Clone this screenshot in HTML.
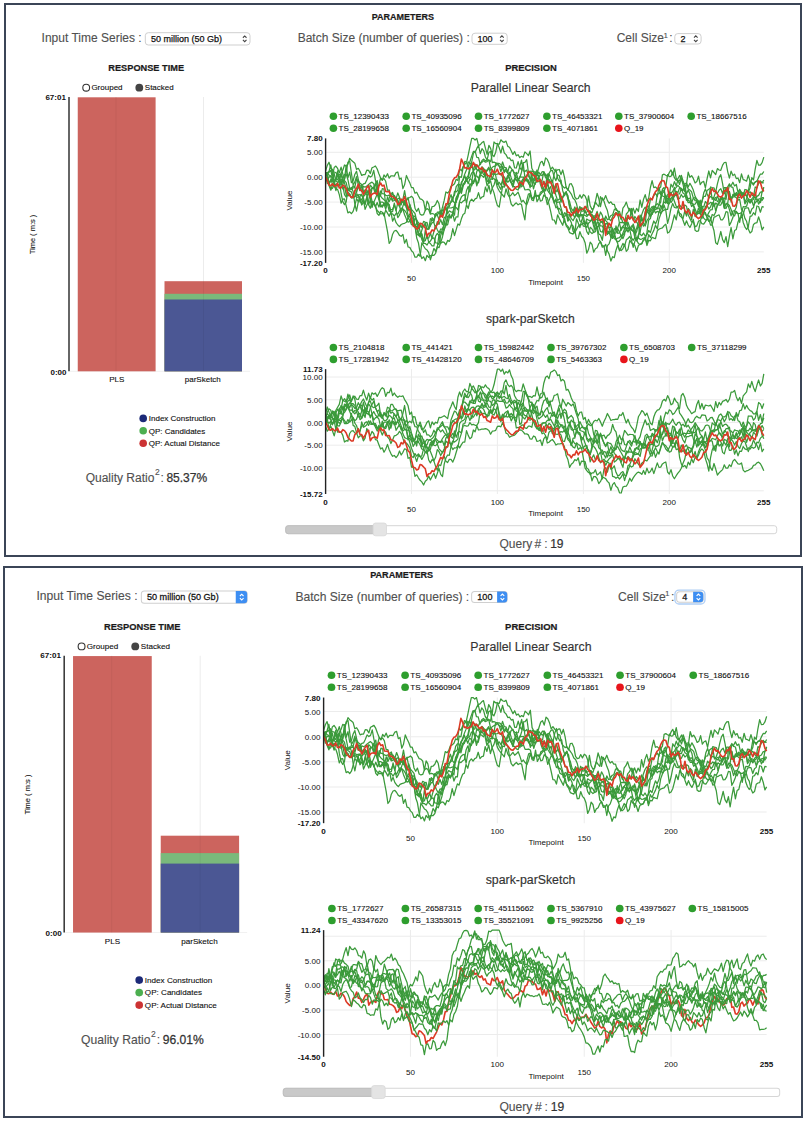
<!DOCTYPE html><html><head><meta charset="utf-8"><style>
html,body{margin:0;padding:0;background:#fff;}
body{width:807px;height:1123px;position:relative;overflow:hidden;font-family:"Liberation Sans",sans-serif;}
</style></head><body>
<svg width="807" height="1123" viewBox="0 0 807 1123" style="position:absolute;left:0;top:0" font-family="Liberation Sans, sans-serif" fill="#111">
<rect width="807" height="1123" fill="#fff"/>
<rect x="5" y="4" width="796" height="552" fill="none" stroke="#3b4557" stroke-width="2"/>
<rect x="4" y="567" width="798" height="550" fill="none" stroke="#3b4557" stroke-width="2"/>
<g><text x="402.8" y="20.1" font-size="9.6" textLength="62.3" lengthAdjust="spacingAndGlyphs" fill="#1a1a1a" font-weight="bold" text-anchor="middle" stroke="#1a1a1a" stroke-width="0.2">PARAMETERS</text>
<text x="41.6" y="42.1" font-size="12" fill="#505050" stroke="#505050" stroke-width="0.12">Input Time Series :</text>
<rect x="145.3" y="32.7" width="104.7" height="12.3" rx="3" fill="#fff" stroke="#cfcfcf" stroke-width="1"/>
<path d="M242.9 37.75 L244.7 35.95 L246.5 37.75 M242.9 39.95 L244.7 41.75 L246.5 39.95" fill="none" stroke="#444" stroke-width="1.1"/>
<text x="150.9" y="42.05" font-size="9" fill="#111" stroke="#111" stroke-width="0.25">50 million (50 Gb)</text>
<text x="297.7" y="42.3" font-size="12" fill="#505050" stroke="#505050" stroke-width="0.12">Batch Size (number of queries) :</text>
<rect x="472" y="33.2" width="35.2" height="11.1" rx="3" fill="#fff" stroke="#cfcfcf" stroke-width="1"/>
<path d="M500.1 37.65 L501.9 35.85 L503.7 37.65 M500.1 39.85 L501.9 41.65 L503.7 39.85" fill="none" stroke="#444" stroke-width="1.1"/>
<text x="477.6" y="41.95" font-size="9" fill="#111" stroke="#111" stroke-width="0.25">100</text>
<text x="616.7" y="42.3" font-size="12" fill="#505050" stroke="#505050" stroke-width="0.12">Cell Size</text>
<text x="663.4" y="37.6" font-size="8" fill="#505050" stroke="#505050" stroke-width="0.1">1</text>
<text x="669.3" y="42.3" font-size="12" fill="#505050" stroke="#505050" stroke-width="0.12">:</text>
<rect x="674.8" y="33.6" width="26.3" height="10.4" rx="3" fill="#fff" stroke="#cfcfcf" stroke-width="1"/>
<path d="M694 37.7 L695.8 35.9 L697.6 37.7 M694 39.9 L695.8 41.7 L697.6 39.9" fill="none" stroke="#444" stroke-width="1.1"/>
<text x="680.4" y="42" font-size="9" fill="#111" stroke="#111" stroke-width="0.25">2</text>
<text x="146.2" y="71.1" font-size="9.5" textLength="75.8" lengthAdjust="spacingAndGlyphs" fill="#1a1a1a" font-weight="bold" text-anchor="middle" stroke="#1a1a1a" stroke-width="0.2">RESPONSE TIME</text>
<text x="531" y="71.1" font-size="9.6" textLength="51.7" lengthAdjust="spacingAndGlyphs" fill="#1a1a1a" font-weight="bold" text-anchor="middle" stroke="#1a1a1a" stroke-width="0.2">PRECISION</text>
<text x="530.6" y="92.2" font-size="12.2" fill="#333" text-anchor="middle" stroke="#333" stroke-width="0.15">Parallel Linear Search</text>
<text x="530.3" y="323.3" font-size="12.2" fill="#333" text-anchor="middle" stroke="#333" stroke-width="0.15">spark-parSketch</text>
<line x1="70" y1="371.3" x2="250" y2="371.3" stroke="#f1f1f1"/>
<line x1="116" y1="97" x2="116" y2="371" stroke="#ececec"/>
<line x1="203.5" y1="97" x2="203.5" y2="371" stroke="#ececec"/>
<rect x="77.75" y="97.3" width="77.85" height="274" fill="#cc645e"/>
<rect x="164.5" y="281.2" width="77.5" height="90.1" fill="#cc645e"/>
<rect x="164.5" y="293.8" width="77.5" height="77.5" fill="#7ab97b"/>
<rect x="164.5" y="299.5" width="77.5" height="71.8" fill="#4b5794"/>
<line x1="116" y1="97.3" x2="116" y2="371.3" stroke="#000" stroke-opacity="0.05"/>
<line x1="203.5" y1="281.2" x2="203.5" y2="371.3" stroke="#000" stroke-opacity="0.05"/>
<line x1="69" y1="97" x2="69" y2="371.3" stroke="#333" stroke-width="1.5"/>
<text x="65.9" y="99.6" font-size="8" font-weight="bold" text-anchor="end">67:01</text>
<text x="66.5" y="374.6" font-size="8" font-weight="bold" text-anchor="end">0:00</text>
<text transform="translate(35.3,234.5) rotate(-90)" font-size="8" text-anchor="middle" stroke="#111" stroke-width="0.1" textLength="39.5" lengthAdjust="spacingAndGlyphs">Time ( m:s )</text>
<text x="116.7" y="382.2" font-size="8" text-anchor="middle" stroke="#111" stroke-width="0.12">PLS</text>
<text x="202.8" y="382.2" font-size="8" text-anchor="middle" stroke="#111" stroke-width="0.12">parSketch</text>
<circle cx="86.2" cy="87.7" r="3.4" fill="#fff" stroke="#333" stroke-width="1.1"/>
<text x="91.4" y="90.2" font-size="8" stroke="#111" stroke-width="0.12">Grouped</text>
<circle cx="139.3" cy="87.7" r="3.9" fill="#444"/>
<text x="144.8" y="90.2" font-size="8" stroke="#111" stroke-width="0.12">Stacked</text>
<circle cx="143.2" cy="418.4" r="3.8" fill="#1c2a78"/>
<text x="148.8" y="421.3" font-size="8" stroke="#111" stroke-width="0.12">Index Construction</text>
<circle cx="143.2" cy="430.8" r="3.8" fill="#4caf50"/>
<text x="148.8" y="433.7" font-size="8" stroke="#111" stroke-width="0.12">QP: Candidates</text>
<circle cx="143.2" cy="443.2" r="3.8" fill="#cc3333"/>
<text x="148.8" y="446.1" font-size="8" stroke="#111" stroke-width="0.12">QP: Actual Distance</text>
<text x="85.7" y="481.6" font-size="12" fill="#505050" stroke="#505050" stroke-width="0.12">Quality Ratio</text>
<text x="154.9" y="475.2" font-size="8.5" fill="#505050" stroke="#505050" stroke-width="0.1">2</text>
<text x="160.6" y="481.6" font-size="12" fill="#505050" stroke="#505050" stroke-width="0.12">:</text>
<text x="166.4" y="481.6" font-size="12" fill="#333" stroke="#333" stroke-width="0.25">85.37%</text>
<line x1="325.6" y1="152.3" x2="763.8" y2="152.3" stroke="#ececec"/>
<line x1="325.6" y1="177.2" x2="763.8" y2="177.2" stroke="#ececec"/>
<line x1="325.6" y1="202.1" x2="763.8" y2="202.1" stroke="#ececec"/>
<line x1="325.6" y1="227" x2="763.8" y2="227" stroke="#ececec"/>
<line x1="325.6" y1="251.9" x2="763.8" y2="251.9" stroke="#ececec"/>
<line x1="411.5" y1="138.4" x2="411.5" y2="262.9" stroke="#ececec"/>
<line x1="497.4" y1="138.4" x2="497.4" y2="262.9" stroke="#ececec"/>
<line x1="583.4" y1="138.4" x2="583.4" y2="262.9" stroke="#ececec"/>
<line x1="669.3" y1="138.4" x2="669.3" y2="262.9" stroke="#ececec"/>
<path d="M325.6 175.8 327.3 175 329 185.6 330.8 190.2 332.5 184.4 334.2 187 335.9 184.3 337.6 183.2 339.3 179.7 341.1 180 342.8 178.9 344.5 183.1 346.2 188.5 347.9 192.3 349.7 193.9 351.4 197.9 353.1 198 354.8 196.3 356.5 193.8 358.3 194.8 360 202.2 361.7 199.3 363.4 196.4 365.1 191 366.8 189.8 368.6 194.3 370.3 198 372 188.3 373.7 187.6 375.4 183.9 377.2 180.6 378.9 192.8 380.6 196.1 382.3 198.3 384 199.8 385.7 201.2 387.5 203.7 389.2 205.5 390.9 213.9 392.6 213.8 394.3 216.2 396.1 213.3 397.8 214.3 399.5 210.8 401.2 208.1 402.9 209 404.6 210.4 406.4 213 408.1 217.9 409.8 220.6 411.5 224.7 413.2 224.4 415 226.7 416.7 226.7 418.4 235.7 420.1 233 421.8 239.4 423.6 243.4 425.3 243.5 427 245 428.7 242.2 430.4 243.5 432.1 245.8 433.9 245.8 435.6 236.1 437.3 233.3 439 235.7 440.7 231.4 442.5 234.4 444.2 221.2 445.9 225.8 447.6 219.5 449.3 214.1 451 218.2 452.8 212.6 454.5 205.1 456.2 200.9 457.9 197.6 459.6 191.1 461.4 188.7 463.1 184.9 464.8 183.8 466.5 179.2 468.2 183.7 469.9 178.6 471.7 180 473.4 183.5 475.1 179.5 476.8 171.3 478.5 169.1 480.3 173.9 482 171.6 483.7 174.7 485.4 175.1 487.1 174.1 488.9 183.4 490.6 180.8 492.3 188.4 494 192.9 495.7 199.9 497.4 205.6 499.2 207.1 500.9 196.5 502.6 186.4 504.3 187.2 506 183.2 507.8 186.9 509.5 196.7 511.2 194.8 512.9 192.7 514.6 195.6 516.3 194.2 518.1 192.1 519.8 196.7 521.5 202.1 523.2 200.3 524.9 202.8 526.7 204.9 528.4 200.3 530.1 193.9 531.8 198.6 533.5 197.3 535.2 195.8 537 196.1 538.7 195.2 540.4 201.1 542.1 200.5 543.8 195 545.6 196.9 547.3 204.6 549 200.6 550.7 196.1 552.4 197.7 554.2 203.4 555.9 199 557.6 208.8 559.3 208.3 561 210.7 562.7 217.7 564.5 212.7 566.2 213.6 567.9 221.1 569.6 218.9 571.3 222.4 573.1 231.3 574.8 232.5 576.5 229.4 578.2 226.2 579.9 224.8 581.6 224.7 583.4 223.1 585.1 224.1 586.8 219 588.5 220.2 590.2 220.5 592 219.8 593.7 226.4 595.4 229.4 597.1 222.2 598.8 222.8 600.5 226 602.3 225.9 604 229.7 605.7 228.5 607.4 232.1 609.1 231 610.9 237.9 612.6 230 614.3 232.6 616 239.5 617.7 238.1 619.5 237.7 621.2 235.1 622.9 238.7 624.6 234.4 626.3 217.8 628 227.8 629.8 227.5 631.5 230.2 633.2 229.8 634.9 238.1 636.6 240.4 638.4 234.8 640.1 232.2 641.8 223.2 643.5 226.1 645.2 223.2 646.9 208.7 648.7 213.8 650.4 216.7 652.1 213.9 653.8 211.4 655.5 205.3 657.3 203.6 659 205.6 660.7 202 662.4 189.2 664.1 187.4 665.8 203 667.6 201.8 669.3 203.8 671 198.8 672.7 199 674.4 189.3 676.2 187.3 677.9 185.3 679.6 187.3 681.3 190.1 683 190.7 684.8 183.9 686.5 183 688.2 186.9 689.9 183.3 691.6 186.3 693.3 190.1 695.1 196.3 696.8 199.2 698.5 201 700.2 211.1 701.9 201.2 703.7 196.4 705.4 196.3 707.1 190.6 708.8 189.2 710.5 188.2 712.2 199.3 714 196.9 715.7 191.8 717.4 183.8 719.1 177.3 720.8 174.7 722.6 183.7 724.3 193.8 726 188.3 727.7 186.9 729.4 183.9 731.1 186.8 732.9 187.4 734.6 195.3 736.3 192.5 738 194.6 739.7 192.7 741.5 192.5 743.2 194.9 744.9 194.6 746.6 196 748.3 193 750.1 191.7 751.8 194.7 753.5 196.3 755.2 187 756.9 188 758.6 183.3 760.4 182 762.1 182.6 763.8 182.8" fill="none" stroke="#3b9a3b" stroke-width="1.25" stroke-linejoin="round"/>
<path d="M325.6 172.6 327.3 172.5 329 172.1 330.8 170.6 332.5 178 334.2 180.2 335.9 179.2 337.6 170.9 339.3 181.8 341.1 172.8 342.8 170.2 344.5 165 346.2 166.2 347.9 164.1 349.7 158.3 351.4 160.3 353.1 161.7 354.8 163.2 356.5 169.4 358.3 168.3 360 171.2 361.7 175.4 363.4 174.6 365.1 174.6 366.8 170.2 368.6 170.4 370.3 173.5 372 167.8 373.7 167 375.4 166 377.2 169 378.9 173.7 380.6 177.9 382.3 179.7 384 178.5 385.7 181.3 387.5 190.1 389.2 190 390.9 196.1 392.6 193.6 394.3 198.1 396.1 201.8 397.8 198.7 399.5 198 401.2 204.8 402.9 199.4 404.6 190.6 406.4 201.1 408.1 197.5 409.8 206.6 411.5 212.5 413.2 216.7 415 226.8 416.7 222.7 418.4 224.3 420.1 231.5 421.8 234.2 423.6 241.1 425.3 240.7 427 234.9 428.7 242.4 430.4 241.1 432.1 238.1 433.9 231.6 435.6 225.5 437.3 229.8 439 232.9 440.7 229 442.5 229.1 444.2 229.9 445.9 223.7 447.6 216.2 449.3 216.3 451 217.4 452.8 214 454.5 221.2 456.2 216.8 457.9 217 459.6 201.3 461.4 196.9 463.1 195.3 464.8 194.7 466.5 203.3 468.2 194.3 469.9 183.7 471.7 185.9 473.4 181.4 475.1 178.2 476.8 185.8 478.5 180.2 480.3 174.8 482 175.8 483.7 177.3 485.4 174.3 487.1 181.9 488.9 179.6 490.6 173.2 492.3 179.3 494 173.1 495.7 175.5 497.4 184.5 499.2 182.3 500.9 184.8 502.6 181.3 504.3 185.6 506 179.3 507.8 182.3 509.5 180 511.2 183 512.9 184.3 514.6 179.1 516.3 179.8 518.1 182.7 519.8 188.1 521.5 181.4 523.2 178.6 524.9 181.2 526.7 179.2 528.4 183.2 530.1 185.6 531.8 186.3 533.5 181.9 535.2 179 537 181.7 538.7 177.4 540.4 174.6 542.1 175.7 543.8 173.2 545.6 177.5 547.3 179.9 549 179.4 550.7 181.9 552.4 180.6 554.2 189.2 555.9 184.1 557.6 190.8 559.3 193.3 561 200.9 562.7 198.1 564.5 194.2 566.2 193.3 567.9 195.3 569.6 207.1 571.3 211.9 573.1 214.1 574.8 217.9 576.5 212.8 578.2 213.8 579.9 215.7 581.6 215 583.4 221 585.1 224.8 586.8 227.4 588.5 223.3 590.2 221.5 592 219.4 593.7 216.2 595.4 224.7 597.1 227 598.8 225.7 600.5 231.5 602.3 232.2 604 226.5 605.7 223.9 607.4 223.8 609.1 228.5 610.9 232.5 612.6 229.5 614.3 233.5 616 233 617.7 228.4 619.5 232.3 621.2 235.8 622.9 235.3 624.6 232.2 626.3 230.5 628 230.9 629.8 229.6 631.5 237.9 633.2 240.3 634.9 237.7 636.6 240.3 638.4 243.4 640.1 244.5 641.8 243.8 643.5 239.8 645.2 239.9 646.9 232.7 648.7 220 650.4 218.6 652.1 210.6 653.8 208.9 655.5 213 657.3 211.3 659 212.6 660.7 205.2 662.4 208.3 664.1 198.6 665.8 195.1 667.6 203.6 669.3 194.9 671 184.2 672.7 187.2 674.4 181.6 676.2 185.9 677.9 180 679.6 184.4 681.3 178.4 683 184.3 684.8 191.9 686.5 184.2 688.2 172.1 689.9 177.3 691.6 175.6 693.3 178.4 695.1 182.9 696.8 181.6 698.5 176.2 700.2 184.6 701.9 182.2 703.7 181.4 705.4 187.8 707.1 178.7 708.8 171 710.5 177.8 712.2 170.4 714 172.5 715.7 174.6 717.4 168.6 719.1 170 720.8 170.3 722.6 165.1 724.3 162.5 726 162.3 727.7 171.6 729.4 178.1 731.1 171.2 732.9 175.6 734.6 174.1 736.3 178.6 738 178 739.7 182.7 741.5 173.8 743.2 179.7 744.9 180.2 746.6 181.2 748.3 175.1 750.1 181.3 751.8 182.6 753.5 183.5 755.2 182.3 756.9 181 758.6 183.2 760.4 180.8 762.1 182.9 763.8 180" fill="none" stroke="#3b9a3b" stroke-width="1.25" stroke-linejoin="round"/>
<path d="M325.6 176.5 327.3 177.6 329 181.4 330.8 181.8 332.5 181.2 334.2 173.4 335.9 180.7 337.6 182.7 339.3 179.7 341.1 193.5 342.8 201.6 344.5 204.6 346.2 202 347.9 189.6 349.7 190.3 351.4 187.3 353.1 191.5 354.8 203.7 356.5 211.1 358.3 201.8 360 199.4 361.7 204.4 363.4 197.7 365.1 204.8 366.8 197.3 368.6 191.2 370.3 198.5 372 205.4 373.7 202.2 375.4 207.1 377.2 202.5 378.9 207.1 380.6 202 382.3 202 384 203.2 385.7 206.2 387.5 203.7 389.2 211.3 390.9 209.7 392.6 209.4 394.3 205 396.1 210.7 397.8 202.4 399.5 206 401.2 212.2 402.9 206.1 404.6 201.7 406.4 207.5 408.1 215.1 409.8 217 411.5 222 413.2 224.6 415 218.1 416.7 219.7 418.4 222.7 420.1 224.6 421.8 227.6 423.6 225.8 425.3 224.5 427 229 428.7 229.1 430.4 218.7 432.1 219.7 433.9 222.2 435.6 213.7 437.3 215 439 219.6 440.7 212.6 442.5 213.7 444.2 211.8 445.9 206.2 447.6 203.6 449.3 203.9 451 202.3 452.8 200.7 454.5 191.4 456.2 191.9 457.9 190.2 459.6 176.6 461.4 177.3 463.1 167.7 464.8 161.3 466.5 162.3 468.2 167.3 469.9 161.7 471.7 156.1 473.4 151.4 475.1 152.4 476.8 148.4 478.5 145.2 480.3 153.6 482 148.7 483.7 150.8 485.4 157 487.1 159.9 488.9 152.4 490.6 151.5 492.3 162.7 494 162.2 495.7 162.9 497.4 163.6 499.2 165.9 500.9 171.7 502.6 166.1 504.3 170.5 506 171.3 507.8 173.2 509.5 175.3 511.2 170.9 512.9 169.9 514.6 175.5 516.3 180.2 518.1 181.1 519.8 176.6 521.5 177.2 523.2 177 524.9 179.1 526.7 181 528.4 179.9 530.1 187.8 531.8 178.1 533.5 182.2 535.2 184.3 537 177.9 538.7 178.8 540.4 180.4 542.1 184.5 543.8 191.6 545.6 189.2 547.3 183.7 549 189.3 550.7 186.5 552.4 196 554.2 201.3 555.9 200.2 557.6 202.5 559.3 201.7 561 207.8 562.7 213.7 564.5 221.6 566.2 224.6 567.9 226.4 569.6 229.5 571.3 224.6 573.1 226 574.8 232.9 576.5 218.8 578.2 222.9 579.9 227.6 581.6 220.4 583.4 216.3 585.1 224.7 586.8 231.7 588.5 234.4 590.2 227.3 592 228.9 593.7 232.4 595.4 231.6 597.1 226.2 598.8 233.9 600.5 235 602.3 240.3 604 229 605.7 223.6 607.4 223 609.1 227.6 610.9 227.1 612.6 238.4 614.3 235.5 616 239.5 617.7 242 619.5 240.9 621.2 238.5 622.9 232.9 624.6 228.7 626.3 227.6 628 232.1 629.8 228.1 631.5 228.9 633.2 224 634.9 229.7 636.6 240.9 638.4 237.4 640.1 222.8 641.8 220 643.5 220.8 645.2 215.7 646.9 212.9 648.7 210.3 650.4 211.6 652.1 208.9 653.8 206 655.5 207 657.3 208.9 659 204.2 660.7 196.9 662.4 193.3 664.1 191.3 665.8 186.7 667.6 174.7 669.3 176.6 671 176.3 672.7 172.2 674.4 177.7 676.2 180.4 677.9 178.8 679.6 175.5 681.3 179.5 683 182.3 684.8 185.7 686.5 193.8 688.2 189.9 689.9 193.8 691.6 203.2 693.3 204.6 695.1 212.8 696.8 214.8 698.5 211.5 700.2 213 701.9 206.2 703.7 212.2 705.4 208.6 707.1 204.8 708.8 198.4 710.5 196.4 712.2 197.8 714 199.2 715.7 200.4 717.4 196 719.1 200.5 720.8 198.2 722.6 199.1 724.3 198.1 726 199.3 727.7 189.7 729.4 196.2 731.1 196.8 732.9 197.3 734.6 196.4 736.3 197.7 738 200.1 739.7 199.4 741.5 209.5 743.2 211.7 744.9 218.4 746.6 221.3 748.3 229 750.1 233 751.8 231.6 753.5 224.4 755.2 223.1 756.9 222.7 758.6 216.9 760.4 222.3 762.1 229.9 763.8 226.9" fill="none" stroke="#3b9a3b" stroke-width="1.25" stroke-linejoin="round"/>
<path d="M325.6 174.5 327.3 176.1 329 171.3 330.8 164.9 332.5 175.9 334.2 167.5 335.9 166.1 337.6 168.4 339.3 172.8 341.1 167.2 342.8 173.8 344.5 180.6 346.2 182.6 347.9 190.5 349.7 188 351.4 189.1 353.1 188 354.8 187.3 356.5 192.9 358.3 186 360 190.8 361.7 185.9 363.4 193.3 365.1 189.8 366.8 192.6 368.6 190.9 370.3 193 372 201.2 373.7 202.4 375.4 198.4 377.2 193.9 378.9 199.9 380.6 206.8 382.3 206.1 384 203 385.7 203 387.5 204 389.2 197.9 390.9 193.8 392.6 192.4 394.3 198.9 396.1 199.3 397.8 201.1 399.5 206.9 401.2 201.3 402.9 201.5 404.6 204.8 406.4 199.7 408.1 198.1 409.8 197.5 411.5 196.3 413.2 198.1 415 208.2 416.7 211.5 418.4 208.3 420.1 214.2 421.8 215.1 423.6 214.6 425.3 210.3 427 208.6 428.7 209.6 430.4 214.2 432.1 213.5 433.9 214 435.6 216.6 437.3 212.2 439 212.1 440.7 216.4 442.5 209.8 444.2 211 445.9 207.3 447.6 213.8 449.3 210.8 451 212 452.8 212 454.5 215.1 456.2 198.3 457.9 195.6 459.6 190.6 461.4 182.1 463.1 180.2 464.8 175.7 466.5 181.2 468.2 177.7 469.9 177.5 471.7 173 473.4 171.5 475.1 177.1 476.8 182.7 478.5 182.8 480.3 175.5 482 171.8 483.7 169.3 485.4 177.7 487.1 185.8 488.9 182.1 490.6 178.8 492.3 179.1 494 178.5 495.7 181 497.4 187.5 499.2 190.8 500.9 193 502.6 195 504.3 197.1 506 188.8 507.8 194.5 509.5 197.1 511.2 204 512.9 206.2 514.6 204.3 516.3 202.8 518.1 204.8 519.8 203.7 521.5 204.3 523.2 212.8 524.9 219.9 526.7 200.6 528.4 194.2 530.1 193.5 531.8 199.9 533.5 200.7 535.2 190.4 537 201.6 538.7 198.7 540.4 192.2 542.1 191.3 543.8 188.5 545.6 190.8 547.3 180.7 549 188.9 550.7 195.5 552.4 193.6 554.2 188.3 555.9 192 557.6 189.4 559.3 195.1 561 202.4 562.7 196.9 564.5 193.3 566.2 191.9 567.9 198.7 569.6 206.6 571.3 212.2 573.1 212.4 574.8 209.5 576.5 208.3 578.2 216.1 579.9 214.6 581.6 214.7 583.4 214.8 585.1 215.4 586.8 216.6 588.5 214.1 590.2 214.4 592 214.3 593.7 218.3 595.4 216.4 597.1 217.5 598.8 226.7 600.5 221.9 602.3 222.4 604 218.2 605.7 220.6 607.4 222.4 609.1 223.9 610.9 225.8 612.6 228.8 614.3 236.3 616 225.8 617.7 233.4 619.5 232.9 621.2 228.3 622.9 226.3 624.6 224.2 626.3 221.8 628 218.1 629.8 219 631.5 208.5 633.2 218.2 634.9 219.3 636.6 222.2 638.4 224.6 640.1 223.3 641.8 217.2 643.5 223.1 645.2 226 646.9 220.7 648.7 218 650.4 209.2 652.1 206.5 653.8 207.5 655.5 209.7 657.3 208.2 659 208.1 660.7 213.7 662.4 211.2 664.1 210.1 665.8 209.3 667.6 209.3 669.3 200.1 671 198.3 672.7 196.1 674.4 201.2 676.2 206.3 677.9 206.5 679.6 205 681.3 207.1 683 208.4 684.8 205 686.5 206.2 688.2 214.8 689.9 218.4 691.6 222.1 693.3 221.3 695.1 226.8 696.8 225.9 698.5 221.2 700.2 220.5 701.9 223.7 703.7 224.2 705.4 221.6 707.1 218.7 708.8 215.5 710.5 217.9 712.2 224.6 714 217.1 715.7 216.6 717.4 215.5 719.1 214.9 720.8 219.9 722.6 219.8 724.3 217 726 211.6 727.7 212 729.4 225.4 731.1 222.1 732.9 217.6 734.6 210.9 736.3 207.3 738 196.4 739.7 193.9 741.5 192.6 743.2 193.5 744.9 203.9 746.6 201.3 748.3 199.1 750.1 202 751.8 198.8 753.5 196.9 755.2 197.8 756.9 196.4 758.6 195.4 760.4 192 762.1 192 763.8 187.3" fill="none" stroke="#3b9a3b" stroke-width="1.25" stroke-linejoin="round"/>
<path d="M325.6 174.9 327.3 183.6 329 182.9 330.8 188.9 332.5 188.3 334.2 184.3 335.9 184.4 337.6 185.4 339.3 185.7 341.1 179.9 342.8 188.8 344.5 186.2 346.2 194.8 347.9 196.1 349.7 194.4 351.4 197.7 353.1 195.4 354.8 191.8 356.5 197.7 358.3 196.8 360 197.6 361.7 205 363.4 202.5 365.1 203.7 366.8 196.9 368.6 204.9 370.3 200.2 372 207.5 373.7 202.8 375.4 206.6 377.2 210.5 378.9 212.3 380.6 213.9 382.3 213.7 384 213 385.7 222.2 387.5 231.6 389.2 243.4 390.9 241 392.6 234.2 394.3 231 396.1 230.4 397.8 232.5 399.5 235.4 401.2 236.3 402.9 234.4 404.6 243.2 406.4 239.3 408.1 247 409.8 247.4 411.5 250.7 413.2 252.4 415 257.2 416.7 257.2 418.4 254.1 420.1 256.5 421.8 242.9 423.6 246 425.3 248.8 427 249.9 428.7 252.6 430.4 259.8 432.1 254.6 433.9 248.3 435.6 251.4 437.3 246.5 439 247.7 440.7 242.6 442.5 236.7 444.2 229.6 445.9 224.4 447.6 224.9 449.3 217.6 451 217.5 452.8 213.2 454.5 208 456.2 207.5 457.9 209.9 459.6 202 461.4 202.9 463.1 201.1 464.8 200.1 466.5 190.5 468.2 186.4 469.9 192 471.7 182.4 473.4 170.5 475.1 164 476.8 169.7 478.5 170.7 480.3 169.5 482 166.9 483.7 168.6 485.4 174.2 487.1 169.8 488.9 167.2 490.6 174.3 492.3 174.3 494 172 495.7 174.3 497.4 174.1 499.2 173.1 500.9 173.8 502.6 177.3 504.3 185.1 506 182.2 507.8 177.4 509.5 172.3 511.2 177.9 512.9 182.1 514.6 178.9 516.3 176.8 518.1 180 519.8 180.4 521.5 186.8 523.2 185.1 524.9 189.8 526.7 189.7 528.4 189.4 530.1 190.4 531.8 197.8 533.5 199.3 535.2 195.6 537 195.3 538.7 196.8 540.4 194.6 542.1 192.5 543.8 190.7 545.6 197 547.3 197.9 549 204.4 550.7 211.7 552.4 219.8 554.2 220 555.9 224.1 557.6 214.8 559.3 218.6 561 222 562.7 225.3 564.5 218.2 566.2 225.8 567.9 228.1 569.6 232.6 571.3 233.4 573.1 234.1 574.8 230.3 576.5 238.7 578.2 238.5 579.9 231.6 581.6 236.3 583.4 238.2 585.1 242.7 586.8 253.2 588.5 249.6 590.2 242.1 592 244.4 593.7 252.2 595.4 248.7 597.1 247.7 598.8 243.6 600.5 241.7 602.3 245.8 604 245.8 605.7 255.3 607.4 245.7 609.1 243.8 610.9 238.5 612.6 235.1 614.3 238.4 616 239.8 617.7 243.6 619.5 250.9 621.2 247.3 622.9 243.4 624.6 246 626.3 239.8 628 238.5 629.8 236.4 631.5 240.4 633.2 247.3 634.9 241.3 636.6 237.7 638.4 238 640.1 239.3 641.8 239.1 643.5 238 645.2 238.1 646.9 243.6 648.7 234.6 650.4 237.5 652.1 233.7 653.8 230.4 655.5 225.2 657.3 229.1 659 219 660.7 214.1 662.4 210.2 664.1 205.2 665.8 210.4 667.6 223.4 669.3 216.9 671 208.4 672.7 203.5 674.4 207.4 676.2 208 677.9 206.8 679.6 215.5 681.3 217.1 683 218.7 684.8 211 686.5 216.1 688.2 208.5 689.9 210.6 691.6 219.6 693.3 209.4 695.1 216.7 696.8 214.3 698.5 207.8 700.2 212.7 701.9 218.5 703.7 212.3 705.4 212.5 707.1 218.2 708.8 221.4 710.5 220.6 712.2 214.5 714 215.5 715.7 211.9 717.4 205.1 719.1 202 720.8 199 722.6 197.6 724.3 208.5 726 203.4 727.7 203.6 729.4 205.4 731.1 209.5 732.9 214.5 734.6 215.9 736.3 211.4 738 213.6 739.7 213.5 741.5 212.6 743.2 206.6 744.9 206.8 746.6 206.2 748.3 200.4 750.1 203.2 751.8 200.7 753.5 205.7 755.2 202.7 756.9 201 758.6 199.1 760.4 198.7 762.1 200.3 763.8 197.7" fill="none" stroke="#3b9a3b" stroke-width="1.25" stroke-linejoin="round"/>
<path d="M325.6 178 327.3 180.8 329 177.1 330.8 176.1 332.5 185.1 334.2 184.1 335.9 189.1 337.6 189.4 339.3 194.6 341.1 203.2 342.8 199.2 344.5 198.9 346.2 205.8 347.9 212.9 349.7 211.8 351.4 213.7 353.1 211.4 354.8 205.8 356.5 198.6 358.3 201.6 360 196.3 361.7 194.1 363.4 199.9 365.1 209.3 366.8 205.2 368.6 201.2 370.3 190.4 372 187.8 373.7 188.1 375.4 183.8 377.2 192.9 378.9 193.8 380.6 195.7 382.3 188.6 384 189.2 385.7 205.1 387.5 197.1 389.2 201.7 390.9 198 392.6 201.2 394.3 200.5 396.1 198.8 397.8 200 399.5 206.2 401.2 200.6 402.9 201.7 404.6 205 406.4 204.8 408.1 210.8 409.8 205.2 411.5 209.4 413.2 211.3 415 213.5 416.7 220.9 418.4 227.7 420.1 227 421.8 226.1 423.6 221.4 425.3 222.3 427 229.6 428.7 228.5 430.4 225.8 432.1 222.7 433.9 222.7 435.6 228.7 437.3 221.7 439 224.4 440.7 219.6 442.5 224.7 444.2 217.2 445.9 218 447.6 208.9 449.3 199.2 451 194.6 452.8 200.6 454.5 202.8 456.2 202.3 457.9 194 459.6 188.4 461.4 184 463.1 178.9 464.8 173.9 466.5 169.7 468.2 161.9 469.9 163.6 471.7 163 473.4 171.4 475.1 175.8 476.8 176 478.5 178.2 480.3 173.7 482 167.2 483.7 169 485.4 170.2 487.1 170.9 488.9 168.5 490.6 170.1 492.3 167.3 494 166.3 495.7 165.8 497.4 164 499.2 166.3 500.9 167.6 502.6 162 504.3 167.3 506 167.5 507.8 172.2 509.5 177.9 511.2 182 512.9 186.7 514.6 186.7 516.3 189.2 518.1 190 519.8 183.4 521.5 184.7 523.2 180.1 524.9 180.6 526.7 178.2 528.4 182.6 530.1 182.1 531.8 171 533.5 171.8 535.2 171.8 537 175.5 538.7 175.5 540.4 184.4 542.1 189.2 543.8 187.3 545.6 184.7 547.3 189.9 549 192.6 550.7 194.7 552.4 196.1 554.2 202.1 555.9 207.8 557.6 206.6 559.3 213.4 561 214.5 562.7 214.5 564.5 216.9 566.2 213.8 567.9 215 569.6 214.6 571.3 218.7 573.1 220.7 574.8 217 576.5 214.7 578.2 217.1 579.9 215.4 581.6 215.4 583.4 215.9 585.1 210.2 586.8 215 588.5 214.9 590.2 214.8 592 217.7 593.7 223.7 595.4 219.9 597.1 219.5 598.8 220.3 600.5 221.1 602.3 222.1 604 227.1 605.7 225.8 607.4 234.4 609.1 231.7 610.9 236.3 612.6 234.4 614.3 228.7 616 229.1 617.7 227.9 619.5 222.7 621.2 222.4 622.9 222.6 624.6 222.4 626.3 214 628 212.1 629.8 208.3 631.5 212.8 633.2 208.1 634.9 213.2 636.6 208.4 638.4 211.5 640.1 200 641.8 207.4 643.5 199.4 645.2 194.7 646.9 201.4 648.7 198 650.4 187.5 652.1 180.7 653.8 187.7 655.5 187 657.3 188.8 659 188.9 660.7 186.8 662.4 174.9 664.1 174.2 665.8 175.2 667.6 176.2 669.3 172.5 671 169.9 672.7 175 674.4 168.2 676.2 178.3 677.9 181.4 679.6 180.7 681.3 175.3 683 180.7 684.8 185.6 686.5 184.8 688.2 189 689.9 190.1 691.6 191.8 693.3 197.8 695.1 200.6 696.8 200.9 698.5 204.8 700.2 200.1 701.9 211.9 703.7 214.8 705.4 206.5 707.1 205.3 708.8 209 710.5 207 712.2 202.6 714 206.4 715.7 203.1 717.4 204.5 719.1 205.1 720.8 205.1 722.6 201 724.3 207.6 726 208.4 727.7 204.4 729.4 209.5 731.1 215.8 732.9 211 734.6 210.5 736.3 212.8 738 213.3 739.7 222.5 741.5 212.3 743.2 222.4 744.9 226.8 746.6 229.5 748.3 226.7 750.1 216.4 751.8 215.8 753.5 212.7 755.2 215 756.9 206 758.6 206.5 760.4 212.2 762.1 206.6 763.8 207.1" fill="none" stroke="#3b9a3b" stroke-width="1.25" stroke-linejoin="round"/>
<path d="M325.6 175.3 327.3 173.6 329 175 330.8 176.1 332.5 177.9 334.2 184.1 335.9 190.6 337.6 184.7 339.3 185.1 341.1 183.8 342.8 186.2 344.5 194.7 346.2 197.2 347.9 187.8 349.7 191.2 351.4 191.9 353.1 197.1 354.8 196.6 356.5 195.8 358.3 195.3 360 194.5 361.7 195.8 363.4 196.5 365.1 194.7 366.8 192.1 368.6 192.5 370.3 185.1 372 187.1 373.7 188.8 375.4 193.7 377.2 190 378.9 196.5 380.6 204.4 382.3 207.1 384 203.7 385.7 209.4 387.5 202.9 389.2 204.5 390.9 212 392.6 211.7 394.3 203.1 396.1 210.6 397.8 217.7 399.5 215.1 401.2 210.5 402.9 209.2 404.6 214.8 406.4 219.1 408.1 222.2 409.8 221.5 411.5 217.8 413.2 225.7 415 225.8 416.7 238 418.4 242.7 420.1 253 421.8 258.6 423.6 256.8 425.3 260.7 427 255.3 428.7 257.4 430.4 255.8 432.1 255.1 433.9 255.4 435.6 253.3 437.3 247.6 439 234.5 440.7 243.3 442.5 241.9 444.2 242.3 445.9 244.8 447.6 240.4 449.3 241.4 451 237.7 452.8 228.7 454.5 235.6 456.2 229.6 457.9 223.9 459.6 225.2 461.4 218.8 463.1 214.5 464.8 213.3 466.5 204.7 468.2 208.5 469.9 201.4 471.7 199.2 473.4 201.3 475.1 198.9 476.8 198.1 478.5 192.6 480.3 198.9 482 197 483.7 196.4 485.4 187 487.1 191.8 488.9 185.3 490.6 193.9 492.3 187.9 494 185 495.7 179.2 497.4 180.3 499.2 186.7 500.9 189.4 502.6 179.4 504.3 176.9 506 180.1 507.8 175.2 509.5 179.4 511.2 182.5 512.9 187 514.6 180.3 516.3 172.4 518.1 179.7 519.8 177.8 521.5 172.2 523.2 163.6 524.9 177.3 526.7 175.6 528.4 172.5 530.1 179.6 531.8 176.3 533.5 175.3 535.2 172.4 537 174.9 538.7 172.2 540.4 174.7 542.1 171.7 543.8 172 545.6 174.8 547.3 181.5 549 173.3 550.7 170.7 552.4 170.4 554.2 177.1 555.9 180.7 557.6 174.8 559.3 175.7 561 183.9 562.7 186.2 564.5 188 566.2 187 567.9 190.4 569.6 184.1 571.3 183.7 573.1 187.6 574.8 196.8 576.5 199 578.2 198.5 579.9 194.9 581.6 198.2 583.4 194.6 585.1 195.9 586.8 200.3 588.5 211.4 590.2 211.5 592 212.6 593.7 207.4 595.4 201.7 597.1 193.3 598.8 198.5 600.5 206.7 602.3 197.8 604 201.2 605.7 206.6 607.4 210.6 609.1 218.5 610.9 215.5 612.6 214.9 614.3 209.6 616 208.4 617.7 211.3 619.5 211.3 621.2 217.7 622.9 222.4 624.6 223.6 626.3 229.4 628 228.4 629.8 229.5 631.5 225.9 633.2 226.5 634.9 234.9 636.6 231.8 638.4 224.6 640.1 234.3 641.8 235.7 643.5 233 645.2 236 646.9 234.8 648.7 230.5 650.4 232.6 652.1 226.3 653.8 221 655.5 223.9 657.3 219.7 659 211.7 660.7 209.9 662.4 205.9 664.1 202.1 665.8 203 667.6 198.2 669.3 197.3 671 202.6 672.7 199.6 674.4 196.3 676.2 194.4 677.9 199.3 679.6 198.4 681.3 194.5 683 197.3 684.8 195.7 686.5 194.7 688.2 200.2 689.9 201.3 691.6 206.5 693.3 204.7 695.1 208.9 696.8 213.2 698.5 213.5 700.2 213.5 701.9 211.3 703.7 209.1 705.4 214.6 707.1 216 708.8 212.6 710.5 209.8 712.2 209.7 714 198.6 715.7 197.5 717.4 201.6 719.1 200.7 720.8 197.2 722.6 197.7 724.3 206.8 726 204.6 727.7 203.2 729.4 192.2 731.1 202 732.9 194.3 734.6 196.7 736.3 193.8 738 197.3 739.7 197.7 741.5 193.9 743.2 195.9 744.9 193.1 746.6 196.1 748.3 199 750.1 199.5 751.8 200.6 753.5 199.2 755.2 192.7 756.9 198.7 758.6 204.1 760.4 201.2 762.1 191.6 763.8 187.4" fill="none" stroke="#3b9a3b" stroke-width="1.25" stroke-linejoin="round"/>
<path d="M325.6 170.9 327.3 165.4 329 162.2 330.8 168.7 332.5 169.4 334.2 181.8 335.9 180.1 337.6 172.9 339.3 176.4 341.1 183.6 342.8 184.7 344.5 179.4 346.2 172.4 347.9 162.3 349.7 161.1 351.4 173.2 353.1 184.8 354.8 182.1 356.5 176.7 358.3 184.9 360 185.8 361.7 185.9 363.4 183.9 365.1 183.4 366.8 180 368.6 175.4 370.3 177.1 372 175.9 373.7 170.4 375.4 180.1 377.2 187.1 378.9 185 380.6 178 382.3 180.4 384 175 385.7 177.2 387.5 173.7 389.2 178.2 390.9 175.9 392.6 175.9 394.3 176.1 396.1 172.6 397.8 172 399.5 179.2 401.2 178 402.9 188.6 404.6 184.8 406.4 175.5 408.1 179.5 409.8 182.9 411.5 187.6 413.2 187.6 415 193.2 416.7 192.2 418.4 195.8 420.1 198.9 421.8 199.4 423.6 201.3 425.3 210.5 427 201.1 428.7 204.1 430.4 213.1 432.1 206.5 433.9 206.3 435.6 204.5 437.3 200.5 439 203.8 440.7 213.6 442.5 207.1 444.2 200.4 445.9 191.9 447.6 193.1 449.3 191.1 451 186.2 452.8 185.3 454.5 183.7 456.2 179.3 457.9 180.4 459.6 168.9 461.4 170.8 463.1 166.7 464.8 164.2 466.5 162.7 468.2 155.1 469.9 146.7 471.7 138.4 473.4 138.4 475.1 140 476.8 138.4 478.5 145.4 480.3 144.7 482 142.6 483.7 141.4 485.4 148.2 487.1 154.4 488.9 145.4 490.6 148.4 492.3 154.7 494 156.6 495.7 152.2 497.4 144 499.2 144.2 500.9 139.8 502.6 141.6 504.3 142.3 506 141.1 507.8 146.4 509.5 147.2 511.2 150.8 512.9 154.4 514.6 151.5 516.3 155.8 518.1 154.7 519.8 157.6 521.5 156.3 523.2 157.3 524.9 151.9 526.7 153.6 528.4 155.5 530.1 151 531.8 168.2 533.5 171.5 535.2 180.2 537 174 538.7 167.8 540.4 162.6 542.1 161.3 543.8 165.7 545.6 157.9 547.3 159.4 549 163.3 550.7 169.5 552.4 167.2 554.2 169.8 555.9 171.4 557.6 169.8 559.3 169.5 561 174.6 562.7 170 564.5 177.3 566.2 187.9 567.9 189.3 569.6 191.7 571.3 194.1 573.1 198.3 574.8 199.8 576.5 203.7 578.2 211.3 579.9 206.5 581.6 211.1 583.4 211.2 585.1 207.1 586.8 207.3 588.5 195.8 590.2 205.8 592 209.4 593.7 208.2 595.4 202 597.1 204.7 598.8 206.6 600.5 196.7 602.3 199.8 604 199.5 605.7 195.6 607.4 200.4 609.1 203.3 610.9 201.8 612.6 204.3 614.3 204.3 616 210.1 617.7 210.9 619.5 215.2 621.2 219.6 622.9 208.1 624.6 205.9 626.3 202.1 628 207.6 629.8 210.7 631.5 213.4 633.2 220.3 634.9 216.5 636.6 219 638.4 218 640.1 222.5 641.8 214.4 643.5 209.7 645.2 207.1 646.9 209.8 648.7 208.9 650.4 199.7 652.1 198.9 653.8 195.6 655.5 193.3 657.3 196.6 659 187 660.7 195 662.4 190.6 664.1 190.8 665.8 198.4 667.6 194.8 669.3 192.4 671 192.8 672.7 196.9 674.4 195.2 676.2 191.3 677.9 192.6 679.6 187.6 681.3 188.5 683 190 684.8 188.8 686.5 197.3 688.2 202.7 689.9 202.4 691.6 202.7 693.3 198.3 695.1 197.5 696.8 200.8 698.5 202.5 700.2 205.3 701.9 206.3 703.7 207 705.4 201.5 707.1 203.6 708.8 204.2 710.5 202.3 712.2 203.6 714 203.1 715.7 210.8 717.4 204.8 719.1 203.5 720.8 200.4 722.6 197.4 724.3 204.6 726 191.1 727.7 191.5 729.4 191.4 731.1 199.9 732.9 195.4 734.6 193.5 736.3 195.7 738 194.8 739.7 189.8 741.5 192.2 743.2 196.3 744.9 189.5 746.6 189.8 748.3 191.3 750.1 181.1 751.8 182.9 753.5 185 755.2 181.7 756.9 181.3 758.6 177.4 760.4 174 762.1 174.1 763.8 171.5" fill="none" stroke="#3b9a3b" stroke-width="1.25" stroke-linejoin="round"/>
<path d="M325.6 174 327.3 172.6 329 171.9 330.8 171 332.5 170.1 334.2 172.2 335.9 172.5 337.6 176.6 339.3 178.7 341.1 173.4 342.8 182.6 344.5 179 346.2 165.2 347.9 177.8 349.7 172.2 351.4 182.7 353.1 180.8 354.8 174.5 356.5 171.2 358.3 179.4 360 186.6 361.7 191.9 363.4 186.2 365.1 187.2 366.8 186.1 368.6 184.4 370.3 183.1 372 182.1 373.7 183.7 375.4 192.4 377.2 185.6 378.9 199 380.6 191 382.3 193.7 384 193.8 385.7 195.3 387.5 195.9 389.2 195.2 390.9 196.1 392.6 200.5 394.3 195.4 396.1 198.6 397.8 192.9 399.5 197.2 401.2 202.7 402.9 202 404.6 200.3 406.4 207.7 408.1 209.4 409.8 204 411.5 211.6 413.2 216.5 415 216.1 416.7 222.3 418.4 232.4 420.1 236.2 421.8 230.3 423.6 225.5 425.3 223 427 222.4 428.7 229.2 430.4 224.9 432.1 217.7 433.9 220.1 435.6 214.1 437.3 215.1 439 212.4 440.7 210.7 442.5 216.5 444.2 206.8 445.9 209.4 447.6 207.1 449.3 206.5 451 201.2 452.8 197 454.5 195.2 456.2 186.7 457.9 184.4 459.6 184.3 461.4 193.3 463.1 186.6 464.8 181.5 466.5 179.9 468.2 178.1 469.9 169.9 471.7 162 473.4 153.3 475.1 151 476.8 157.4 478.5 157.6 480.3 164.7 482 160.4 483.7 159.1 485.4 160.9 487.1 159.9 488.9 160 490.6 161.7 492.3 154.4 494 142 495.7 143.6 497.4 143.5 499.2 147.7 500.9 153 502.6 146.2 504.3 153 506 154.6 507.8 158.2 509.5 157.9 511.2 160.7 512.9 160.1 514.6 167.9 516.3 168 518.1 161.7 519.8 167.6 521.5 169.9 523.2 162.6 524.9 162.3 526.7 159.7 528.4 172.4 530.1 170.9 531.8 176.3 533.5 180.3 535.2 175.2 537 170 538.7 178.1 540.4 181.8 542.1 182.3 543.8 181.2 545.6 185.9 547.3 174.1 549 173.9 550.7 178.4 552.4 182.6 554.2 173.8 555.9 169.1 557.6 178.2 559.3 181.3 561 180.2 562.7 190.7 564.5 195.7 566.2 191.5 567.9 198 569.6 201.6 571.3 208.4 573.1 210.9 574.8 206.9 576.5 211 578.2 216.2 579.9 217 581.6 207.7 583.4 208.8 585.1 212.6 586.8 212.1 588.5 210.5 590.2 210.8 592 219.2 593.7 215.8 595.4 215.8 597.1 211.4 598.8 217.9 600.5 212 602.3 215.4 604 223.2 605.7 216 607.4 219.7 609.1 218.9 610.9 220.7 612.6 216.7 614.3 214.1 616 212.5 617.7 213.3 619.5 223.5 621.2 230.3 622.9 226.5 624.6 228.8 626.3 224 628 222.2 629.8 227.8 631.5 229.8 633.2 231.5 634.9 231.6 636.6 228.4 638.4 222.2 640.1 215 641.8 219.9 643.5 220.9 645.2 211.5 646.9 207.1 648.7 206 650.4 215.2 652.1 214.5 653.8 208.3 655.5 206.9 657.3 194.3 659 193.5 660.7 191.6 662.4 196 664.1 196.6 665.8 197 667.6 196.8 669.3 196 671 192.9 672.7 191.5 674.4 187.4 676.2 194.8 677.9 194 679.6 193.9 681.3 188.4 683 193.1 684.8 194.3 686.5 200.4 688.2 198.5 689.9 198.1 691.6 202.7 693.3 204.3 695.1 204.2 696.8 201.3 698.5 206.5 700.2 200.9 701.9 202.1 703.7 193.1 705.4 188.9 707.1 193.9 708.8 197.8 710.5 187 712.2 187.5 714 187.9 715.7 192.2 717.4 193.5 719.1 190.2 720.8 188.6 722.6 193.5 724.3 187.6 726 187.6 727.7 192.7 729.4 185.4 731.1 185.8 732.9 182.2 734.6 185.9 736.3 184.5 738 192.4 739.7 189.2 741.5 195.4 743.2 192.5 744.9 202.4 746.6 198.5 748.3 191.9 750.1 188 751.8 177.7 753.5 179.8 755.2 169.1 756.9 160.4 758.6 165.2 760.4 165.1 762.1 162.6 763.8 157.1" fill="none" stroke="#3b9a3b" stroke-width="1.25" stroke-linejoin="round"/>
<path d="M325.6 173.5 327.3 173.1 329 184.6 330.8 179.5 332.5 180.1 334.2 184.3 335.9 178.4 337.6 179.9 339.3 174.4 341.1 174.5 342.8 178.3 344.5 174.6 346.2 174.1 347.9 179.7 349.7 188.3 351.4 189.6 353.1 185.7 354.8 187 356.5 179.4 358.3 181 360 183.2 361.7 184.5 363.4 190.9 365.1 191.9 366.8 195 368.6 204.4 370.3 208.3 372 201.3 373.7 203.3 375.4 205.6 377.2 213.5 378.9 215.4 380.6 211.3 382.3 212.2 384 215.9 385.7 210.1 387.5 213.1 389.2 216.3 390.9 211.9 392.6 221.2 394.3 217.5 396.1 222.7 397.8 225 399.5 226.6 401.2 224.5 402.9 223.7 404.6 223.3 406.4 222.3 408.1 217.4 409.8 213.9 411.5 216.6 413.2 219 415 226.3 416.7 234.9 418.4 234.2 420.1 237 421.8 233.9 423.6 243.3 425.3 230.1 427 238.3 428.7 238 430.4 233 432.1 238.5 433.9 237.8 435.6 242.9 437.3 243 439 244.4 440.7 235.6 442.5 228.3 444.2 225.2 445.9 215.5 447.6 207.8 449.3 207.9 451 208 452.8 207.4 454.5 206.9 456.2 197.5 457.9 194.3 459.6 193.2 461.4 190.4 463.1 183.7 464.8 182.9 466.5 177.9 468.2 175.6 469.9 167.6 471.7 162.8 473.4 170.6 475.1 169.3 476.8 164.8 478.5 166.9 480.3 162.9 482 162.2 483.7 160.6 485.4 162.2 487.1 161.6 488.9 160.1 490.6 167.9 492.3 170.7 494 173.3 495.7 163.6 497.4 163.4 499.2 163.4 500.9 164.5 502.6 168.6 504.3 172.6 506 168.7 507.8 171.8 509.5 165.9 511.2 168.4 512.9 170.9 514.6 172.8 516.3 173.3 518.1 173.1 519.8 166.5 521.5 160.1 523.2 170.6 524.9 171.5 526.7 170.1 528.4 176 530.1 178.7 531.8 179.7 533.5 188.8 535.2 182.6 537 181.8 538.7 181.7 540.4 181.2 542.1 180.5 543.8 171.6 545.6 175.3 547.3 175.2 549 181.3 550.7 182.3 552.4 186.6 554.2 189.4 555.9 195.2 557.6 200.4 559.3 199.1 561 198.7 562.7 200.3 564.5 206.8 566.2 207.5 567.9 220.5 569.6 214.5 571.3 215.2 573.1 214.8 574.8 211.1 576.5 215.8 578.2 214.3 579.9 221.1 581.6 221.5 583.4 226.2 585.1 226.3 586.8 221.7 588.5 227.9 590.2 231.9 592 233.5 593.7 232.2 595.4 221.3 597.1 228.6 598.8 240 600.5 241.7 602.3 247.2 604 246.7 605.7 244.3 607.4 250.8 609.1 254.1 610.9 261.1 612.6 256.7 614.3 257.6 616 250.2 617.7 245.3 619.5 249.9 621.2 250.5 622.9 248.7 624.6 244.3 626.3 251.3 628 249.4 629.8 240.3 631.5 243 633.2 243.8 634.9 245.6 636.6 251.3 638.4 245.5 640.1 244.2 641.8 243.4 643.5 240 645.2 236.8 646.9 245.5 648.7 240.3 650.4 240.8 652.1 237.3 653.8 238.1 655.5 238.7 657.3 230.8 659 229.1 660.7 228.5 662.4 227.9 664.1 225.6 665.8 224.2 667.6 233 669.3 232 671 228.5 672.7 221.9 674.4 214.8 676.2 219.8 677.9 210.7 679.6 213.4 681.3 214.4 683 220.3 684.8 225.3 686.5 220.8 688.2 225 689.9 227.5 691.6 223.9 693.3 219.4 695.1 230.3 696.8 231.4 698.5 230.9 700.2 222.4 701.9 213.6 703.7 218.1 705.4 219.9 707.1 219.6 708.8 218.8 710.5 225.1 712.2 224.8 714 230.8 715.7 242.7 717.4 244.4 719.1 238.3 720.8 231.5 722.6 239.6 724.3 242.7 726 236.7 727.7 246.7 729.4 236.2 731.1 227.5 732.9 238.9 734.6 230.6 736.3 229.4 738 222 739.7 218 741.5 217.6 743.2 214.1 744.9 208.3 746.6 207.8 748.3 207.8 750.1 213.7 751.8 209 753.5 207.6 755.2 198.6 756.9 199.9 758.6 200.5 760.4 202.5 762.1 197.5 763.8 197.5" fill="none" stroke="#3b9a3b" stroke-width="1.25" stroke-linejoin="round"/>
<path d="M325.6 177.2 327.3 180.4 329 185.1 330.8 185.7 332.5 183.8 334.2 186 335.9 186 337.6 183.4 339.3 187.9 341.1 187.9 342.8 185.1 344.5 186.1 346.2 188.7 347.9 193.5 349.7 195.7 351.4 197.4 353.1 197.3 354.8 190.6 356.5 188.6 358.3 184 360 190.2 361.7 190.3 363.4 194.4 365.1 191.1 366.8 187.6 368.6 185.7 370.3 197.2 372 194.2 373.7 193.3 375.4 193.1 377.2 194.5 378.9 186 380.6 183 382.3 186 384 185.2 385.7 191.4 387.5 191.7 389.2 191.4 390.9 196.2 392.6 196.6 394.3 197.6 396.1 199.6 397.8 204.5 399.5 203.5 401.2 199.2 402.9 200.7 404.6 196.5 406.4 202 408.1 208.3 409.8 209.8 411.5 218.4 413.2 226.2 415 226.8 416.7 229.1 418.4 228.3 420.1 223.2 421.8 223.8 423.6 225.9 425.3 227.9 427 236.4 428.7 233.2 430.4 233 432.1 229.9 433.9 231 435.6 227.4 437.3 224.4 439 219.8 440.7 215.4 442.5 217.1 444.2 212.1 445.9 203.8 447.6 203.5 449.3 193.8 451 188.2 452.8 180.6 454.5 177.8 456.2 177.2 457.9 174.4 459.6 169 461.4 159 463.1 163 464.8 168 466.5 167.7 468.2 169 469.9 167.8 471.7 167.3 473.4 162.4 475.1 165.9 476.8 164.9 478.5 167.6 480.3 169.1 482 167.5 483.7 171.7 485.4 170.7 487.1 175.1 488.9 175.9 490.6 176.8 492.3 169.9 494 172.6 495.7 172 497.4 169.2 499.2 174.1 500.9 174.8 502.6 172.5 504.3 181.8 506 184.8 507.8 186.5 509.5 188.7 511.2 190.3 512.9 190.5 514.6 188.6 516.3 186.7 518.1 186.7 519.8 182 521.5 182.9 523.2 184.6 524.9 178 526.7 176.9 528.4 171.6 530.1 172.7 531.8 172.8 533.5 175.6 535.2 175.8 537 181.3 538.7 181 540.4 179.4 542.1 186.7 543.8 181.7 545.6 187.9 547.3 180.8 549 182.9 550.7 182 552.4 186.5 554.2 193.4 555.9 184.1 557.6 183.6 559.3 191.3 561 196.1 562.7 200.3 564.5 206.9 566.2 206.9 567.9 212.4 569.6 212.8 571.3 215.9 573.1 212.4 574.8 212.6 576.5 208.2 578.2 212.6 579.9 209.6 581.6 209.5 583.4 208.9 585.1 206.4 586.8 209.7 588.5 211.2 590.2 214.8 592 217.4 593.7 220.4 595.4 219.1 597.1 213.6 598.8 218.8 600.5 220.3 602.3 218.9 604 221.6 605.7 235.4 607.4 226.9 609.1 223.3 610.9 226.2 612.6 219 614.3 217 616 213.1 617.7 215.6 619.5 214 621.2 217.3 622.9 217.4 624.6 220.5 626.3 221.4 628 215.3 629.8 219.1 631.5 216.9 633.2 219.3 634.9 222.5 636.6 220.6 638.4 216.1 640.1 226.3 641.8 223.9 643.5 221.5 645.2 214 646.9 206 648.7 200.4 650.4 198.2 652.1 199.9 653.8 194.9 655.5 191.6 657.3 189.9 659 185.1 660.7 181.8 662.4 180.4 664.1 181 665.8 186.5 667.6 187.9 669.3 197.2 671 193.7 672.7 195.7 674.4 194.9 676.2 192.6 677.9 195.9 679.6 207.8 681.3 209.3 683 201.5 684.8 210.6 686.5 212.9 688.2 209.8 689.9 214.2 691.6 215.8 693.3 212.2 695.1 214.5 696.8 217.2 698.5 218.7 700.2 217.1 701.9 215.3 703.7 210 705.4 209.5 707.1 206.2 708.8 196.3 710.5 192.6 712.2 188.5 714 191.6 715.7 190.9 717.4 194 719.1 196.6 720.8 197.1 722.6 195.6 724.3 190.5 726 191 727.7 187.6 729.4 199.5 731.1 199.1 732.9 206 734.6 206.3 736.3 203.8 738 195.8 739.7 194.1 741.5 198.1 743.2 196 744.9 195.1 746.6 190.8 748.3 192.8 750.1 197.1 751.8 192.7 753.5 194.6 755.2 196 756.9 187.5 758.6 180.9 760.4 182.5 762.1 188.7 763.8 191.5" fill="none" stroke="#dc3a26" stroke-width="1.6" stroke-linejoin="round"/>
<line x1="325.6" y1="138.4" x2="325.6" y2="262.9" stroke="#222" stroke-width="1.4"/>
<text x="322.6" y="141.4" font-size="8" font-weight="bold" text-anchor="end">7.80</text>
<text x="322.6" y="155.3" font-size="8" text-anchor="end">5.00</text>
<text x="322.6" y="180.2" font-size="8" text-anchor="end">0.00</text>
<text x="322.6" y="205.1" font-size="8" text-anchor="end">-5.00</text>
<text x="322.6" y="230" font-size="8" text-anchor="end">-10.00</text>
<text x="322.6" y="254.9" font-size="8" text-anchor="end">-15.00</text>
<text x="322.6" y="265.9" font-size="8" font-weight="bold" text-anchor="end">-17.20</text>
<text x="325.6" y="273.4" font-size="8" text-anchor="middle" font-weight="bold">0</text>
<text x="411.5" y="280.7" font-size="8" text-anchor="middle">50</text>
<text x="497.4" y="273.4" font-size="8" text-anchor="middle">100</text>
<text x="583.4" y="280.7" font-size="8" text-anchor="middle">150</text>
<text x="669.3" y="273.4" font-size="8" text-anchor="middle">200</text>
<text x="763.8" y="273.4" font-size="8" text-anchor="middle" font-weight="bold">255</text>
<text x="545.6" y="284.9" font-size="8" text-anchor="middle">Timepoint</text>
<text transform="translate(292,200.6) rotate(-90)" font-size="8" text-anchor="middle">Value</text>
<circle cx="333.4" cy="116.3" r="3.8" fill="#2e9e2e"/>
<text x="338.6" y="119.2" font-size="8" stroke="#111" stroke-width="0.12">TS_12390433</text>
<circle cx="406.2" cy="116.3" r="3.8" fill="#2e9e2e"/>
<text x="411.4" y="119.2" font-size="8" stroke="#111" stroke-width="0.12">TS_40935096</text>
<circle cx="478.5" cy="116.3" r="3.8" fill="#2e9e2e"/>
<text x="483.7" y="119.2" font-size="8" stroke="#111" stroke-width="0.12">TS_1772627</text>
<circle cx="546.9" cy="116.3" r="3.8" fill="#2e9e2e"/>
<text x="552.1" y="119.2" font-size="8" stroke="#111" stroke-width="0.12">TS_46453321</text>
<circle cx="618.8" cy="116.3" r="3.8" fill="#2e9e2e"/>
<text x="624" y="119.2" font-size="8" stroke="#111" stroke-width="0.12">TS_37900604</text>
<circle cx="691.2" cy="116.3" r="3.8" fill="#2e9e2e"/>
<text x="696.4" y="119.2" font-size="8" stroke="#111" stroke-width="0.12">TS_18667516</text>
<circle cx="333.4" cy="128.2" r="3.8" fill="#2e9e2e"/>
<text x="338.6" y="131.1" font-size="8" stroke="#111" stroke-width="0.12">TS_28199658</text>
<circle cx="406.2" cy="128.2" r="3.8" fill="#2e9e2e"/>
<text x="411.4" y="131.1" font-size="8" stroke="#111" stroke-width="0.12">TS_16560904</text>
<circle cx="478.5" cy="128.2" r="3.8" fill="#2e9e2e"/>
<text x="483.7" y="131.1" font-size="8" stroke="#111" stroke-width="0.12">TS_8399809</text>
<circle cx="546.9" cy="128.2" r="3.8" fill="#2e9e2e"/>
<text x="552.1" y="131.1" font-size="8" stroke="#111" stroke-width="0.12">TS_4071861</text>
<circle cx="618.8" cy="128.2" r="3.8" fill="#e8141b"/>
<text x="624" y="131.1" font-size="8" stroke="#111" stroke-width="0.12">Q_19</text>
<line x1="325.6" y1="377" x2="763.8" y2="377" stroke="#ececec"/>
<line x1="325.6" y1="399.8" x2="763.8" y2="399.8" stroke="#ececec"/>
<line x1="325.6" y1="422.5" x2="763.8" y2="422.5" stroke="#ececec"/>
<line x1="325.6" y1="445.2" x2="763.8" y2="445.2" stroke="#ececec"/>
<line x1="325.6" y1="468" x2="763.8" y2="468" stroke="#ececec"/>
<line x1="325.6" y1="490.8" x2="763.8" y2="490.8" stroke="#ececec"/>
<line x1="411.5" y1="369.1" x2="411.5" y2="494" stroke="#ececec"/>
<line x1="497.4" y1="369.1" x2="497.4" y2="494" stroke="#ececec"/>
<line x1="583.4" y1="369.1" x2="583.4" y2="494" stroke="#ececec"/>
<line x1="669.3" y1="369.1" x2="669.3" y2="494" stroke="#ececec"/>
<path d="M325.6 418.1 327.3 422 329 422.7 330.8 423.2 332.5 417.9 334.2 420.6 335.9 419.7 337.6 416.6 339.3 410.5 341.1 405.4 342.8 409.9 344.5 404.2 346.2 404.6 347.9 401.3 349.7 399.6 351.4 404.6 353.1 405.9 354.8 408.4 356.5 407.7 358.3 402.7 360 405.9 361.7 410.7 363.4 402.1 365.1 410 366.8 411.2 368.6 411.9 370.3 417.8 372 414.3 373.7 411.6 375.4 414.8 377.2 417 378.9 419.2 380.6 426.7 382.3 423.7 384 427.4 385.7 428.6 387.5 424.4 389.2 419.8 390.9 424 392.6 419.1 394.3 413.8 396.1 416.8 397.8 420 399.5 421.3 401.2 425.9 402.9 430.9 404.6 429.5 406.4 429.4 408.1 436.8 409.8 442.5 411.5 448.3 413.2 452.6 415 456.6 416.7 461.5 418.4 455.6 420.1 456.8 421.8 455.9 423.6 448.6 425.3 452.5 427 450.9 428.7 460 430.4 462.9 432.1 459.6 433.9 461.1 435.6 466.4 437.3 470.2 439 464.8 440.7 465.6 442.5 459.3 444.2 456.2 445.9 461.2 447.6 462.5 449.3 459.4 451 459.3 452.8 462.1 454.5 458.1 456.2 452.3 457.9 446.8 459.6 438.9 461.4 433.4 463.1 426 464.8 425.5 466.5 426.1 468.2 425.8 469.9 422.6 471.7 424.9 473.4 424.3 475.1 425.3 476.8 425.3 478.5 422.6 480.3 410.6 482 413.6 483.7 413.3 485.4 413.9 487.1 415.4 488.9 415.8 490.6 408.9 492.3 413 494 408.8 495.7 409.9 497.4 416.5 499.2 417.8 500.9 418 502.6 420.4 504.3 413.6 506 412 507.8 411 509.5 415.5 511.2 413.3 512.9 416.1 514.6 407.3 516.3 411 518.1 412 519.8 412.2 521.5 415.6 523.2 417.5 524.9 419 526.7 415.5 528.4 419.5 530.1 420.2 531.8 419 533.5 421.1 535.2 426.2 537 429 538.7 428 540.4 429.5 542.1 423.3 543.8 422.9 545.6 422.8 547.3 426.6 549 423.3 550.7 424.7 552.4 428 554.2 429.2 555.9 418.7 557.6 423.4 559.3 428.3 561 424.9 562.7 425.1 564.5 431.6 566.2 428.9 567.9 437.8 569.6 439.9 571.3 445.7 573.1 438.1 574.8 438.2 576.5 429.3 578.2 432 579.9 434.3 581.6 442.5 583.4 448.5 585.1 450.4 586.8 446.9 588.5 452.5 590.2 461.8 592 457.7 593.7 454.9 595.4 460 597.1 458.2 598.8 454.5 600.5 451.9 602.3 461 604 461.3 605.7 465.2 607.4 461.8 609.1 463.3 610.9 469.2 612.6 468.2 614.3 465.8 616 472.3 617.7 475.8 619.5 475.1 621.2 472.7 622.9 471.6 624.6 475.1 626.3 475.9 628 470.6 629.8 465.5 631.5 467 633.2 465.9 634.9 458.7 636.6 461.6 638.4 464.1 640.1 466.4 641.8 463.1 643.5 461.6 645.2 460.1 646.9 461 648.7 458.2 650.4 455.9 652.1 456 653.8 450.8 655.5 457.4 657.3 452.7 659 452.5 660.7 448.4 662.4 442.1 664.1 445.4 665.8 449 667.6 451.1 669.3 447.5 671 444.4 672.7 447.2 674.4 447 676.2 442.3 677.9 443.7 679.6 457.5 681.3 463.9 683 466.8 684.8 465.4 686.5 468.1 688.2 462.1 689.9 464.9 691.6 458.7 693.3 462.7 695.1 457.4 696.8 458.6 698.5 454.9 700.2 450.7 701.9 448.9 703.7 450.7 705.4 458.6 707.1 463.7 708.8 471.1 710.5 457.9 712.2 449.9 714 445.7 715.7 451.2 717.4 440.1 719.1 446.1 720.8 444.2 722.6 452.4 724.3 453.9 726 447.7 727.7 444.4 729.4 450.3 731.1 450.3 732.9 445.8 734.6 454.2 736.3 449.8 738 455.8 739.7 451.2 741.5 451.4 743.2 446.5 744.9 448.9 746.6 449.6 748.3 447.9 750.1 449 751.8 446.9 753.5 448.3 755.2 447.3 756.9 442.1 758.6 442.8 760.4 438.1 762.1 436.6 763.8 435.4" fill="none" stroke="#3b9a3b" stroke-width="1.25" stroke-linejoin="round"/>
<path d="M325.6 426.3 327.3 431.2 329 428.9 330.8 424.1 332.5 423.5 334.2 422.4 335.9 421 337.6 432.1 339.3 431.7 341.1 432 342.8 435.4 344.5 442 346.2 440.7 347.9 441.2 349.7 433.5 351.4 431 353.1 430.7 354.8 433 356.5 433.7 358.3 431.1 360 431.9 361.7 421.9 363.4 427.3 365.1 426.4 366.8 424.7 368.6 420.8 370.3 424.2 372 424.4 373.7 423.8 375.4 423.5 377.2 427.6 378.9 429.2 380.6 428.3 382.3 421.2 384 428.6 385.7 426.2 387.5 421.4 389.2 429.9 390.9 424.6 392.6 421.5 394.3 424.9 396.1 423.7 397.8 421.1 399.5 425.8 401.2 427.5 402.9 433.8 404.6 437.6 406.4 438.5 408.1 439.2 409.8 434.3 411.5 439.3 413.2 446.5 415 443.3 416.7 441.2 418.4 442 420.1 444.8 421.8 449 423.6 449.6 425.3 441.6 427 439.3 428.7 440.3 430.4 439.6 432.1 441.9 433.9 445.3 435.6 445.6 437.3 444 439 448.8 440.7 450.7 442.5 452.8 444.2 448.9 445.9 441 447.6 442.7 449.3 442.5 451 444.6 452.8 441.1 454.5 442.1 456.2 440.8 457.9 438.9 459.6 423.6 461.4 421.2 463.1 420.6 464.8 419.1 466.5 412.8 468.2 409.6 469.9 410.1 471.7 418.7 473.4 412.7 475.1 408.3 476.8 406.2 478.5 405.9 480.3 406.9 482 403.3 483.7 406.8 485.4 403.9 487.1 407.9 488.9 410.2 490.6 412.1 492.3 414 494 415.1 495.7 411.3 497.4 405.9 499.2 413.2 500.9 419.2 502.6 414.3 504.3 417.1 506 416.5 507.8 417.1 509.5 415 511.2 420.9 512.9 417.4 514.6 416.9 516.3 428 518.1 427.4 519.8 427.8 521.5 425.1 523.2 424.9 524.9 427.8 526.7 428.3 528.4 426.2 530.1 426.2 531.8 427.3 533.5 419.2 535.2 420.7 537 428.4 538.7 429 540.4 428.9 542.1 433.8 543.8 432.8 545.6 435.8 547.3 443 549 442.2 550.7 440.5 552.4 439.5 554.2 441.8 555.9 445 557.6 443.9 559.3 444 561 443.7 562.7 443.4 564.5 446.8 566.2 455.8 567.9 459.6 569.6 467.4 571.3 464.3 573.1 462.8 574.8 459.6 576.5 460.7 578.2 457.9 579.9 465.3 581.6 461.1 583.4 461.3 585.1 461.7 586.8 468.3 588.5 469.2 590.2 474.9 592 472.8 593.7 472.8 595.4 469.7 597.1 475.1 598.8 473.7 600.5 471.8 602.3 479 604 469.1 605.7 467.7 607.4 472.1 609.1 465.4 610.9 463.2 612.6 476.4 614.3 476.8 616 478.3 617.7 476.9 619.5 479 621.2 477 622.9 473.7 624.6 480.6 626.3 474.4 628 465.5 629.8 464.6 631.5 460.2 633.2 453.8 634.9 454.6 636.6 454.4 638.4 453.9 640.1 456.4 641.8 447.4 643.5 448.2 645.2 447.9 646.9 445.9 648.7 442.2 650.4 450.3 652.1 453.9 653.8 451.3 655.5 447.7 657.3 451.5 659 454.1 660.7 447.1 662.4 443 664.1 444.5 665.8 445.8 667.6 448.3 669.3 452.2 671 451.5 672.7 447.1 674.4 445.6 676.2 440.3 677.9 445.6 679.6 450.6 681.3 445.2 683 447.6 684.8 446.8 686.5 445 688.2 448.9 689.9 452.7 691.6 448.4 693.3 457.2 695.1 451.4 696.8 458.6 698.5 451.7 700.2 447.7 701.9 445.4 703.7 442.9 705.4 442.3 707.1 447.4 708.8 442 710.5 440.8 712.2 438.4 714 439 715.7 439.8 717.4 435.6 719.1 432.7 720.8 433.5 722.6 439.6 724.3 442.7 726 445.1 727.7 438.6 729.4 436.8 731.1 439 732.9 441.3 734.6 445 736.3 441.5 738 446.4 739.7 448.6 741.5 443.5 743.2 440.8 744.9 441.5 746.6 446.5 748.3 451.6 750.1 446.7 751.8 445.2 753.5 439.9 755.2 443.8 756.9 445.1 758.6 449.6 760.4 442.9 762.1 451.7 763.8 448.9" fill="none" stroke="#3b9a3b" stroke-width="1.25" stroke-linejoin="round"/>
<path d="M325.6 413.7 327.3 407 329 412.1 330.8 416.9 332.5 417.9 334.2 419.7 335.9 413 337.6 409.2 339.3 411.2 341.1 409.3 342.8 400.2 344.5 401.2 346.2 402.3 347.9 394.1 349.7 399.6 351.4 401.6 353.1 395.9 354.8 399.2 356.5 409.2 358.3 412.1 360 419.7 361.7 418.3 363.4 413.3 365.1 417.5 366.8 407.7 368.6 402.2 370.3 400.9 372 406.5 373.7 407.7 375.4 407 377.2 405.6 378.9 403.2 380.6 414.8 382.3 416.6 384 420.5 385.7 420.7 387.5 418.8 389.2 409.8 390.9 413.3 392.6 412 394.3 414.4 396.1 416.9 397.8 412 399.5 420.3 401.2 419.2 402.9 413.5 404.6 405.5 406.4 416.6 408.1 426.4 409.8 435 411.5 438.4 413.2 439.1 415 439.6 416.7 435.7 418.4 438.9 420.1 438.7 421.8 446.2 423.6 447.2 425.3 445.9 427 453.6 428.7 449 430.4 442.8 432.1 441.7 433.9 440.1 435.6 439.7 437.3 443.8 439 441.3 440.7 441.8 442.5 438.5 444.2 436.2 445.9 434.3 447.6 437.9 449.3 434.6 451 424.7 452.8 420.7 454.5 421.9 456.2 423.3 457.9 417.4 459.6 415 461.4 419.1 463.1 416.3 464.8 405.9 466.5 412 468.2 408.8 469.9 409.7 471.7 407.3 473.4 407.1 475.1 408.8 476.8 415.8 478.5 411.2 480.3 407.3 482 405.2 483.7 407.4 485.4 406.9 487.1 395.5 488.9 401 490.6 401.4 492.3 405.4 494 404 495.7 401.4 497.4 395.9 499.2 396.4 500.9 397.6 502.6 397.2 504.3 396.3 506 398.2 507.8 398.5 509.5 394.5 511.2 400.2 512.9 402.1 514.6 407.3 516.3 408.9 518.1 402 519.8 405.8 521.5 401 523.2 391.3 524.9 391.5 526.7 394.7 528.4 399.5 530.1 409.8 531.8 410.8 533.5 411.2 535.2 404.1 537 400.5 538.7 401 540.4 393.8 542.1 393.5 543.8 383.2 545.6 377.2 547.3 376 549 378.7 550.7 372.2 552.4 371.4 554.2 369.9 555.9 371.4 557.6 375.6 559.3 374.7 561 381 562.7 379.4 564.5 381.3 566.2 390.2 567.9 389.4 569.6 392.8 571.3 398 573.1 401.9 574.8 402.8 576.5 410.9 578.2 416 579.9 412.3 581.6 412 583.4 419.3 585.1 417.5 586.8 424 588.5 419.4 590.2 423.1 592 425.2 593.7 434.4 595.4 437.5 597.1 433 598.8 438.8 600.5 435.1 602.3 435.8 604 435.1 605.7 438.6 607.4 435.6 609.1 434.6 610.9 432.2 612.6 424.3 614.3 429.6 616 431.9 617.7 440.5 619.5 435.1 621.2 439.7 622.9 438.2 624.6 444.5 626.3 445.1 628 442 629.8 440.4 631.5 443.6 633.2 441 634.9 442.2 636.6 440.1 638.4 443.3 640.1 441.6 641.8 446.8 643.5 443.1 645.2 445.3 646.9 446.2 648.7 448.9 650.4 444.2 652.1 444.2 653.8 445.1 655.5 439.1 657.3 442.7 659 437.6 660.7 431.8 662.4 440.7 664.1 436.5 665.8 435.3 667.6 436 669.3 436.1 671 444.3 672.7 443 674.4 443 676.2 449.7 677.9 448.9 679.6 452.3 681.3 449.6 683 451.7 684.8 449.2 686.5 453.6 688.2 453.1 689.9 452.4 691.6 451.1 693.3 447 695.1 440.2 696.8 447.2 698.5 441.6 700.2 442.1 701.9 442.5 703.7 442.7 705.4 441.9 707.1 440.8 708.8 436.1 710.5 431 712.2 430.9 714 431.9 715.7 430.2 717.4 429.6 719.1 423.6 720.8 428.8 722.6 434 724.3 432 726 428.7 727.7 428.7 729.4 427.2 731.1 437.2 732.9 436.8 734.6 436.2 736.3 438.6 738 437.4 739.7 435 741.5 429 743.2 429.7 744.9 432.6 746.6 426.2 748.3 416 750.1 416.1 751.8 416.1 753.5 420.2 755.2 418.1 756.9 411.3 758.6 420.3 760.4 414.5 762.1 422 763.8 413.5" fill="none" stroke="#3b9a3b" stroke-width="1.25" stroke-linejoin="round"/>
<path d="M325.6 419.8 327.3 416.9 329 418.9 330.8 417.7 332.5 410.9 334.2 416.7 335.9 410.2 337.6 407.3 339.3 404.4 341.1 395.9 342.8 401 344.5 398.7 346.2 401.3 347.9 398.7 349.7 394.9 351.4 400.7 353.1 397.7 354.8 396.2 356.5 399.1 358.3 399.4 360 395.7 361.7 395.7 363.4 390.1 365.1 396.1 366.8 400.2 368.6 393.1 370.3 398.5 372 392.8 373.7 394.2 375.4 392.9 377.2 396.4 378.9 393.2 380.6 389.7 382.3 387.7 384 388.9 385.7 396.4 387.5 392.3 389.2 392.7 390.9 388.2 392.6 395.7 394.3 393 396.1 395.8 397.8 397.3 399.5 396 401.2 396.5 402.9 395.8 404.6 399.6 406.4 402.4 408.1 405.8 409.8 414.3 411.5 412 413.2 421.5 415 426.7 416.7 426.8 418.4 431.3 420.1 433.7 421.8 443 423.6 443 425.3 445.1 427 444.7 428.7 440.1 430.4 439.7 432.1 438.6 433.9 436.5 435.6 432.5 437.3 429.3 439 429.5 440.7 431.9 442.5 429.8 444.2 432.6 445.9 434.6 447.6 436.4 449.3 439.9 451 445.9 452.8 449.6 454.5 447.8 456.2 448 457.9 445.4 459.6 447.9 461.4 444.6 463.1 442 464.8 442 466.5 430.6 468.2 435.4 469.9 438.8 471.7 437.2 473.4 430 475.1 431.8 476.8 425.8 478.5 430 480.3 429.6 482 429 483.7 429.2 485.4 428.6 487.1 429.2 488.9 430.4 490.6 434.2 492.3 431.2 494 431 495.7 430.3 497.4 426.4 499.2 426.2 500.9 426.8 502.6 422.6 504.3 426.6 506 433.1 507.8 434 509.5 437.3 511.2 436.2 512.9 435.7 514.6 435.1 516.3 433.3 518.1 430.8 519.8 429.8 521.5 430.1 523.2 431.9 524.9 434 526.7 433.9 528.4 434.9 530.1 438.9 531.8 439.2 533.5 436 535.2 436.9 537 441.4 538.7 441 540.4 440 542.1 445.5 543.8 438.8 545.6 436.3 547.3 439.3 549 432.2 550.7 430.7 552.4 428.6 554.2 432.8 555.9 434.2 557.6 434.3 559.3 433.2 561 434.9 562.7 441.1 564.5 441.5 566.2 435.5 567.9 433.1 569.6 424.3 571.3 420.1 573.1 422.1 574.8 422.5 576.5 430.5 578.2 426.9 579.9 421.6 581.6 425.2 583.4 427.9 585.1 429.5 586.8 426.4 588.5 423.8 590.2 425.6 592 425.2 593.7 421.6 595.4 420.2 597.1 421 598.8 418.5 600.5 421.9 602.3 426.2 604 421.4 605.7 417.9 607.4 413.5 609.1 416.6 610.9 420.5 612.6 419.7 614.3 419.7 616 419.2 617.7 419.4 619.5 414.7 621.2 415.5 622.9 412.5 624.6 418.1 626.3 423 628 419.2 629.8 424.3 631.5 427.3 633.2 429.1 634.9 432.8 636.6 426.2 638.4 416.8 640.1 414 641.8 410.6 643.5 412 645.2 415.6 646.9 413.1 648.7 418.1 650.4 423.3 652.1 424.8 653.8 417 655.5 412.5 657.3 410.1 659 409.6 660.7 407 662.4 401.2 664.1 399.3 665.8 401 667.6 395.6 669.3 399.1 671 404.8 672.7 403.7 674.4 398.1 676.2 401.5 677.9 402.9 679.6 413.1 681.3 415.4 683 418.1 684.8 421.4 686.5 427 688.2 425.2 689.9 428.4 691.6 433 693.3 431.6 695.1 424.4 696.8 435.4 698.5 440.2 700.2 437.8 701.9 436.2 703.7 445.7 705.4 449.9 707.1 457.9 708.8 460.4 710.5 467.6 712.2 470.3 714 463.5 715.7 469 717.4 475.2 719.1 472.9 720.8 471.2 722.6 469.6 724.3 464.8 726 468.2 727.7 468.1 729.4 464.8 731.1 466.6 732.9 461.2 734.6 459.3 736.3 461.6 738 463.9 739.7 464.2 741.5 462.9 743.2 470.1 744.9 471.9 746.6 470.8 748.3 470.3 750.1 469.2 751.8 468.4 753.5 465.4 755.2 464.9 756.9 462.8 758.6 462.2 760.4 463.8 762.1 466.9 763.8 470.7" fill="none" stroke="#3b9a3b" stroke-width="1.25" stroke-linejoin="round"/>
<path d="M325.6 416.7 327.3 413.7 329 416 330.8 414.8 332.5 411.6 334.2 411.4 335.9 418.1 337.6 418.6 339.3 408.2 341.1 414 342.8 406.5 344.5 410.3 346.2 408.3 347.9 403.4 349.7 407.9 351.4 403.4 353.1 412.7 354.8 410.5 356.5 411.2 358.3 408.2 360 405.3 361.7 401.6 363.4 399 365.1 402.7 366.8 406.7 368.6 403.9 370.3 406.3 372 414.1 373.7 420.1 375.4 417.9 377.2 417.1 378.9 414.5 380.6 412.3 382.3 417.3 384 413.4 385.7 416 387.5 411.9 389.2 410.9 390.9 404.3 392.6 404.4 394.3 407.9 396.1 409.9 397.8 410.9 399.5 410.4 401.2 410.2 402.9 416.9 404.6 422.6 406.4 420.6 408.1 422.8 409.8 421.1 411.5 422.9 413.2 416.6 415 416.8 416.7 424.3 418.4 426.6 420.1 424.9 421.8 429.7 423.6 428.9 425.3 425.9 427 422.3 428.7 420.8 430.4 427.9 432.1 421.8 433.9 424.7 435.6 422.2 437.3 423.1 439 417.4 440.7 417.6 442.5 416.8 444.2 415.7 445.9 417.1 447.6 418.6 449.3 410.3 451 406.5 452.8 401.8 454.5 406.5 456.2 409.6 457.9 397.3 459.6 392 461.4 396.9 463.1 391.3 464.8 389 466.5 391.7 468.2 391.6 469.9 383.4 471.7 387.7 473.4 385.9 475.1 389.5 476.8 394.4 478.5 385.5 480.3 386.1 482 390.7 483.7 393.1 485.4 394.2 487.1 397.7 488.9 394.4 490.6 391.2 492.3 392.7 494 392.1 495.7 395.9 497.4 392.4 499.2 398.5 500.9 395.8 502.6 390.8 504.3 394.1 506 385.3 507.8 395.8 509.5 400.1 511.2 402.7 512.9 401.5 514.6 400.3 516.3 403.2 518.1 411.2 519.8 405.4 521.5 404.4 523.2 403.1 524.9 411.3 526.7 409.4 528.4 410.8 530.1 407.8 531.8 403.4 533.5 410 535.2 411.5 537 412 538.7 415.3 540.4 412.5 542.1 410.9 543.8 414.9 545.6 417.4 547.3 414.9 549 420.7 550.7 417 552.4 412.9 554.2 412 555.9 418.2 557.6 412.5 559.3 408.5 561 418.3 562.7 413.3 564.5 412.3 566.2 413.8 567.9 422.8 569.6 422.2 571.3 429.6 573.1 430.3 574.8 429 576.5 429.9 578.2 433.8 579.9 434.5 581.6 437.4 583.4 438.3 585.1 443.2 586.8 448.4 588.5 450.1 590.2 454.3 592 448.9 593.7 440.2 595.4 441.4 597.1 440.4 598.8 447.8 600.5 449.3 602.3 454.3 604 451.6 605.7 452.2 607.4 457.1 609.1 452 610.9 453.9 612.6 452.2 614.3 450.7 616 447.9 617.7 446.5 619.5 449.9 621.2 452.8 622.9 455.9 624.6 459.2 626.3 451 628 452.9 629.8 446.9 631.5 451.2 633.2 453.3 634.9 448.5 636.6 448 638.4 449.6 640.1 441.6 641.8 446.4 643.5 447.5 645.2 442.8 646.9 436.6 648.7 438.1 650.4 441.9 652.1 433.3 653.8 434.8 655.5 437.2 657.3 435.2 659 427.3 660.7 435.4 662.4 434.6 664.1 427.8 665.8 424.2 667.6 423.7 669.3 424.3 671 422.2 672.7 419.1 674.4 423.1 676.2 425.3 677.9 422.6 679.6 422.2 681.3 425.7 683 424.1 684.8 426.6 686.5 422.2 688.2 418.7 689.9 422.1 691.6 422.7 693.3 421.6 695.1 417.9 696.8 416.2 698.5 417.7 700.2 418.2 701.9 414.9 703.7 415.1 705.4 415.4 707.1 421 708.8 419.8 710.5 417.7 712.2 417.4 714 420.9 715.7 425.5 717.4 419.5 719.1 415.2 720.8 413.9 722.6 416.7 724.3 417 726 415.8 727.7 412.2 729.4 412.2 731.1 415.7 732.9 417.1 734.6 420.6 736.3 412.5 738 416.5 739.7 410.6 741.5 410.2 743.2 403.7 744.9 409.1 746.6 405.3 748.3 408.7 750.1 410.7 751.8 411.3 753.5 413.8 755.2 413.8 756.9 411.2 758.6 402.5 760.4 403.9 762.1 408.5 763.8 403.5" fill="none" stroke="#3b9a3b" stroke-width="1.25" stroke-linejoin="round"/>
<path d="M325.6 423.4 327.3 418.5 329 429.6 330.8 426.2 332.5 431 334.2 435.9 335.9 428.8 337.6 420.9 339.3 413 341.1 413.8 342.8 414.2 344.5 412.4 346.2 409.6 347.9 406.5 349.7 402.7 351.4 403.6 353.1 403.7 354.8 405.4 356.5 410.3 358.3 409.4 360 405.4 361.7 405.2 363.4 414.7 365.1 407.5 366.8 411.3 368.6 402.3 370.3 397.5 372 400.2 373.7 398.4 375.4 407.4 377.2 411.6 378.9 416.1 380.6 415.1 382.3 415.4 384 414.8 385.7 413.8 387.5 407.2 389.2 408.3 390.9 410.8 392.6 410.5 394.3 409.1 396.1 409 397.8 415 399.5 417.6 401.2 419.2 402.9 423.3 404.6 429.3 406.4 430.6 408.1 439.8 409.8 438.1 411.5 441.6 413.2 440.6 415 439.5 416.7 431.5 418.4 426.2 420.1 422 421.8 427.1 423.6 432.5 425.3 429.8 427 435 428.7 434.9 430.4 436.8 432.1 434.9 433.9 430.2 435.6 433.3 437.3 429.9 439 428 440.7 426.6 442.5 424.7 444.2 426.7 445.9 426.8 447.6 426.8 449.3 430.1 451 420 452.8 415.2 454.5 411.1 456.2 412.2 457.9 415.9 459.6 409.8 461.4 409.1 463.1 399.4 464.8 393.2 466.5 397.3 468.2 392.9 469.9 392.2 471.7 395.3 473.4 402.8 475.1 399.6 476.8 397.2 478.5 395.5 480.3 399.6 482 400 483.7 400 485.4 400 487.1 402.1 488.9 397.2 490.6 396 492.3 398.9 494 397.9 495.7 395.4 497.4 396.3 499.2 397.1 500.9 396 502.6 401.1 504.3 399.2 506 403.1 507.8 403 509.5 399.7 511.2 404.3 512.9 402 514.6 402.8 516.3 400.7 518.1 409.8 519.8 424.5 521.5 423.1 523.2 411.1 524.9 410 526.7 411.5 528.4 411.8 530.1 410.6 531.8 412.3 533.5 404.3 535.2 407.2 537 414.4 538.7 418.9 540.4 417.5 542.1 416.3 543.8 412.5 545.6 409.6 547.3 407.6 549 413.8 550.7 412.7 552.4 416.2 554.2 414 555.9 417.3 557.6 410.9 559.3 405.1 561 405.9 562.7 411.9 564.5 409.2 566.2 410.9 567.9 418.7 569.6 416.9 571.3 415.5 573.1 417.9 574.8 428.1 576.5 426.1 578.2 424.4 579.9 429.4 581.6 427 583.4 428 585.1 427.6 586.8 437.8 588.5 439.8 590.2 438.8 592 446 593.7 443.3 595.4 435.6 597.1 442.6 598.8 436.2 600.5 433.9 602.3 439.3 604 442.9 605.7 445.7 607.4 443.5 609.1 452.2 610.9 446.7 612.6 451.3 614.3 450 616 449.5 617.7 441.9 619.5 443.6 621.2 444 622.9 436.9 624.6 430.5 626.3 432.7 628 435.2 629.8 434.4 631.5 434.5 633.2 434.7 634.9 438.5 636.6 445 638.4 439.6 640.1 436.6 641.8 429.7 643.5 424.8 645.2 419.8 646.9 424.8 648.7 423.6 650.4 430.5 652.1 429.5 653.8 428.6 655.5 431.6 657.3 430.2 659 420.5 660.7 425.6 662.4 421.9 664.1 424.9 665.8 422.2 667.6 433.6 669.3 436.4 671 434.3 672.7 426 674.4 427.5 676.2 432.7 677.9 433.2 679.6 429.1 681.3 435.3 683 433.4 684.8 433.2 686.5 434 688.2 430 689.9 432.1 691.6 428.6 693.3 426.4 695.1 422.7 696.8 425.3 698.5 428.5 700.2 434.3 701.9 435.9 703.7 439.7 705.4 431.8 707.1 441.3 708.8 436.9 710.5 433.5 712.2 430.2 714 431.9 715.7 422.9 717.4 426.3 719.1 433 720.8 435 722.6 436.9 724.3 430.6 726 431.8 727.7 436 729.4 439 731.1 438 732.9 438.5 734.6 437.5 736.3 432.7 738 438.5 739.7 439.6 741.5 436.8 743.2 441.4 744.9 436.4 746.6 430.3 748.3 430.8 750.1 428.2 751.8 430.6 753.5 430.5 755.2 429.3 756.9 429.6 758.6 425.1 760.4 428.5 762.1 425.6 763.8 428.8" fill="none" stroke="#3b9a3b" stroke-width="1.25" stroke-linejoin="round"/>
<path d="M325.6 419.1 327.3 412.3 329 408.8 330.8 410.2 332.5 418 334.2 421.1 335.9 429.4 337.6 421.2 339.3 420.3 341.1 420.3 342.8 418 344.5 423.6 346.2 423.6 347.9 423.4 349.7 420.2 351.4 413.4 353.1 425.4 354.8 426.4 356.5 432.6 358.3 437.9 360 435.8 361.7 435.7 363.4 440.8 365.1 438.2 366.8 428.5 368.6 432.2 370.3 435.7 372 431.4 373.7 433.5 375.4 439.7 377.2 440.2 378.9 444.7 380.6 449 382.3 447.8 384 452.2 385.7 449.3 387.5 444.4 389.2 449.8 390.9 453.6 392.6 456.3 394.3 455.5 396.1 457.6 397.8 455.4 399.5 451 401.2 455 402.9 452.3 404.6 448.8 406.4 449.5 408.1 458.3 409.8 457.5 411.5 467.2 413.2 466.5 415 476.3 416.7 474.8 418.4 477.8 420.1 480.3 421.8 481.9 423.6 485 425.3 481.3 427 479.8 428.7 476.1 430.4 479.9 432.1 476.5 433.9 473.2 435.6 478.3 437.3 473.4 439 468.3 440.7 474.4 442.5 476.6 444.2 464.2 445.9 458 447.6 455 449.3 455.4 451 446.6 452.8 443 454.5 435.8 456.2 429.2 457.9 420.1 459.6 412.2 461.4 409.5 463.1 402 464.8 396.5 466.5 396.2 468.2 397.7 469.9 394.9 471.7 388.2 473.4 390.4 475.1 392.8 476.8 391.4 478.5 390.8 480.3 388.2 482 386.8 483.7 387.8 485.4 384.9 487.1 387.5 488.9 388.6 490.6 392.2 492.3 390.4 494 384.8 495.7 376.8 497.4 369.1 499.2 369.1 500.9 371.5 502.6 369.1 504.3 374.2 506 371.5 507.8 372.9 509.5 369.9 511.2 375.8 512.9 379.3 514.6 389.6 516.3 391.7 518.1 390.3 519.8 390.7 521.5 391 523.2 383.9 524.9 389.2 526.7 394 528.4 396.8 530.1 396.4 531.8 397.5 533.5 395.7 535.2 396 537 386.9 538.7 395 540.4 398.1 542.1 397.1 543.8 392.2 545.6 398.2 547.3 403.4 549 400.9 550.7 404.7 552.4 411.7 554.2 416.3 555.9 415.4 557.6 418.5 559.3 414.1 561 414.4 562.7 412.4 564.5 420.1 566.2 429.8 567.9 432.3 569.6 436.5 571.3 445.1 573.1 440.8 574.8 443.7 576.5 443.8 578.2 449.5 579.9 447.9 581.6 448.4 583.4 458.4 585.1 468.2 586.8 470.7 588.5 472.6 590.2 472.3 592 480.8 593.7 476.5 595.4 476.5 597.1 478.7 598.8 483.6 600.5 481.4 602.3 477.4 604 477.7 605.7 478.6 607.4 481.4 609.1 483 610.9 490.4 612.6 484.6 614.3 482.6 616 486.3 617.7 487.7 619.5 492.8 621.2 493 622.9 487.1 624.6 486.3 626.3 486.2 628 483.3 629.8 478.2 631.5 481.3 633.2 477.9 634.9 475.4 636.6 473.3 638.4 472.1 640.1 472.8 641.8 474.4 643.5 470.4 645.2 474.4 646.9 468.1 648.7 472.9 650.4 471.5 652.1 468.1 653.8 473.6 655.5 468.4 657.3 462.9 659 467.4 660.7 467.1 662.4 463.9 664.1 462.8 665.8 462 667.6 472 669.3 474.1 671 469.6 672.7 476 674.4 478.8 676.2 475.7 677.9 473.1 679.6 471.1 681.3 468.3 683 463.3 684.8 459.1 686.5 449.9 688.2 447.2 689.9 447.9 691.6 449.3 693.3 445.5 695.1 433.7 696.8 436.1 698.5 439.5 700.2 442.9 701.9 440.5 703.7 443.2 705.4 447.4 707.1 444.4 708.8 440.8 710.5 431.5 712.2 422.9 714 424.6 715.7 425.4 717.4 419.9 719.1 419.9 720.8 421.1 722.6 417.3 724.3 421.7 726 418.6 727.7 411.3 729.4 420 731.1 418.6 732.9 420.5 734.6 416.1 736.3 414.6 738 420.7 739.7 421.6 741.5 426.4 743.2 422.1 744.9 426.4 746.6 426 748.3 421.8 750.1 424.1 751.8 427.8 753.5 430.3 755.2 431.4 756.9 428.8 758.6 427.5 760.4 423.7 762.1 423.1 763.8 417.8" fill="none" stroke="#3b9a3b" stroke-width="1.25" stroke-linejoin="round"/>
<path d="M325.6 422.1 327.3 419.4 329 415.2 330.8 420.1 332.5 424.9 334.2 418.6 335.9 417.4 337.6 425.6 339.3 426.1 341.1 422.3 342.8 416.7 344.5 407.1 346.2 405.4 347.9 407.4 349.7 411.4 351.4 415.4 353.1 417.6 354.8 420.9 356.5 419.2 358.3 414.3 360 413.4 361.7 418.2 363.4 414.9 365.1 411 366.8 413 368.6 414.6 370.3 415.4 372 414.8 373.7 424.2 375.4 426.9 377.2 431.1 378.9 428.7 380.6 425.4 382.3 427.1 384 422.2 385.7 422.2 387.5 422 389.2 422.8 390.9 428.2 392.6 421.1 394.3 422.3 396.1 430.3 397.8 427.4 399.5 424.6 401.2 430 402.9 428.7 404.6 423.4 406.4 424.8 408.1 428.3 409.8 431.9 411.5 433.9 413.2 440.6 415 442.9 416.7 441.8 418.4 442.4 420.1 437.9 421.8 446.6 423.6 439.5 425.3 444.2 427 448 428.7 448.2 430.4 444 432.1 445.8 433.9 440.9 435.6 438.1 437.3 440.2 439 441.9 440.7 442.5 442.5 441 444.2 445.7 445.9 437.9 447.6 437.1 449.3 435.3 451 436.7 452.8 438.4 454.5 430.9 456.2 437.4 457.9 432.3 459.6 431.5 461.4 433 463.1 423.9 464.8 423.7 466.5 417.5 468.2 415.6 469.9 420.6 471.7 416.1 473.4 417.2 475.1 414.3 476.8 412.7 478.5 408.7 480.3 407.3 482 407.8 483.7 409.4 485.4 413.5 487.1 417.3 488.9 411.2 490.6 412.8 492.3 411.3 494 406.3 495.7 402.6 497.4 400.3 499.2 401.4 500.9 401.3 502.6 401.4 504.3 402.1 506 408.1 507.8 407.1 509.5 404.6 511.2 407.1 512.9 408.6 514.6 419.7 516.3 421.5 518.1 410.1 519.8 415.3 521.5 412.8 523.2 408.7 524.9 407.2 526.7 409.4 528.4 412 530.1 418.5 531.8 411.9 533.5 413.6 535.2 410.9 537 419.2 538.7 426 540.4 430.6 542.1 423.4 543.8 422.9 545.6 422.6 547.3 420.4 549 419.8 550.7 419.4 552.4 422.5 554.2 425.9 555.9 424.1 557.6 419.9 559.3 423.9 561 424.8 562.7 427.9 564.5 426.2 566.2 433.5 567.9 426.9 569.6 423 571.3 426.7 573.1 429.9 574.8 436.8 576.5 432.1 578.2 432.4 579.9 432.9 581.6 440.5 583.4 437.4 585.1 431.7 586.8 439.4 588.5 441.9 590.2 438.6 592 439 593.7 439.2 595.4 430.4 597.1 430.9 598.8 435.8 600.5 450 602.3 450 604 454.8 605.7 458 607.4 451.1 609.1 455.8 610.9 455.4 612.6 449.3 614.3 453.3 616 455.2 617.7 458.9 619.5 458.4 621.2 462.2 622.9 457.7 624.6 458 626.3 453.7 628 451.2 629.8 452.1 631.5 451.8 633.2 453.5 634.9 451 636.6 447.6 638.4 446.8 640.1 443.5 641.8 444.2 643.5 445.2 645.2 443.6 646.9 450 648.7 449.9 650.4 455.4 652.1 450.2 653.8 443.5 655.5 446.8 657.3 446.2 659 444.7 660.7 436.4 662.4 434 664.1 429.1 665.8 428.4 667.6 427.8 669.3 437.2 671 444 672.7 436 674.4 427 676.2 434.5 677.9 439 679.6 433.5 681.3 426.6 683 434.1 684.8 437.3 686.5 433.4 688.2 433.3 689.9 433.5 691.6 432 693.3 438.7 695.1 443.2 696.8 438.3 698.5 445.8 700.2 442.6 701.9 445.6 703.7 440.6 705.4 442.6 707.1 444 708.8 439.6 710.5 440.7 712.2 441.2 714 450.4 715.7 445.3 717.4 444.6 719.1 439.6 720.8 441.8 722.6 446 724.3 439.4 726 440.2 727.7 441.7 729.4 446.9 731.1 438 732.9 434 734.6 438.8 736.3 435.2 738 433.8 739.7 430.1 741.5 432.2 743.2 425.3 744.9 436.5 746.6 442.3 748.3 437.1 750.1 432.6 751.8 431.3 753.5 422.7 755.2 424.6 756.9 433.4 758.6 427 760.4 428.5 762.1 431.3 763.8 429.4" fill="none" stroke="#3b9a3b" stroke-width="1.25" stroke-linejoin="round"/>
<path d="M325.6 420.5 327.3 416.8 329 418 330.8 414 332.5 412.4 334.2 413.3 335.9 413.2 337.6 420 339.3 419.3 341.1 418.1 342.8 415.2 344.5 406.1 346.2 405.2 347.9 406.2 349.7 410.4 351.4 409.9 353.1 411.9 354.8 413.8 356.5 411.6 358.3 416.9 360 417.3 361.7 410.9 363.4 409.9 365.1 412.8 366.8 413.3 368.6 414.1 370.3 407.8 372 404.5 373.7 401.3 375.4 407.7 377.2 411.4 378.9 410.1 380.6 416.6 382.3 418.5 384 412.5 385.7 414.4 387.5 417.9 389.2 415.3 390.9 416.6 392.6 418.9 394.3 417.8 396.1 424.6 397.8 420.1 399.5 419.8 401.2 419.4 402.9 420.1 404.6 419.8 406.4 429.8 408.1 430.4 409.8 426.4 411.5 433.1 413.2 438.2 415 441.1 416.7 446 418.4 434.1 420.1 437.5 421.8 435.9 423.6 441.5 425.3 444.2 427 446.9 428.7 450.9 430.4 449.4 432.1 441.7 433.9 443.5 435.6 436.6 437.3 427.8 439 427.7 440.7 424.5 442.5 421.7 444.2 426.8 445.9 429.4 447.6 435.1 449.3 432.9 451 424.3 452.8 421.1 454.5 419.8 456.2 418.8 457.9 419.8 459.6 418.6 461.4 407 463.1 402 464.8 402 466.5 403.7 468.2 406.1 469.9 400.8 471.7 402.7 473.4 403.4 475.1 403.5 476.8 397.2 478.5 397.4 480.3 391.9 482 397.3 483.7 400.7 485.4 404.5 487.1 403.1 488.9 407.1 490.6 407.5 492.3 400.7 494 399.6 495.7 402.4 497.4 404.2 499.2 417.2 500.9 421.9 502.6 414.3 504.3 416.1 506 416.5 507.8 410.9 509.5 417.3 511.2 416.3 512.9 417.8 514.6 417.4 516.3 418 518.1 411.4 519.8 410.9 521.5 407.3 523.2 413.5 524.9 415.6 526.7 415.4 528.4 410.4 530.1 410.3 531.8 414.5 533.5 422 535.2 422.1 537 427 538.7 430.1 540.4 430.7 542.1 430.5 543.8 431.3 545.6 424.9 547.3 425.5 549 429.6 550.7 428.3 552.4 433.7 554.2 430.1 555.9 427 557.6 424.8 559.3 433 561 431.6 562.7 432.2 564.5 430.1 566.2 434.6 567.9 439.6 569.6 441.4 571.3 444.2 573.1 447.1 574.8 448 576.5 442.8 578.2 444.5 579.9 445.4 581.6 448.3 583.4 447.5 585.1 445.8 586.8 445.5 588.5 452.8 590.2 454.5 592 445.5 593.7 446.3 595.4 448.5 597.1 451.9 598.8 457.6 600.5 462.9 602.3 461.2 604 459.1 605.7 461.7 607.4 461.2 609.1 458.8 610.9 457.3 612.6 454.2 614.3 462.1 616 460.8 617.7 458.6 619.5 458.4 621.2 463.3 622.9 467.3 624.6 457.1 626.3 458.8 628 456.5 629.8 458.4 631.5 460.2 633.2 456.8 634.9 452.6 636.6 453.2 638.4 454.1 640.1 449 641.8 448.1 643.5 447.3 645.2 447.7 646.9 445 648.7 444.5 650.4 444.3 652.1 444.4 653.8 441.9 655.5 435.8 657.3 436 659 438.1 660.7 427.4 662.4 424.9 664.1 428.9 665.8 436.2 667.6 430.1 669.3 433.6 671 433.4 672.7 443.1 674.4 437 676.2 431.8 677.9 433.4 679.6 434.9 681.3 435.3 683 440 684.8 442.9 686.5 436.7 688.2 436.7 689.9 435.7 691.6 435.7 693.3 432.5 695.1 432.3 696.8 429.8 698.5 427.5 700.2 430.6 701.9 431 703.7 429.1 705.4 425.7 707.1 425 708.8 425.5 710.5 430.9 712.2 432.2 714 429.5 715.7 430 717.4 429.3 719.1 428 720.8 421.5 722.6 426.5 724.3 424.6 726 424.2 727.7 425.8 729.4 430.6 731.1 431 732.9 433.2 734.6 429.8 736.3 430.7 738 430.8 739.7 434.5 741.5 429.1 743.2 437.3 744.9 426.7 746.6 432.1 748.3 434.2 750.1 434.8 751.8 438.8 753.5 432.1 755.2 434.1 756.9 436.1 758.6 430.2 760.4 428.2 762.1 435.2 763.8 438.7" fill="none" stroke="#3b9a3b" stroke-width="1.25" stroke-linejoin="round"/>
<path d="M325.6 421.2 327.3 422.7 329 423 330.8 421.2 332.5 423.5 334.2 419.9 335.9 419.1 337.6 421 339.3 423.4 341.1 420.9 342.8 418.2 344.5 420.5 346.2 423.2 347.9 419.6 349.7 422 351.4 420.2 353.1 417.7 354.8 423.1 356.5 425.5 358.3 431.4 360 430.5 361.7 425.8 363.4 426 365.1 422.6 366.8 421.7 368.6 425.4 370.3 420.9 372 424.3 373.7 423 375.4 425.2 377.2 429.1 378.9 425.3 380.6 430.7 382.3 435.1 384 431.2 385.7 432.1 387.5 436.9 389.2 438.8 390.9 443.6 392.6 440 394.3 435.8 396.1 435.3 397.8 434.1 399.5 431.3 401.2 433.5 402.9 438.4 404.6 442.7 406.4 443 408.1 445.1 409.8 447.9 411.5 456.1 413.2 457.6 415 453.5 416.7 456.2 418.4 454 420.1 456.1 421.8 459.4 423.6 456.2 425.3 452 427 452.9 428.7 448.4 430.4 451.4 432.1 455.7 433.9 460.8 435.6 457.3 437.3 449.6 439 451.5 440.7 455.5 442.5 452.2 444.2 449.8 445.9 448 447.6 446.9 449.3 436.4 451 435.8 452.8 433.4 454.5 436.2 456.2 430.2 457.9 420.6 459.6 415.5 461.4 418.1 463.1 410.4 464.8 412 466.5 409.7 468.2 408.5 469.9 403.3 471.7 399.8 473.4 400.5 475.1 400.3 476.8 394.4 478.5 401.2 480.3 402.1 482 392.8 483.7 393.8 485.4 398.2 487.1 395.3 488.9 391.9 490.6 396.4 492.3 396.1 494 397.4 495.7 393.2 497.4 392 499.2 394.6 500.9 390.9 502.6 391.4 504.3 382.5 506 379.9 507.8 384.7 509.5 386.7 511.2 385.3 512.9 387.6 514.6 395.8 516.3 398.9 518.1 400.6 519.8 400.6 521.5 408.2 523.2 403.8 524.9 391.4 526.7 395.5 528.4 398.6 530.1 402.3 531.8 402.1 533.5 406.4 535.2 408.1 537 406.1 538.7 415.1 540.4 414.8 542.1 406 543.8 400.7 545.6 399.5 547.3 397.9 549 406.9 550.7 401 552.4 401.1 554.2 395.4 555.9 395 557.6 393.8 559.3 401.7 561 407.8 562.7 399.2 564.5 402.6 566.2 406.1 567.9 402.6 569.6 404 571.3 405.8 573.1 403.8 574.8 408.8 576.5 414.2 578.2 419 579.9 430.5 581.6 431 583.4 431.8 585.1 434.8 586.8 425.9 588.5 433.2 590.2 436.7 592 440.1 593.7 443.3 595.4 441.1 597.1 443.7 598.8 441.7 600.5 433.1 602.3 438.5 604 443.5 605.7 446.7 607.4 442.3 609.1 443.1 610.9 443.7 612.6 446.8 614.3 449.5 616 442.1 617.7 438.1 619.5 445 621.2 449.5 622.9 450.9 624.6 451.6 626.3 446.6 628 441.3 629.8 443.3 631.5 446.1 633.2 440.9 634.9 435.4 636.6 442.5 638.4 440.1 640.1 442.7 641.8 443.9 643.5 444.1 645.2 435.6 646.9 434.1 648.7 437.1 650.4 436.6 652.1 434.7 653.8 437.3 655.5 429.7 657.3 429.8 659 427.6 660.7 415.9 662.4 426.9 664.1 417.9 665.8 412.2 667.6 413.9 669.3 409.8 671 410.9 672.7 414.6 674.4 413.3 676.2 410.3 677.9 407.7 679.6 408.4 681.3 395.5 683 393.5 684.8 397.5 686.5 405.3 688.2 408.7 689.9 410.8 691.6 413.7 693.3 412.4 695.1 411.7 696.8 404.4 698.5 400.5 700.2 408.8 701.9 403.5 703.7 409.4 705.4 405.1 707.1 405.5 708.8 406 710.5 405.1 712.2 408 714 411.5 715.7 401.7 717.4 407.6 719.1 402.4 720.8 405 722.6 401.4 724.3 400.7 726 399.4 727.7 402.1 729.4 399.3 731.1 392.2 732.9 392.1 734.6 390.4 736.3 396.9 738 400.8 739.7 397.5 741.5 403.4 743.2 395.9 744.9 393.8 746.6 391.8 748.3 383.9 750.1 387.7 751.8 381.4 753.5 387.4 755.2 391.6 756.9 385.3 758.6 380 760.4 386 762.1 383.3 763.8 373.8" fill="none" stroke="#3b9a3b" stroke-width="1.25" stroke-linejoin="round"/>
<path d="M325.6 422.5 327.3 425.5 329 429.8 330.8 430.2 332.5 428.6 334.2 430.6 335.9 430.5 337.6 428.2 339.3 432.2 341.1 432.3 342.8 429.7 344.5 430.6 346.2 433 347.9 437.4 349.7 439.4 351.4 441 353.1 440.9 354.8 434.7 356.5 432.9 358.3 428.7 360 434.4 361.7 434.5 363.4 438.2 365.1 435.2 366.8 432 368.6 430.2 370.3 440.7 372 438 373.7 437.2 375.4 437 377.2 438.3 378.9 430.6 380.6 427.8 382.3 430.5 384 429.8 385.7 435.5 387.5 435.7 389.2 435.5 390.9 439.8 392.6 440.2 394.3 441.2 396.1 443 397.8 447.4 399.5 446.6 401.2 442.6 402.9 444 404.6 440.2 406.4 445.2 408.1 450.9 409.8 452.3 411.5 460.2 413.2 467.3 415 467.8 416.7 469.9 418.4 469.2 420.1 464.5 421.8 465.1 423.6 467 425.3 468.8 427 476.5 428.7 473.7 430.4 473.5 432.1 470.7 433.9 471.6 435.6 468.4 437.3 465.6 439 461.4 440.7 457.4 442.5 459 444.2 454.4 445.9 446.8 447.6 446.5 449.3 437.7 451 432.6 452.8 425.6 454.5 423 456.2 422.5 457.9 419.9 459.6 415 461.4 405.9 463.1 409.5 464.8 414.1 466.5 413.8 468.2 415 469.9 413.9 471.7 413.5 473.4 409 475.1 412.2 476.8 411.2 478.5 413.7 480.3 415.1 482 413.7 483.7 417.5 485.4 416.5 487.1 420.6 488.9 421.3 490.6 422.2 492.3 415.9 494 418.3 495.7 417.7 497.4 415.2 499.2 419.7 500.9 420.3 502.6 418.2 504.3 426.7 506 429.4 507.8 431 509.5 433 511.2 434.5 512.9 434.7 514.6 432.9 516.3 431.1 518.1 431.2 519.8 426.9 521.5 427.7 523.2 429.2 524.9 423.2 526.7 422.2 528.4 417.4 530.1 418.4 531.8 418.5 533.5 421 535.2 421.2 537 426.2 538.7 426 540.4 424.5 542.1 431.2 543.8 426.6 545.6 432.3 547.3 425.8 549 427.7 550.7 426.8 552.4 431 554.2 437.3 555.9 428.8 557.6 428.3 559.3 435.4 561 439.8 562.7 443.6 564.5 449.6 566.2 449.7 567.9 454.7 569.6 455 571.3 457.9 573.1 454.6 574.8 454.9 576.5 450.8 578.2 454.8 579.9 452.1 581.6 452 583.4 451.5 585.1 449.2 586.8 452.2 588.5 453.5 590.2 456.9 592 459.2 593.7 462 595.4 460.8 597.1 455.7 598.8 460.5 600.5 461.9 602.3 460.6 604 463.1 605.7 475.7 607.4 467.9 609.1 464.6 610.9 467.3 612.6 460.7 614.3 458.9 616 455.3 617.7 457.5 619.5 456.1 621.2 459.1 622.9 459.2 624.6 462.1 626.3 462.9 628 457.3 629.8 460.8 631.5 458.8 633.2 461 634.9 463.9 636.6 462.2 638.4 458 640.1 467.4 641.8 465.2 643.5 462.9 645.2 456.1 646.9 448.8 648.7 443.7 650.4 441.7 652.1 443.2 653.8 438.7 655.5 435.7 657.3 434.1 659 429.7 660.7 426.7 662.4 425.5 664.1 426 665.8 431 667.6 432.3 669.3 440.7 671 437.5 672.7 439.4 674.4 438.6 676.2 436.6 677.9 439.6 679.6 450.5 681.3 451.8 683 444.7 684.8 453.1 686.5 455.1 688.2 452.3 689.9 456.3 691.6 457.8 693.3 454.5 695.1 456.5 696.8 459.1 698.5 460.4 700.2 459 701.9 457.3 703.7 452.5 705.4 452 707.1 449 708.8 440 710.5 436.5 712.2 432.8 714 435.7 715.7 435 717.4 437.8 719.1 440.2 720.8 440.7 722.6 439.3 724.3 434.7 726 435.1 727.7 432 729.4 442.9 731.1 442.5 732.9 448.8 734.6 449.1 736.3 446.8 738 439.5 739.7 437.9 741.5 441.6 743.2 439.7 744.9 438.9 746.6 434.9 748.3 436.8 750.1 440.7 751.8 436.7 753.5 438.4 755.2 439.6 756.9 431.9 758.6 425.9 760.4 427.4 762.1 433 763.8 435.6" fill="none" stroke="#dc3a26" stroke-width="1.6" stroke-linejoin="round"/>
<line x1="325.6" y1="369.1" x2="325.6" y2="494" stroke="#222" stroke-width="1.4"/>
<text x="322.6" y="372.1" font-size="8" font-weight="bold" text-anchor="end">11.73</text>
<text x="322.6" y="380" font-size="8" text-anchor="end">10.00</text>
<text x="322.6" y="402.8" font-size="8" text-anchor="end">5.00</text>
<text x="322.6" y="425.5" font-size="8" text-anchor="end">0.00</text>
<text x="322.6" y="448.2" font-size="8" text-anchor="end">-5.00</text>
<text x="322.6" y="471" font-size="8" text-anchor="end">-10.00</text>
<text x="322.6" y="497" font-size="8" font-weight="bold" text-anchor="end">-15.72</text>
<text x="325.6" y="504.5" font-size="8" text-anchor="middle" font-weight="bold">0</text>
<text x="411.5" y="511.8" font-size="8" text-anchor="middle">50</text>
<text x="497.4" y="504.5" font-size="8" text-anchor="middle">100</text>
<text x="583.4" y="511.8" font-size="8" text-anchor="middle">150</text>
<text x="669.3" y="504.5" font-size="8" text-anchor="middle">200</text>
<text x="763.8" y="504.5" font-size="8" text-anchor="middle" font-weight="bold">255</text>
<text x="545.6" y="516" font-size="8" text-anchor="middle">Timepoint</text>
<text transform="translate(292,431.6) rotate(-90)" font-size="8" text-anchor="middle">Value</text>
<circle cx="333.4" cy="347.5" r="3.8" fill="#2e9e2e"/>
<text x="338.6" y="350.4" font-size="8" stroke="#111" stroke-width="0.12">TS_2104818</text>
<circle cx="406.2" cy="347.5" r="3.8" fill="#2e9e2e"/>
<text x="411.4" y="350.4" font-size="8" stroke="#111" stroke-width="0.12">TS_441421</text>
<circle cx="478.5" cy="347.5" r="3.8" fill="#2e9e2e"/>
<text x="483.7" y="350.4" font-size="8" stroke="#111" stroke-width="0.12">TS_15982442</text>
<circle cx="551" cy="347.5" r="3.8" fill="#2e9e2e"/>
<text x="556.2" y="350.4" font-size="8" stroke="#111" stroke-width="0.12">TS_39767302</text>
<circle cx="623.9" cy="347.5" r="3.8" fill="#2e9e2e"/>
<text x="629.1" y="350.4" font-size="8" stroke="#111" stroke-width="0.12">TS_6508703</text>
<circle cx="691.7" cy="347.5" r="3.8" fill="#2e9e2e"/>
<text x="696.9" y="350.4" font-size="8" stroke="#111" stroke-width="0.12">TS_37118299</text>
<circle cx="333.4" cy="359.4" r="3.8" fill="#2e9e2e"/>
<text x="338.6" y="362.3" font-size="8" stroke="#111" stroke-width="0.12">TS_17281942</text>
<circle cx="406.2" cy="359.4" r="3.8" fill="#2e9e2e"/>
<text x="411.4" y="362.3" font-size="8" stroke="#111" stroke-width="0.12">TS_41428120</text>
<circle cx="478.5" cy="359.4" r="3.8" fill="#2e9e2e"/>
<text x="483.7" y="362.3" font-size="8" stroke="#111" stroke-width="0.12">TS_48646709</text>
<circle cx="551" cy="359.4" r="3.8" fill="#2e9e2e"/>
<text x="556.2" y="362.3" font-size="8" stroke="#111" stroke-width="0.12">TS_5463363</text>
<circle cx="623.9" cy="359.4" r="3.8" fill="#e8141b"/>
<text x="629.1" y="362.3" font-size="8" stroke="#111" stroke-width="0.12">Q_19</text>
<rect x="285.7" y="525.7" width="491" height="8" rx="2.5" fill="#fff" stroke="#d6d6d6" stroke-width="1"/>
<rect x="285.7" y="525.7" width="90" height="8" rx="2.5" fill="#c9c9c9" stroke="#bababa" stroke-width="0.8"/>
<rect x="373.1" y="523" width="13.4" height="12.8" rx="2.5" fill="#e4e4e4" stroke="#d8d8d8" stroke-width="0.8"/>
<text x="499.5" y="548.1" font-size="12" fill="#505050" stroke="#505050" stroke-width="0.12">Query</text>
<text x="534.6" y="548.1" font-size="12" fill="#505050" stroke="#505050" stroke-width="0.12">#</text>
<text x="544.2" y="548.1" font-size="12" fill="#505050" stroke="#505050" stroke-width="0.12">:</text>
<text x="550.2" y="548.1" font-size="12" fill="#333" stroke="#333" stroke-width="0.22">19</text></g>
<g transform="matrix(1.011 0 0 1.009 -5.57 557.9)"><text x="402.8" y="20.1" font-size="9.6" textLength="62.3" lengthAdjust="spacingAndGlyphs" fill="#1a1a1a" font-weight="bold" text-anchor="middle" stroke="#1a1a1a" stroke-width="0.2">PARAMETERS</text>
<text x="41.6" y="42.1" font-size="12" fill="#505050" stroke="#505050" stroke-width="0.12">Input Time Series :</text>
<rect x="145.3" y="32.7" width="104.7" height="12.3" rx="3" fill="#fff" stroke="#cfcfcf" stroke-width="1"/>
<path d="M238.7 32.7 h8.3 a3 3 0 0 1 3 3 v6.3 a3 3 0 0 1 -3 3 h-8.3 z" fill="#3d8ef2"/>
<path d="M242.8 37.75 L244.6 35.95 L246.4 37.75 M242.8 39.95 L244.6 41.75 L246.4 39.95" fill="none" stroke="#fff" stroke-width="1.1"/>
<text x="150.9" y="42.05" font-size="9" fill="#111" stroke="#111" stroke-width="0.25">50 million (50 Gb)</text>
<text x="297.7" y="42.3" font-size="12" fill="#505050" stroke="#505050" stroke-width="0.12">Batch Size (number of queries) :</text>
<rect x="472" y="33.2" width="35.2" height="11.1" rx="3" fill="#fff" stroke="#cfcfcf" stroke-width="1"/>
<path d="M497.2 33.2 h7 a3 3 0 0 1 3 3 v5.1 a3 3 0 0 1 -3 3 h-7 z" fill="#3d8ef2"/>
<path d="M500.65 37.65 L502.45 35.85 L504.25 37.65 M500.65 39.85 L502.45 41.65 L504.25 39.85" fill="none" stroke="#fff" stroke-width="1.1"/>
<text x="477.6" y="41.95" font-size="9" fill="#111" stroke="#111" stroke-width="0.25">100</text>
<text x="616.7" y="42.3" font-size="12" fill="#505050" stroke="#505050" stroke-width="0.12">Cell Size</text>
<text x="663.4" y="37.6" font-size="8" fill="#505050" stroke="#505050" stroke-width="0.1">1</text>
<text x="669.3" y="42.3" font-size="12" fill="#505050" stroke="#505050" stroke-width="0.12">:</text>
<rect x="673.1" y="31.9" width="29.7" height="13.8" rx="4" fill="none" stroke="#8cb8f0" stroke-opacity="0.7" stroke-width="1.3"/>
<rect x="674.8" y="33.6" width="26.3" height="10.4" rx="3" fill="#fff" stroke="#cfcfcf" stroke-width="1"/>
<path d="M691.1 33.6 h7 a3 3 0 0 1 3 3 v4.4 a3 3 0 0 1 -3 3 h-7 z" fill="#3d8ef2"/>
<path d="M694.55 37.7 L696.35 35.9 L698.15 37.7 M694.55 39.9 L696.35 41.7 L698.15 39.9" fill="none" stroke="#fff" stroke-width="1.1"/>
<text x="680.4" y="42" font-size="9" fill="#111" stroke="#111" stroke-width="0.25">4</text>
<text x="146.2" y="71.1" font-size="9.5" textLength="75.8" lengthAdjust="spacingAndGlyphs" fill="#1a1a1a" font-weight="bold" text-anchor="middle" stroke="#1a1a1a" stroke-width="0.2">RESPONSE TIME</text>
<text x="531" y="71.1" font-size="9.6" textLength="51.7" lengthAdjust="spacingAndGlyphs" fill="#1a1a1a" font-weight="bold" text-anchor="middle" stroke="#1a1a1a" stroke-width="0.2">PRECISION</text>
<text x="530.6" y="92.2" font-size="12.2" fill="#333" text-anchor="middle" stroke="#333" stroke-width="0.15">Parallel Linear Search</text>
<text x="530.3" y="323.3" font-size="12.2" fill="#333" text-anchor="middle" stroke="#333" stroke-width="0.15">spark-parSketch</text>
<line x1="70" y1="371.3" x2="250" y2="371.3" stroke="#f1f1f1"/>
<line x1="116" y1="97" x2="116" y2="371" stroke="#ececec"/>
<line x1="203.5" y1="97" x2="203.5" y2="371" stroke="#ececec"/>
<rect x="77.75" y="97.3" width="77.85" height="274" fill="#cc645e"/>
<rect x="164.5" y="275.32" width="77.5" height="96" fill="#cc645e"/>
<rect x="164.5" y="292.57" width="77.5" height="78.7" fill="#7ab97b"/>
<rect x="164.5" y="302.97" width="77.5" height="68.3" fill="#4b5794"/>
<line x1="116" y1="97.3" x2="116" y2="371.3" stroke="#000" stroke-opacity="0.05"/>
<line x1="203.5" y1="275.32" x2="203.5" y2="371.3" stroke="#000" stroke-opacity="0.05"/>
<line x1="69" y1="97" x2="69" y2="371.3" stroke="#333" stroke-width="1.5"/>
<text x="65.9" y="99.6" font-size="8" font-weight="bold" text-anchor="end">67:01</text>
<text x="66.5" y="374.6" font-size="8" font-weight="bold" text-anchor="end">0:00</text>
<text transform="translate(35.3,234.5) rotate(-90)" font-size="8" text-anchor="middle" stroke="#111" stroke-width="0.1" textLength="39.5" lengthAdjust="spacingAndGlyphs">Time ( m:s )</text>
<text x="116.7" y="382.2" font-size="8" text-anchor="middle" stroke="#111" stroke-width="0.12">PLS</text>
<text x="202.8" y="382.2" font-size="8" text-anchor="middle" stroke="#111" stroke-width="0.12">parSketch</text>
<circle cx="86.2" cy="87.7" r="3.4" fill="#fff" stroke="#333" stroke-width="1.1"/>
<text x="91.4" y="90.2" font-size="8" stroke="#111" stroke-width="0.12">Grouped</text>
<circle cx="139.3" cy="87.7" r="3.9" fill="#444"/>
<text x="144.8" y="90.2" font-size="8" stroke="#111" stroke-width="0.12">Stacked</text>
<circle cx="143.2" cy="418.4" r="3.8" fill="#1c2a78"/>
<text x="148.8" y="421.3" font-size="8" stroke="#111" stroke-width="0.12">Index Construction</text>
<circle cx="143.2" cy="430.8" r="3.8" fill="#4caf50"/>
<text x="148.8" y="433.7" font-size="8" stroke="#111" stroke-width="0.12">QP: Candidates</text>
<circle cx="143.2" cy="443.2" r="3.8" fill="#cc3333"/>
<text x="148.8" y="446.1" font-size="8" stroke="#111" stroke-width="0.12">QP: Actual Distance</text>
<text x="85.7" y="481.6" font-size="12" fill="#505050" stroke="#505050" stroke-width="0.12">Quality Ratio</text>
<text x="154.9" y="475.2" font-size="8.5" fill="#505050" stroke="#505050" stroke-width="0.1">2</text>
<text x="160.6" y="481.6" font-size="12" fill="#505050" stroke="#505050" stroke-width="0.12">:</text>
<text x="166.4" y="481.6" font-size="12" fill="#333" stroke="#333" stroke-width="0.25">96.01%</text>
<line x1="325.6" y1="152.3" x2="763.8" y2="152.3" stroke="#ececec"/>
<line x1="325.6" y1="177.2" x2="763.8" y2="177.2" stroke="#ececec"/>
<line x1="325.6" y1="202.1" x2="763.8" y2="202.1" stroke="#ececec"/>
<line x1="325.6" y1="227" x2="763.8" y2="227" stroke="#ececec"/>
<line x1="325.6" y1="251.9" x2="763.8" y2="251.9" stroke="#ececec"/>
<line x1="411.5" y1="138.4" x2="411.5" y2="262.9" stroke="#ececec"/>
<line x1="497.4" y1="138.4" x2="497.4" y2="262.9" stroke="#ececec"/>
<line x1="583.4" y1="138.4" x2="583.4" y2="262.9" stroke="#ececec"/>
<line x1="669.3" y1="138.4" x2="669.3" y2="262.9" stroke="#ececec"/>
<path d="M325.6 175.8 327.3 175 329 185.6 330.8 190.2 332.5 184.4 334.2 187 335.9 184.3 337.6 183.2 339.3 179.7 341.1 180 342.8 178.9 344.5 183.1 346.2 188.5 347.9 192.3 349.7 193.9 351.4 197.9 353.1 198 354.8 196.3 356.5 193.8 358.3 194.8 360 202.2 361.7 199.3 363.4 196.4 365.1 191 366.8 189.8 368.6 194.3 370.3 198 372 188.3 373.7 187.6 375.4 183.9 377.2 180.6 378.9 192.8 380.6 196.1 382.3 198.3 384 199.8 385.7 201.2 387.5 203.7 389.2 205.5 390.9 213.9 392.6 213.8 394.3 216.2 396.1 213.3 397.8 214.3 399.5 210.8 401.2 208.1 402.9 209 404.6 210.4 406.4 213 408.1 217.9 409.8 220.6 411.5 224.7 413.2 224.4 415 226.7 416.7 226.7 418.4 235.7 420.1 233 421.8 239.4 423.6 243.4 425.3 243.5 427 245 428.7 242.2 430.4 243.5 432.1 245.8 433.9 245.8 435.6 236.1 437.3 233.3 439 235.7 440.7 231.4 442.5 234.4 444.2 221.2 445.9 225.8 447.6 219.5 449.3 214.1 451 218.2 452.8 212.6 454.5 205.1 456.2 200.9 457.9 197.6 459.6 191.1 461.4 188.7 463.1 184.9 464.8 183.8 466.5 179.2 468.2 183.7 469.9 178.6 471.7 180 473.4 183.5 475.1 179.5 476.8 171.3 478.5 169.1 480.3 173.9 482 171.6 483.7 174.7 485.4 175.1 487.1 174.1 488.9 183.4 490.6 180.8 492.3 188.4 494 192.9 495.7 199.9 497.4 205.6 499.2 207.1 500.9 196.5 502.6 186.4 504.3 187.2 506 183.2 507.8 186.9 509.5 196.7 511.2 194.8 512.9 192.7 514.6 195.6 516.3 194.2 518.1 192.1 519.8 196.7 521.5 202.1 523.2 200.3 524.9 202.8 526.7 204.9 528.4 200.3 530.1 193.9 531.8 198.6 533.5 197.3 535.2 195.8 537 196.1 538.7 195.2 540.4 201.1 542.1 200.5 543.8 195 545.6 196.9 547.3 204.6 549 200.6 550.7 196.1 552.4 197.7 554.2 203.4 555.9 199 557.6 208.8 559.3 208.3 561 210.7 562.7 217.7 564.5 212.7 566.2 213.6 567.9 221.1 569.6 218.9 571.3 222.4 573.1 231.3 574.8 232.5 576.5 229.4 578.2 226.2 579.9 224.8 581.6 224.7 583.4 223.1 585.1 224.1 586.8 219 588.5 220.2 590.2 220.5 592 219.8 593.7 226.4 595.4 229.4 597.1 222.2 598.8 222.8 600.5 226 602.3 225.9 604 229.7 605.7 228.5 607.4 232.1 609.1 231 610.9 237.9 612.6 230 614.3 232.6 616 239.5 617.7 238.1 619.5 237.7 621.2 235.1 622.9 238.7 624.6 234.4 626.3 217.8 628 227.8 629.8 227.5 631.5 230.2 633.2 229.8 634.9 238.1 636.6 240.4 638.4 234.8 640.1 232.2 641.8 223.2 643.5 226.1 645.2 223.2 646.9 208.7 648.7 213.8 650.4 216.7 652.1 213.9 653.8 211.4 655.5 205.3 657.3 203.6 659 205.6 660.7 202 662.4 189.2 664.1 187.4 665.8 203 667.6 201.8 669.3 203.8 671 198.8 672.7 199 674.4 189.3 676.2 187.3 677.9 185.3 679.6 187.3 681.3 190.1 683 190.7 684.8 183.9 686.5 183 688.2 186.9 689.9 183.3 691.6 186.3 693.3 190.1 695.1 196.3 696.8 199.2 698.5 201 700.2 211.1 701.9 201.2 703.7 196.4 705.4 196.3 707.1 190.6 708.8 189.2 710.5 188.2 712.2 199.3 714 196.9 715.7 191.8 717.4 183.8 719.1 177.3 720.8 174.7 722.6 183.7 724.3 193.8 726 188.3 727.7 186.9 729.4 183.9 731.1 186.8 732.9 187.4 734.6 195.3 736.3 192.5 738 194.6 739.7 192.7 741.5 192.5 743.2 194.9 744.9 194.6 746.6 196 748.3 193 750.1 191.7 751.8 194.7 753.5 196.3 755.2 187 756.9 188 758.6 183.3 760.4 182 762.1 182.6 763.8 182.8" fill="none" stroke="#3b9a3b" stroke-width="1.25" stroke-linejoin="round"/>
<path d="M325.6 172.6 327.3 172.5 329 172.1 330.8 170.6 332.5 178 334.2 180.2 335.9 179.2 337.6 170.9 339.3 181.8 341.1 172.8 342.8 170.2 344.5 165 346.2 166.2 347.9 164.1 349.7 158.3 351.4 160.3 353.1 161.7 354.8 163.2 356.5 169.4 358.3 168.3 360 171.2 361.7 175.4 363.4 174.6 365.1 174.6 366.8 170.2 368.6 170.4 370.3 173.5 372 167.8 373.7 167 375.4 166 377.2 169 378.9 173.7 380.6 177.9 382.3 179.7 384 178.5 385.7 181.3 387.5 190.1 389.2 190 390.9 196.1 392.6 193.6 394.3 198.1 396.1 201.8 397.8 198.7 399.5 198 401.2 204.8 402.9 199.4 404.6 190.6 406.4 201.1 408.1 197.5 409.8 206.6 411.5 212.5 413.2 216.7 415 226.8 416.7 222.7 418.4 224.3 420.1 231.5 421.8 234.2 423.6 241.1 425.3 240.7 427 234.9 428.7 242.4 430.4 241.1 432.1 238.1 433.9 231.6 435.6 225.5 437.3 229.8 439 232.9 440.7 229 442.5 229.1 444.2 229.9 445.9 223.7 447.6 216.2 449.3 216.3 451 217.4 452.8 214 454.5 221.2 456.2 216.8 457.9 217 459.6 201.3 461.4 196.9 463.1 195.3 464.8 194.7 466.5 203.3 468.2 194.3 469.9 183.7 471.7 185.9 473.4 181.4 475.1 178.2 476.8 185.8 478.5 180.2 480.3 174.8 482 175.8 483.7 177.3 485.4 174.3 487.1 181.9 488.9 179.6 490.6 173.2 492.3 179.3 494 173.1 495.7 175.5 497.4 184.5 499.2 182.3 500.9 184.8 502.6 181.3 504.3 185.6 506 179.3 507.8 182.3 509.5 180 511.2 183 512.9 184.3 514.6 179.1 516.3 179.8 518.1 182.7 519.8 188.1 521.5 181.4 523.2 178.6 524.9 181.2 526.7 179.2 528.4 183.2 530.1 185.6 531.8 186.3 533.5 181.9 535.2 179 537 181.7 538.7 177.4 540.4 174.6 542.1 175.7 543.8 173.2 545.6 177.5 547.3 179.9 549 179.4 550.7 181.9 552.4 180.6 554.2 189.2 555.9 184.1 557.6 190.8 559.3 193.3 561 200.9 562.7 198.1 564.5 194.2 566.2 193.3 567.9 195.3 569.6 207.1 571.3 211.9 573.1 214.1 574.8 217.9 576.5 212.8 578.2 213.8 579.9 215.7 581.6 215 583.4 221 585.1 224.8 586.8 227.4 588.5 223.3 590.2 221.5 592 219.4 593.7 216.2 595.4 224.7 597.1 227 598.8 225.7 600.5 231.5 602.3 232.2 604 226.5 605.7 223.9 607.4 223.8 609.1 228.5 610.9 232.5 612.6 229.5 614.3 233.5 616 233 617.7 228.4 619.5 232.3 621.2 235.8 622.9 235.3 624.6 232.2 626.3 230.5 628 230.9 629.8 229.6 631.5 237.9 633.2 240.3 634.9 237.7 636.6 240.3 638.4 243.4 640.1 244.5 641.8 243.8 643.5 239.8 645.2 239.9 646.9 232.7 648.7 220 650.4 218.6 652.1 210.6 653.8 208.9 655.5 213 657.3 211.3 659 212.6 660.7 205.2 662.4 208.3 664.1 198.6 665.8 195.1 667.6 203.6 669.3 194.9 671 184.2 672.7 187.2 674.4 181.6 676.2 185.9 677.9 180 679.6 184.4 681.3 178.4 683 184.3 684.8 191.9 686.5 184.2 688.2 172.1 689.9 177.3 691.6 175.6 693.3 178.4 695.1 182.9 696.8 181.6 698.5 176.2 700.2 184.6 701.9 182.2 703.7 181.4 705.4 187.8 707.1 178.7 708.8 171 710.5 177.8 712.2 170.4 714 172.5 715.7 174.6 717.4 168.6 719.1 170 720.8 170.3 722.6 165.1 724.3 162.5 726 162.3 727.7 171.6 729.4 178.1 731.1 171.2 732.9 175.6 734.6 174.1 736.3 178.6 738 178 739.7 182.7 741.5 173.8 743.2 179.7 744.9 180.2 746.6 181.2 748.3 175.1 750.1 181.3 751.8 182.6 753.5 183.5 755.2 182.3 756.9 181 758.6 183.2 760.4 180.8 762.1 182.9 763.8 180" fill="none" stroke="#3b9a3b" stroke-width="1.25" stroke-linejoin="round"/>
<path d="M325.6 176.5 327.3 177.6 329 181.4 330.8 181.8 332.5 181.2 334.2 173.4 335.9 180.7 337.6 182.7 339.3 179.7 341.1 193.5 342.8 201.6 344.5 204.6 346.2 202 347.9 189.6 349.7 190.3 351.4 187.3 353.1 191.5 354.8 203.7 356.5 211.1 358.3 201.8 360 199.4 361.7 204.4 363.4 197.7 365.1 204.8 366.8 197.3 368.6 191.2 370.3 198.5 372 205.4 373.7 202.2 375.4 207.1 377.2 202.5 378.9 207.1 380.6 202 382.3 202 384 203.2 385.7 206.2 387.5 203.7 389.2 211.3 390.9 209.7 392.6 209.4 394.3 205 396.1 210.7 397.8 202.4 399.5 206 401.2 212.2 402.9 206.1 404.6 201.7 406.4 207.5 408.1 215.1 409.8 217 411.5 222 413.2 224.6 415 218.1 416.7 219.7 418.4 222.7 420.1 224.6 421.8 227.6 423.6 225.8 425.3 224.5 427 229 428.7 229.1 430.4 218.7 432.1 219.7 433.9 222.2 435.6 213.7 437.3 215 439 219.6 440.7 212.6 442.5 213.7 444.2 211.8 445.9 206.2 447.6 203.6 449.3 203.9 451 202.3 452.8 200.7 454.5 191.4 456.2 191.9 457.9 190.2 459.6 176.6 461.4 177.3 463.1 167.7 464.8 161.3 466.5 162.3 468.2 167.3 469.9 161.7 471.7 156.1 473.4 151.4 475.1 152.4 476.8 148.4 478.5 145.2 480.3 153.6 482 148.7 483.7 150.8 485.4 157 487.1 159.9 488.9 152.4 490.6 151.5 492.3 162.7 494 162.2 495.7 162.9 497.4 163.6 499.2 165.9 500.9 171.7 502.6 166.1 504.3 170.5 506 171.3 507.8 173.2 509.5 175.3 511.2 170.9 512.9 169.9 514.6 175.5 516.3 180.2 518.1 181.1 519.8 176.6 521.5 177.2 523.2 177 524.9 179.1 526.7 181 528.4 179.9 530.1 187.8 531.8 178.1 533.5 182.2 535.2 184.3 537 177.9 538.7 178.8 540.4 180.4 542.1 184.5 543.8 191.6 545.6 189.2 547.3 183.7 549 189.3 550.7 186.5 552.4 196 554.2 201.3 555.9 200.2 557.6 202.5 559.3 201.7 561 207.8 562.7 213.7 564.5 221.6 566.2 224.6 567.9 226.4 569.6 229.5 571.3 224.6 573.1 226 574.8 232.9 576.5 218.8 578.2 222.9 579.9 227.6 581.6 220.4 583.4 216.3 585.1 224.7 586.8 231.7 588.5 234.4 590.2 227.3 592 228.9 593.7 232.4 595.4 231.6 597.1 226.2 598.8 233.9 600.5 235 602.3 240.3 604 229 605.7 223.6 607.4 223 609.1 227.6 610.9 227.1 612.6 238.4 614.3 235.5 616 239.5 617.7 242 619.5 240.9 621.2 238.5 622.9 232.9 624.6 228.7 626.3 227.6 628 232.1 629.8 228.1 631.5 228.9 633.2 224 634.9 229.7 636.6 240.9 638.4 237.4 640.1 222.8 641.8 220 643.5 220.8 645.2 215.7 646.9 212.9 648.7 210.3 650.4 211.6 652.1 208.9 653.8 206 655.5 207 657.3 208.9 659 204.2 660.7 196.9 662.4 193.3 664.1 191.3 665.8 186.7 667.6 174.7 669.3 176.6 671 176.3 672.7 172.2 674.4 177.7 676.2 180.4 677.9 178.8 679.6 175.5 681.3 179.5 683 182.3 684.8 185.7 686.5 193.8 688.2 189.9 689.9 193.8 691.6 203.2 693.3 204.6 695.1 212.8 696.8 214.8 698.5 211.5 700.2 213 701.9 206.2 703.7 212.2 705.4 208.6 707.1 204.8 708.8 198.4 710.5 196.4 712.2 197.8 714 199.2 715.7 200.4 717.4 196 719.1 200.5 720.8 198.2 722.6 199.1 724.3 198.1 726 199.3 727.7 189.7 729.4 196.2 731.1 196.8 732.9 197.3 734.6 196.4 736.3 197.7 738 200.1 739.7 199.4 741.5 209.5 743.2 211.7 744.9 218.4 746.6 221.3 748.3 229 750.1 233 751.8 231.6 753.5 224.4 755.2 223.1 756.9 222.7 758.6 216.9 760.4 222.3 762.1 229.9 763.8 226.9" fill="none" stroke="#3b9a3b" stroke-width="1.25" stroke-linejoin="round"/>
<path d="M325.6 174.5 327.3 176.1 329 171.3 330.8 164.9 332.5 175.9 334.2 167.5 335.9 166.1 337.6 168.4 339.3 172.8 341.1 167.2 342.8 173.8 344.5 180.6 346.2 182.6 347.9 190.5 349.7 188 351.4 189.1 353.1 188 354.8 187.3 356.5 192.9 358.3 186 360 190.8 361.7 185.9 363.4 193.3 365.1 189.8 366.8 192.6 368.6 190.9 370.3 193 372 201.2 373.7 202.4 375.4 198.4 377.2 193.9 378.9 199.9 380.6 206.8 382.3 206.1 384 203 385.7 203 387.5 204 389.2 197.9 390.9 193.8 392.6 192.4 394.3 198.9 396.1 199.3 397.8 201.1 399.5 206.9 401.2 201.3 402.9 201.5 404.6 204.8 406.4 199.7 408.1 198.1 409.8 197.5 411.5 196.3 413.2 198.1 415 208.2 416.7 211.5 418.4 208.3 420.1 214.2 421.8 215.1 423.6 214.6 425.3 210.3 427 208.6 428.7 209.6 430.4 214.2 432.1 213.5 433.9 214 435.6 216.6 437.3 212.2 439 212.1 440.7 216.4 442.5 209.8 444.2 211 445.9 207.3 447.6 213.8 449.3 210.8 451 212 452.8 212 454.5 215.1 456.2 198.3 457.9 195.6 459.6 190.6 461.4 182.1 463.1 180.2 464.8 175.7 466.5 181.2 468.2 177.7 469.9 177.5 471.7 173 473.4 171.5 475.1 177.1 476.8 182.7 478.5 182.8 480.3 175.5 482 171.8 483.7 169.3 485.4 177.7 487.1 185.8 488.9 182.1 490.6 178.8 492.3 179.1 494 178.5 495.7 181 497.4 187.5 499.2 190.8 500.9 193 502.6 195 504.3 197.1 506 188.8 507.8 194.5 509.5 197.1 511.2 204 512.9 206.2 514.6 204.3 516.3 202.8 518.1 204.8 519.8 203.7 521.5 204.3 523.2 212.8 524.9 219.9 526.7 200.6 528.4 194.2 530.1 193.5 531.8 199.9 533.5 200.7 535.2 190.4 537 201.6 538.7 198.7 540.4 192.2 542.1 191.3 543.8 188.5 545.6 190.8 547.3 180.7 549 188.9 550.7 195.5 552.4 193.6 554.2 188.3 555.9 192 557.6 189.4 559.3 195.1 561 202.4 562.7 196.9 564.5 193.3 566.2 191.9 567.9 198.7 569.6 206.6 571.3 212.2 573.1 212.4 574.8 209.5 576.5 208.3 578.2 216.1 579.9 214.6 581.6 214.7 583.4 214.8 585.1 215.4 586.8 216.6 588.5 214.1 590.2 214.4 592 214.3 593.7 218.3 595.4 216.4 597.1 217.5 598.8 226.7 600.5 221.9 602.3 222.4 604 218.2 605.7 220.6 607.4 222.4 609.1 223.9 610.9 225.8 612.6 228.8 614.3 236.3 616 225.8 617.7 233.4 619.5 232.9 621.2 228.3 622.9 226.3 624.6 224.2 626.3 221.8 628 218.1 629.8 219 631.5 208.5 633.2 218.2 634.9 219.3 636.6 222.2 638.4 224.6 640.1 223.3 641.8 217.2 643.5 223.1 645.2 226 646.9 220.7 648.7 218 650.4 209.2 652.1 206.5 653.8 207.5 655.5 209.7 657.3 208.2 659 208.1 660.7 213.7 662.4 211.2 664.1 210.1 665.8 209.3 667.6 209.3 669.3 200.1 671 198.3 672.7 196.1 674.4 201.2 676.2 206.3 677.9 206.5 679.6 205 681.3 207.1 683 208.4 684.8 205 686.5 206.2 688.2 214.8 689.9 218.4 691.6 222.1 693.3 221.3 695.1 226.8 696.8 225.9 698.5 221.2 700.2 220.5 701.9 223.7 703.7 224.2 705.4 221.6 707.1 218.7 708.8 215.5 710.5 217.9 712.2 224.6 714 217.1 715.7 216.6 717.4 215.5 719.1 214.9 720.8 219.9 722.6 219.8 724.3 217 726 211.6 727.7 212 729.4 225.4 731.1 222.1 732.9 217.6 734.6 210.9 736.3 207.3 738 196.4 739.7 193.9 741.5 192.6 743.2 193.5 744.9 203.9 746.6 201.3 748.3 199.1 750.1 202 751.8 198.8 753.5 196.9 755.2 197.8 756.9 196.4 758.6 195.4 760.4 192 762.1 192 763.8 187.3" fill="none" stroke="#3b9a3b" stroke-width="1.25" stroke-linejoin="round"/>
<path d="M325.6 174.9 327.3 183.6 329 182.9 330.8 188.9 332.5 188.3 334.2 184.3 335.9 184.4 337.6 185.4 339.3 185.7 341.1 179.9 342.8 188.8 344.5 186.2 346.2 194.8 347.9 196.1 349.7 194.4 351.4 197.7 353.1 195.4 354.8 191.8 356.5 197.7 358.3 196.8 360 197.6 361.7 205 363.4 202.5 365.1 203.7 366.8 196.9 368.6 204.9 370.3 200.2 372 207.5 373.7 202.8 375.4 206.6 377.2 210.5 378.9 212.3 380.6 213.9 382.3 213.7 384 213 385.7 222.2 387.5 231.6 389.2 243.4 390.9 241 392.6 234.2 394.3 231 396.1 230.4 397.8 232.5 399.5 235.4 401.2 236.3 402.9 234.4 404.6 243.2 406.4 239.3 408.1 247 409.8 247.4 411.5 250.7 413.2 252.4 415 257.2 416.7 257.2 418.4 254.1 420.1 256.5 421.8 242.9 423.6 246 425.3 248.8 427 249.9 428.7 252.6 430.4 259.8 432.1 254.6 433.9 248.3 435.6 251.4 437.3 246.5 439 247.7 440.7 242.6 442.5 236.7 444.2 229.6 445.9 224.4 447.6 224.9 449.3 217.6 451 217.5 452.8 213.2 454.5 208 456.2 207.5 457.9 209.9 459.6 202 461.4 202.9 463.1 201.1 464.8 200.1 466.5 190.5 468.2 186.4 469.9 192 471.7 182.4 473.4 170.5 475.1 164 476.8 169.7 478.5 170.7 480.3 169.5 482 166.9 483.7 168.6 485.4 174.2 487.1 169.8 488.9 167.2 490.6 174.3 492.3 174.3 494 172 495.7 174.3 497.4 174.1 499.2 173.1 500.9 173.8 502.6 177.3 504.3 185.1 506 182.2 507.8 177.4 509.5 172.3 511.2 177.9 512.9 182.1 514.6 178.9 516.3 176.8 518.1 180 519.8 180.4 521.5 186.8 523.2 185.1 524.9 189.8 526.7 189.7 528.4 189.4 530.1 190.4 531.8 197.8 533.5 199.3 535.2 195.6 537 195.3 538.7 196.8 540.4 194.6 542.1 192.5 543.8 190.7 545.6 197 547.3 197.9 549 204.4 550.7 211.7 552.4 219.8 554.2 220 555.9 224.1 557.6 214.8 559.3 218.6 561 222 562.7 225.3 564.5 218.2 566.2 225.8 567.9 228.1 569.6 232.6 571.3 233.4 573.1 234.1 574.8 230.3 576.5 238.7 578.2 238.5 579.9 231.6 581.6 236.3 583.4 238.2 585.1 242.7 586.8 253.2 588.5 249.6 590.2 242.1 592 244.4 593.7 252.2 595.4 248.7 597.1 247.7 598.8 243.6 600.5 241.7 602.3 245.8 604 245.8 605.7 255.3 607.4 245.7 609.1 243.8 610.9 238.5 612.6 235.1 614.3 238.4 616 239.8 617.7 243.6 619.5 250.9 621.2 247.3 622.9 243.4 624.6 246 626.3 239.8 628 238.5 629.8 236.4 631.5 240.4 633.2 247.3 634.9 241.3 636.6 237.7 638.4 238 640.1 239.3 641.8 239.1 643.5 238 645.2 238.1 646.9 243.6 648.7 234.6 650.4 237.5 652.1 233.7 653.8 230.4 655.5 225.2 657.3 229.1 659 219 660.7 214.1 662.4 210.2 664.1 205.2 665.8 210.4 667.6 223.4 669.3 216.9 671 208.4 672.7 203.5 674.4 207.4 676.2 208 677.9 206.8 679.6 215.5 681.3 217.1 683 218.7 684.8 211 686.5 216.1 688.2 208.5 689.9 210.6 691.6 219.6 693.3 209.4 695.1 216.7 696.8 214.3 698.5 207.8 700.2 212.7 701.9 218.5 703.7 212.3 705.4 212.5 707.1 218.2 708.8 221.4 710.5 220.6 712.2 214.5 714 215.5 715.7 211.9 717.4 205.1 719.1 202 720.8 199 722.6 197.6 724.3 208.5 726 203.4 727.7 203.6 729.4 205.4 731.1 209.5 732.9 214.5 734.6 215.9 736.3 211.4 738 213.6 739.7 213.5 741.5 212.6 743.2 206.6 744.9 206.8 746.6 206.2 748.3 200.4 750.1 203.2 751.8 200.7 753.5 205.7 755.2 202.7 756.9 201 758.6 199.1 760.4 198.7 762.1 200.3 763.8 197.7" fill="none" stroke="#3b9a3b" stroke-width="1.25" stroke-linejoin="round"/>
<path d="M325.6 178 327.3 180.8 329 177.1 330.8 176.1 332.5 185.1 334.2 184.1 335.9 189.1 337.6 189.4 339.3 194.6 341.1 203.2 342.8 199.2 344.5 198.9 346.2 205.8 347.9 212.9 349.7 211.8 351.4 213.7 353.1 211.4 354.8 205.8 356.5 198.6 358.3 201.6 360 196.3 361.7 194.1 363.4 199.9 365.1 209.3 366.8 205.2 368.6 201.2 370.3 190.4 372 187.8 373.7 188.1 375.4 183.8 377.2 192.9 378.9 193.8 380.6 195.7 382.3 188.6 384 189.2 385.7 205.1 387.5 197.1 389.2 201.7 390.9 198 392.6 201.2 394.3 200.5 396.1 198.8 397.8 200 399.5 206.2 401.2 200.6 402.9 201.7 404.6 205 406.4 204.8 408.1 210.8 409.8 205.2 411.5 209.4 413.2 211.3 415 213.5 416.7 220.9 418.4 227.7 420.1 227 421.8 226.1 423.6 221.4 425.3 222.3 427 229.6 428.7 228.5 430.4 225.8 432.1 222.7 433.9 222.7 435.6 228.7 437.3 221.7 439 224.4 440.7 219.6 442.5 224.7 444.2 217.2 445.9 218 447.6 208.9 449.3 199.2 451 194.6 452.8 200.6 454.5 202.8 456.2 202.3 457.9 194 459.6 188.4 461.4 184 463.1 178.9 464.8 173.9 466.5 169.7 468.2 161.9 469.9 163.6 471.7 163 473.4 171.4 475.1 175.8 476.8 176 478.5 178.2 480.3 173.7 482 167.2 483.7 169 485.4 170.2 487.1 170.9 488.9 168.5 490.6 170.1 492.3 167.3 494 166.3 495.7 165.8 497.4 164 499.2 166.3 500.9 167.6 502.6 162 504.3 167.3 506 167.5 507.8 172.2 509.5 177.9 511.2 182 512.9 186.7 514.6 186.7 516.3 189.2 518.1 190 519.8 183.4 521.5 184.7 523.2 180.1 524.9 180.6 526.7 178.2 528.4 182.6 530.1 182.1 531.8 171 533.5 171.8 535.2 171.8 537 175.5 538.7 175.5 540.4 184.4 542.1 189.2 543.8 187.3 545.6 184.7 547.3 189.9 549 192.6 550.7 194.7 552.4 196.1 554.2 202.1 555.9 207.8 557.6 206.6 559.3 213.4 561 214.5 562.7 214.5 564.5 216.9 566.2 213.8 567.9 215 569.6 214.6 571.3 218.7 573.1 220.7 574.8 217 576.5 214.7 578.2 217.1 579.9 215.4 581.6 215.4 583.4 215.9 585.1 210.2 586.8 215 588.5 214.9 590.2 214.8 592 217.7 593.7 223.7 595.4 219.9 597.1 219.5 598.8 220.3 600.5 221.1 602.3 222.1 604 227.1 605.7 225.8 607.4 234.4 609.1 231.7 610.9 236.3 612.6 234.4 614.3 228.7 616 229.1 617.7 227.9 619.5 222.7 621.2 222.4 622.9 222.6 624.6 222.4 626.3 214 628 212.1 629.8 208.3 631.5 212.8 633.2 208.1 634.9 213.2 636.6 208.4 638.4 211.5 640.1 200 641.8 207.4 643.5 199.4 645.2 194.7 646.9 201.4 648.7 198 650.4 187.5 652.1 180.7 653.8 187.7 655.5 187 657.3 188.8 659 188.9 660.7 186.8 662.4 174.9 664.1 174.2 665.8 175.2 667.6 176.2 669.3 172.5 671 169.9 672.7 175 674.4 168.2 676.2 178.3 677.9 181.4 679.6 180.7 681.3 175.3 683 180.7 684.8 185.6 686.5 184.8 688.2 189 689.9 190.1 691.6 191.8 693.3 197.8 695.1 200.6 696.8 200.9 698.5 204.8 700.2 200.1 701.9 211.9 703.7 214.8 705.4 206.5 707.1 205.3 708.8 209 710.5 207 712.2 202.6 714 206.4 715.7 203.1 717.4 204.5 719.1 205.1 720.8 205.1 722.6 201 724.3 207.6 726 208.4 727.7 204.4 729.4 209.5 731.1 215.8 732.9 211 734.6 210.5 736.3 212.8 738 213.3 739.7 222.5 741.5 212.3 743.2 222.4 744.9 226.8 746.6 229.5 748.3 226.7 750.1 216.4 751.8 215.8 753.5 212.7 755.2 215 756.9 206 758.6 206.5 760.4 212.2 762.1 206.6 763.8 207.1" fill="none" stroke="#3b9a3b" stroke-width="1.25" stroke-linejoin="round"/>
<path d="M325.6 175.3 327.3 173.6 329 175 330.8 176.1 332.5 177.9 334.2 184.1 335.9 190.6 337.6 184.7 339.3 185.1 341.1 183.8 342.8 186.2 344.5 194.7 346.2 197.2 347.9 187.8 349.7 191.2 351.4 191.9 353.1 197.1 354.8 196.6 356.5 195.8 358.3 195.3 360 194.5 361.7 195.8 363.4 196.5 365.1 194.7 366.8 192.1 368.6 192.5 370.3 185.1 372 187.1 373.7 188.8 375.4 193.7 377.2 190 378.9 196.5 380.6 204.4 382.3 207.1 384 203.7 385.7 209.4 387.5 202.9 389.2 204.5 390.9 212 392.6 211.7 394.3 203.1 396.1 210.6 397.8 217.7 399.5 215.1 401.2 210.5 402.9 209.2 404.6 214.8 406.4 219.1 408.1 222.2 409.8 221.5 411.5 217.8 413.2 225.7 415 225.8 416.7 238 418.4 242.7 420.1 253 421.8 258.6 423.6 256.8 425.3 260.7 427 255.3 428.7 257.4 430.4 255.8 432.1 255.1 433.9 255.4 435.6 253.3 437.3 247.6 439 234.5 440.7 243.3 442.5 241.9 444.2 242.3 445.9 244.8 447.6 240.4 449.3 241.4 451 237.7 452.8 228.7 454.5 235.6 456.2 229.6 457.9 223.9 459.6 225.2 461.4 218.8 463.1 214.5 464.8 213.3 466.5 204.7 468.2 208.5 469.9 201.4 471.7 199.2 473.4 201.3 475.1 198.9 476.8 198.1 478.5 192.6 480.3 198.9 482 197 483.7 196.4 485.4 187 487.1 191.8 488.9 185.3 490.6 193.9 492.3 187.9 494 185 495.7 179.2 497.4 180.3 499.2 186.7 500.9 189.4 502.6 179.4 504.3 176.9 506 180.1 507.8 175.2 509.5 179.4 511.2 182.5 512.9 187 514.6 180.3 516.3 172.4 518.1 179.7 519.8 177.8 521.5 172.2 523.2 163.6 524.9 177.3 526.7 175.6 528.4 172.5 530.1 179.6 531.8 176.3 533.5 175.3 535.2 172.4 537 174.9 538.7 172.2 540.4 174.7 542.1 171.7 543.8 172 545.6 174.8 547.3 181.5 549 173.3 550.7 170.7 552.4 170.4 554.2 177.1 555.9 180.7 557.6 174.8 559.3 175.7 561 183.9 562.7 186.2 564.5 188 566.2 187 567.9 190.4 569.6 184.1 571.3 183.7 573.1 187.6 574.8 196.8 576.5 199 578.2 198.5 579.9 194.9 581.6 198.2 583.4 194.6 585.1 195.9 586.8 200.3 588.5 211.4 590.2 211.5 592 212.6 593.7 207.4 595.4 201.7 597.1 193.3 598.8 198.5 600.5 206.7 602.3 197.8 604 201.2 605.7 206.6 607.4 210.6 609.1 218.5 610.9 215.5 612.6 214.9 614.3 209.6 616 208.4 617.7 211.3 619.5 211.3 621.2 217.7 622.9 222.4 624.6 223.6 626.3 229.4 628 228.4 629.8 229.5 631.5 225.9 633.2 226.5 634.9 234.9 636.6 231.8 638.4 224.6 640.1 234.3 641.8 235.7 643.5 233 645.2 236 646.9 234.8 648.7 230.5 650.4 232.6 652.1 226.3 653.8 221 655.5 223.9 657.3 219.7 659 211.7 660.7 209.9 662.4 205.9 664.1 202.1 665.8 203 667.6 198.2 669.3 197.3 671 202.6 672.7 199.6 674.4 196.3 676.2 194.4 677.9 199.3 679.6 198.4 681.3 194.5 683 197.3 684.8 195.7 686.5 194.7 688.2 200.2 689.9 201.3 691.6 206.5 693.3 204.7 695.1 208.9 696.8 213.2 698.5 213.5 700.2 213.5 701.9 211.3 703.7 209.1 705.4 214.6 707.1 216 708.8 212.6 710.5 209.8 712.2 209.7 714 198.6 715.7 197.5 717.4 201.6 719.1 200.7 720.8 197.2 722.6 197.7 724.3 206.8 726 204.6 727.7 203.2 729.4 192.2 731.1 202 732.9 194.3 734.6 196.7 736.3 193.8 738 197.3 739.7 197.7 741.5 193.9 743.2 195.9 744.9 193.1 746.6 196.1 748.3 199 750.1 199.5 751.8 200.6 753.5 199.2 755.2 192.7 756.9 198.7 758.6 204.1 760.4 201.2 762.1 191.6 763.8 187.4" fill="none" stroke="#3b9a3b" stroke-width="1.25" stroke-linejoin="round"/>
<path d="M325.6 170.9 327.3 165.4 329 162.2 330.8 168.7 332.5 169.4 334.2 181.8 335.9 180.1 337.6 172.9 339.3 176.4 341.1 183.6 342.8 184.7 344.5 179.4 346.2 172.4 347.9 162.3 349.7 161.1 351.4 173.2 353.1 184.8 354.8 182.1 356.5 176.7 358.3 184.9 360 185.8 361.7 185.9 363.4 183.9 365.1 183.4 366.8 180 368.6 175.4 370.3 177.1 372 175.9 373.7 170.4 375.4 180.1 377.2 187.1 378.9 185 380.6 178 382.3 180.4 384 175 385.7 177.2 387.5 173.7 389.2 178.2 390.9 175.9 392.6 175.9 394.3 176.1 396.1 172.6 397.8 172 399.5 179.2 401.2 178 402.9 188.6 404.6 184.8 406.4 175.5 408.1 179.5 409.8 182.9 411.5 187.6 413.2 187.6 415 193.2 416.7 192.2 418.4 195.8 420.1 198.9 421.8 199.4 423.6 201.3 425.3 210.5 427 201.1 428.7 204.1 430.4 213.1 432.1 206.5 433.9 206.3 435.6 204.5 437.3 200.5 439 203.8 440.7 213.6 442.5 207.1 444.2 200.4 445.9 191.9 447.6 193.1 449.3 191.1 451 186.2 452.8 185.3 454.5 183.7 456.2 179.3 457.9 180.4 459.6 168.9 461.4 170.8 463.1 166.7 464.8 164.2 466.5 162.7 468.2 155.1 469.9 146.7 471.7 138.4 473.4 138.4 475.1 140 476.8 138.4 478.5 145.4 480.3 144.7 482 142.6 483.7 141.4 485.4 148.2 487.1 154.4 488.9 145.4 490.6 148.4 492.3 154.7 494 156.6 495.7 152.2 497.4 144 499.2 144.2 500.9 139.8 502.6 141.6 504.3 142.3 506 141.1 507.8 146.4 509.5 147.2 511.2 150.8 512.9 154.4 514.6 151.5 516.3 155.8 518.1 154.7 519.8 157.6 521.5 156.3 523.2 157.3 524.9 151.9 526.7 153.6 528.4 155.5 530.1 151 531.8 168.2 533.5 171.5 535.2 180.2 537 174 538.7 167.8 540.4 162.6 542.1 161.3 543.8 165.7 545.6 157.9 547.3 159.4 549 163.3 550.7 169.5 552.4 167.2 554.2 169.8 555.9 171.4 557.6 169.8 559.3 169.5 561 174.6 562.7 170 564.5 177.3 566.2 187.9 567.9 189.3 569.6 191.7 571.3 194.1 573.1 198.3 574.8 199.8 576.5 203.7 578.2 211.3 579.9 206.5 581.6 211.1 583.4 211.2 585.1 207.1 586.8 207.3 588.5 195.8 590.2 205.8 592 209.4 593.7 208.2 595.4 202 597.1 204.7 598.8 206.6 600.5 196.7 602.3 199.8 604 199.5 605.7 195.6 607.4 200.4 609.1 203.3 610.9 201.8 612.6 204.3 614.3 204.3 616 210.1 617.7 210.9 619.5 215.2 621.2 219.6 622.9 208.1 624.6 205.9 626.3 202.1 628 207.6 629.8 210.7 631.5 213.4 633.2 220.3 634.9 216.5 636.6 219 638.4 218 640.1 222.5 641.8 214.4 643.5 209.7 645.2 207.1 646.9 209.8 648.7 208.9 650.4 199.7 652.1 198.9 653.8 195.6 655.5 193.3 657.3 196.6 659 187 660.7 195 662.4 190.6 664.1 190.8 665.8 198.4 667.6 194.8 669.3 192.4 671 192.8 672.7 196.9 674.4 195.2 676.2 191.3 677.9 192.6 679.6 187.6 681.3 188.5 683 190 684.8 188.8 686.5 197.3 688.2 202.7 689.9 202.4 691.6 202.7 693.3 198.3 695.1 197.5 696.8 200.8 698.5 202.5 700.2 205.3 701.9 206.3 703.7 207 705.4 201.5 707.1 203.6 708.8 204.2 710.5 202.3 712.2 203.6 714 203.1 715.7 210.8 717.4 204.8 719.1 203.5 720.8 200.4 722.6 197.4 724.3 204.6 726 191.1 727.7 191.5 729.4 191.4 731.1 199.9 732.9 195.4 734.6 193.5 736.3 195.7 738 194.8 739.7 189.8 741.5 192.2 743.2 196.3 744.9 189.5 746.6 189.8 748.3 191.3 750.1 181.1 751.8 182.9 753.5 185 755.2 181.7 756.9 181.3 758.6 177.4 760.4 174 762.1 174.1 763.8 171.5" fill="none" stroke="#3b9a3b" stroke-width="1.25" stroke-linejoin="round"/>
<path d="M325.6 174 327.3 172.6 329 171.9 330.8 171 332.5 170.1 334.2 172.2 335.9 172.5 337.6 176.6 339.3 178.7 341.1 173.4 342.8 182.6 344.5 179 346.2 165.2 347.9 177.8 349.7 172.2 351.4 182.7 353.1 180.8 354.8 174.5 356.5 171.2 358.3 179.4 360 186.6 361.7 191.9 363.4 186.2 365.1 187.2 366.8 186.1 368.6 184.4 370.3 183.1 372 182.1 373.7 183.7 375.4 192.4 377.2 185.6 378.9 199 380.6 191 382.3 193.7 384 193.8 385.7 195.3 387.5 195.9 389.2 195.2 390.9 196.1 392.6 200.5 394.3 195.4 396.1 198.6 397.8 192.9 399.5 197.2 401.2 202.7 402.9 202 404.6 200.3 406.4 207.7 408.1 209.4 409.8 204 411.5 211.6 413.2 216.5 415 216.1 416.7 222.3 418.4 232.4 420.1 236.2 421.8 230.3 423.6 225.5 425.3 223 427 222.4 428.7 229.2 430.4 224.9 432.1 217.7 433.9 220.1 435.6 214.1 437.3 215.1 439 212.4 440.7 210.7 442.5 216.5 444.2 206.8 445.9 209.4 447.6 207.1 449.3 206.5 451 201.2 452.8 197 454.5 195.2 456.2 186.7 457.9 184.4 459.6 184.3 461.4 193.3 463.1 186.6 464.8 181.5 466.5 179.9 468.2 178.1 469.9 169.9 471.7 162 473.4 153.3 475.1 151 476.8 157.4 478.5 157.6 480.3 164.7 482 160.4 483.7 159.1 485.4 160.9 487.1 159.9 488.9 160 490.6 161.7 492.3 154.4 494 142 495.7 143.6 497.4 143.5 499.2 147.7 500.9 153 502.6 146.2 504.3 153 506 154.6 507.8 158.2 509.5 157.9 511.2 160.7 512.9 160.1 514.6 167.9 516.3 168 518.1 161.7 519.8 167.6 521.5 169.9 523.2 162.6 524.9 162.3 526.7 159.7 528.4 172.4 530.1 170.9 531.8 176.3 533.5 180.3 535.2 175.2 537 170 538.7 178.1 540.4 181.8 542.1 182.3 543.8 181.2 545.6 185.9 547.3 174.1 549 173.9 550.7 178.4 552.4 182.6 554.2 173.8 555.9 169.1 557.6 178.2 559.3 181.3 561 180.2 562.7 190.7 564.5 195.7 566.2 191.5 567.9 198 569.6 201.6 571.3 208.4 573.1 210.9 574.8 206.9 576.5 211 578.2 216.2 579.9 217 581.6 207.7 583.4 208.8 585.1 212.6 586.8 212.1 588.5 210.5 590.2 210.8 592 219.2 593.7 215.8 595.4 215.8 597.1 211.4 598.8 217.9 600.5 212 602.3 215.4 604 223.2 605.7 216 607.4 219.7 609.1 218.9 610.9 220.7 612.6 216.7 614.3 214.1 616 212.5 617.7 213.3 619.5 223.5 621.2 230.3 622.9 226.5 624.6 228.8 626.3 224 628 222.2 629.8 227.8 631.5 229.8 633.2 231.5 634.9 231.6 636.6 228.4 638.4 222.2 640.1 215 641.8 219.9 643.5 220.9 645.2 211.5 646.9 207.1 648.7 206 650.4 215.2 652.1 214.5 653.8 208.3 655.5 206.9 657.3 194.3 659 193.5 660.7 191.6 662.4 196 664.1 196.6 665.8 197 667.6 196.8 669.3 196 671 192.9 672.7 191.5 674.4 187.4 676.2 194.8 677.9 194 679.6 193.9 681.3 188.4 683 193.1 684.8 194.3 686.5 200.4 688.2 198.5 689.9 198.1 691.6 202.7 693.3 204.3 695.1 204.2 696.8 201.3 698.5 206.5 700.2 200.9 701.9 202.1 703.7 193.1 705.4 188.9 707.1 193.9 708.8 197.8 710.5 187 712.2 187.5 714 187.9 715.7 192.2 717.4 193.5 719.1 190.2 720.8 188.6 722.6 193.5 724.3 187.6 726 187.6 727.7 192.7 729.4 185.4 731.1 185.8 732.9 182.2 734.6 185.9 736.3 184.5 738 192.4 739.7 189.2 741.5 195.4 743.2 192.5 744.9 202.4 746.6 198.5 748.3 191.9 750.1 188 751.8 177.7 753.5 179.8 755.2 169.1 756.9 160.4 758.6 165.2 760.4 165.1 762.1 162.6 763.8 157.1" fill="none" stroke="#3b9a3b" stroke-width="1.25" stroke-linejoin="round"/>
<path d="M325.6 173.5 327.3 173.1 329 184.6 330.8 179.5 332.5 180.1 334.2 184.3 335.9 178.4 337.6 179.9 339.3 174.4 341.1 174.5 342.8 178.3 344.5 174.6 346.2 174.1 347.9 179.7 349.7 188.3 351.4 189.6 353.1 185.7 354.8 187 356.5 179.4 358.3 181 360 183.2 361.7 184.5 363.4 190.9 365.1 191.9 366.8 195 368.6 204.4 370.3 208.3 372 201.3 373.7 203.3 375.4 205.6 377.2 213.5 378.9 215.4 380.6 211.3 382.3 212.2 384 215.9 385.7 210.1 387.5 213.1 389.2 216.3 390.9 211.9 392.6 221.2 394.3 217.5 396.1 222.7 397.8 225 399.5 226.6 401.2 224.5 402.9 223.7 404.6 223.3 406.4 222.3 408.1 217.4 409.8 213.9 411.5 216.6 413.2 219 415 226.3 416.7 234.9 418.4 234.2 420.1 237 421.8 233.9 423.6 243.3 425.3 230.1 427 238.3 428.7 238 430.4 233 432.1 238.5 433.9 237.8 435.6 242.9 437.3 243 439 244.4 440.7 235.6 442.5 228.3 444.2 225.2 445.9 215.5 447.6 207.8 449.3 207.9 451 208 452.8 207.4 454.5 206.9 456.2 197.5 457.9 194.3 459.6 193.2 461.4 190.4 463.1 183.7 464.8 182.9 466.5 177.9 468.2 175.6 469.9 167.6 471.7 162.8 473.4 170.6 475.1 169.3 476.8 164.8 478.5 166.9 480.3 162.9 482 162.2 483.7 160.6 485.4 162.2 487.1 161.6 488.9 160.1 490.6 167.9 492.3 170.7 494 173.3 495.7 163.6 497.4 163.4 499.2 163.4 500.9 164.5 502.6 168.6 504.3 172.6 506 168.7 507.8 171.8 509.5 165.9 511.2 168.4 512.9 170.9 514.6 172.8 516.3 173.3 518.1 173.1 519.8 166.5 521.5 160.1 523.2 170.6 524.9 171.5 526.7 170.1 528.4 176 530.1 178.7 531.8 179.7 533.5 188.8 535.2 182.6 537 181.8 538.7 181.7 540.4 181.2 542.1 180.5 543.8 171.6 545.6 175.3 547.3 175.2 549 181.3 550.7 182.3 552.4 186.6 554.2 189.4 555.9 195.2 557.6 200.4 559.3 199.1 561 198.7 562.7 200.3 564.5 206.8 566.2 207.5 567.9 220.5 569.6 214.5 571.3 215.2 573.1 214.8 574.8 211.1 576.5 215.8 578.2 214.3 579.9 221.1 581.6 221.5 583.4 226.2 585.1 226.3 586.8 221.7 588.5 227.9 590.2 231.9 592 233.5 593.7 232.2 595.4 221.3 597.1 228.6 598.8 240 600.5 241.7 602.3 247.2 604 246.7 605.7 244.3 607.4 250.8 609.1 254.1 610.9 261.1 612.6 256.7 614.3 257.6 616 250.2 617.7 245.3 619.5 249.9 621.2 250.5 622.9 248.7 624.6 244.3 626.3 251.3 628 249.4 629.8 240.3 631.5 243 633.2 243.8 634.9 245.6 636.6 251.3 638.4 245.5 640.1 244.2 641.8 243.4 643.5 240 645.2 236.8 646.9 245.5 648.7 240.3 650.4 240.8 652.1 237.3 653.8 238.1 655.5 238.7 657.3 230.8 659 229.1 660.7 228.5 662.4 227.9 664.1 225.6 665.8 224.2 667.6 233 669.3 232 671 228.5 672.7 221.9 674.4 214.8 676.2 219.8 677.9 210.7 679.6 213.4 681.3 214.4 683 220.3 684.8 225.3 686.5 220.8 688.2 225 689.9 227.5 691.6 223.9 693.3 219.4 695.1 230.3 696.8 231.4 698.5 230.9 700.2 222.4 701.9 213.6 703.7 218.1 705.4 219.9 707.1 219.6 708.8 218.8 710.5 225.1 712.2 224.8 714 230.8 715.7 242.7 717.4 244.4 719.1 238.3 720.8 231.5 722.6 239.6 724.3 242.7 726 236.7 727.7 246.7 729.4 236.2 731.1 227.5 732.9 238.9 734.6 230.6 736.3 229.4 738 222 739.7 218 741.5 217.6 743.2 214.1 744.9 208.3 746.6 207.8 748.3 207.8 750.1 213.7 751.8 209 753.5 207.6 755.2 198.6 756.9 199.9 758.6 200.5 760.4 202.5 762.1 197.5 763.8 197.5" fill="none" stroke="#3b9a3b" stroke-width="1.25" stroke-linejoin="round"/>
<path d="M325.6 177.2 327.3 180.4 329 185.1 330.8 185.7 332.5 183.8 334.2 186 335.9 186 337.6 183.4 339.3 187.9 341.1 187.9 342.8 185.1 344.5 186.1 346.2 188.7 347.9 193.5 349.7 195.7 351.4 197.4 353.1 197.3 354.8 190.6 356.5 188.6 358.3 184 360 190.2 361.7 190.3 363.4 194.4 365.1 191.1 366.8 187.6 368.6 185.7 370.3 197.2 372 194.2 373.7 193.3 375.4 193.1 377.2 194.5 378.9 186 380.6 183 382.3 186 384 185.2 385.7 191.4 387.5 191.7 389.2 191.4 390.9 196.2 392.6 196.6 394.3 197.6 396.1 199.6 397.8 204.5 399.5 203.5 401.2 199.2 402.9 200.7 404.6 196.5 406.4 202 408.1 208.3 409.8 209.8 411.5 218.4 413.2 226.2 415 226.8 416.7 229.1 418.4 228.3 420.1 223.2 421.8 223.8 423.6 225.9 425.3 227.9 427 236.4 428.7 233.2 430.4 233 432.1 229.9 433.9 231 435.6 227.4 437.3 224.4 439 219.8 440.7 215.4 442.5 217.1 444.2 212.1 445.9 203.8 447.6 203.5 449.3 193.8 451 188.2 452.8 180.6 454.5 177.8 456.2 177.2 457.9 174.4 459.6 169 461.4 159 463.1 163 464.8 168 466.5 167.7 468.2 169 469.9 167.8 471.7 167.3 473.4 162.4 475.1 165.9 476.8 164.9 478.5 167.6 480.3 169.1 482 167.5 483.7 171.7 485.4 170.7 487.1 175.1 488.9 175.9 490.6 176.8 492.3 169.9 494 172.6 495.7 172 497.4 169.2 499.2 174.1 500.9 174.8 502.6 172.5 504.3 181.8 506 184.8 507.8 186.5 509.5 188.7 511.2 190.3 512.9 190.5 514.6 188.6 516.3 186.7 518.1 186.7 519.8 182 521.5 182.9 523.2 184.6 524.9 178 526.7 176.9 528.4 171.6 530.1 172.7 531.8 172.8 533.5 175.6 535.2 175.8 537 181.3 538.7 181 540.4 179.4 542.1 186.7 543.8 181.7 545.6 187.9 547.3 180.8 549 182.9 550.7 182 552.4 186.5 554.2 193.4 555.9 184.1 557.6 183.6 559.3 191.3 561 196.1 562.7 200.3 564.5 206.9 566.2 206.9 567.9 212.4 569.6 212.8 571.3 215.9 573.1 212.4 574.8 212.6 576.5 208.2 578.2 212.6 579.9 209.6 581.6 209.5 583.4 208.9 585.1 206.4 586.8 209.7 588.5 211.2 590.2 214.8 592 217.4 593.7 220.4 595.4 219.1 597.1 213.6 598.8 218.8 600.5 220.3 602.3 218.9 604 221.6 605.7 235.4 607.4 226.9 609.1 223.3 610.9 226.2 612.6 219 614.3 217 616 213.1 617.7 215.6 619.5 214 621.2 217.3 622.9 217.4 624.6 220.5 626.3 221.4 628 215.3 629.8 219.1 631.5 216.9 633.2 219.3 634.9 222.5 636.6 220.6 638.4 216.1 640.1 226.3 641.8 223.9 643.5 221.5 645.2 214 646.9 206 648.7 200.4 650.4 198.2 652.1 199.9 653.8 194.9 655.5 191.6 657.3 189.9 659 185.1 660.7 181.8 662.4 180.4 664.1 181 665.8 186.5 667.6 187.9 669.3 197.2 671 193.7 672.7 195.7 674.4 194.9 676.2 192.6 677.9 195.9 679.6 207.8 681.3 209.3 683 201.5 684.8 210.6 686.5 212.9 688.2 209.8 689.9 214.2 691.6 215.8 693.3 212.2 695.1 214.5 696.8 217.2 698.5 218.7 700.2 217.1 701.9 215.3 703.7 210 705.4 209.5 707.1 206.2 708.8 196.3 710.5 192.6 712.2 188.5 714 191.6 715.7 190.9 717.4 194 719.1 196.6 720.8 197.1 722.6 195.6 724.3 190.5 726 191 727.7 187.6 729.4 199.5 731.1 199.1 732.9 206 734.6 206.3 736.3 203.8 738 195.8 739.7 194.1 741.5 198.1 743.2 196 744.9 195.1 746.6 190.8 748.3 192.8 750.1 197.1 751.8 192.7 753.5 194.6 755.2 196 756.9 187.5 758.6 180.9 760.4 182.5 762.1 188.7 763.8 191.5" fill="none" stroke="#dc3a26" stroke-width="1.6" stroke-linejoin="round"/>
<line x1="325.6" y1="138.4" x2="325.6" y2="262.9" stroke="#222" stroke-width="1.4"/>
<text x="322.6" y="141.4" font-size="8" font-weight="bold" text-anchor="end">7.80</text>
<text x="322.6" y="155.3" font-size="8" text-anchor="end">5.00</text>
<text x="322.6" y="180.2" font-size="8" text-anchor="end">0.00</text>
<text x="322.6" y="205.1" font-size="8" text-anchor="end">-5.00</text>
<text x="322.6" y="230" font-size="8" text-anchor="end">-10.00</text>
<text x="322.6" y="254.9" font-size="8" text-anchor="end">-15.00</text>
<text x="322.6" y="265.9" font-size="8" font-weight="bold" text-anchor="end">-17.20</text>
<text x="325.6" y="273.4" font-size="8" text-anchor="middle" font-weight="bold">0</text>
<text x="411.5" y="280.7" font-size="8" text-anchor="middle">50</text>
<text x="497.4" y="273.4" font-size="8" text-anchor="middle">100</text>
<text x="583.4" y="280.7" font-size="8" text-anchor="middle">150</text>
<text x="669.3" y="273.4" font-size="8" text-anchor="middle">200</text>
<text x="763.8" y="273.4" font-size="8" text-anchor="middle" font-weight="bold">255</text>
<text x="545.6" y="284.9" font-size="8" text-anchor="middle">Timepoint</text>
<text transform="translate(292,200.6) rotate(-90)" font-size="8" text-anchor="middle">Value</text>
<circle cx="333.4" cy="116.3" r="3.8" fill="#2e9e2e"/>
<text x="338.6" y="119.2" font-size="8" stroke="#111" stroke-width="0.12">TS_12390433</text>
<circle cx="406.2" cy="116.3" r="3.8" fill="#2e9e2e"/>
<text x="411.4" y="119.2" font-size="8" stroke="#111" stroke-width="0.12">TS_40935096</text>
<circle cx="478.5" cy="116.3" r="3.8" fill="#2e9e2e"/>
<text x="483.7" y="119.2" font-size="8" stroke="#111" stroke-width="0.12">TS_1772627</text>
<circle cx="546.9" cy="116.3" r="3.8" fill="#2e9e2e"/>
<text x="552.1" y="119.2" font-size="8" stroke="#111" stroke-width="0.12">TS_46453321</text>
<circle cx="618.8" cy="116.3" r="3.8" fill="#2e9e2e"/>
<text x="624" y="119.2" font-size="8" stroke="#111" stroke-width="0.12">TS_37900604</text>
<circle cx="691.2" cy="116.3" r="3.8" fill="#2e9e2e"/>
<text x="696.4" y="119.2" font-size="8" stroke="#111" stroke-width="0.12">TS_18667516</text>
<circle cx="333.4" cy="128.2" r="3.8" fill="#2e9e2e"/>
<text x="338.6" y="131.1" font-size="8" stroke="#111" stroke-width="0.12">TS_28199658</text>
<circle cx="406.2" cy="128.2" r="3.8" fill="#2e9e2e"/>
<text x="411.4" y="131.1" font-size="8" stroke="#111" stroke-width="0.12">TS_16560904</text>
<circle cx="478.5" cy="128.2" r="3.8" fill="#2e9e2e"/>
<text x="483.7" y="131.1" font-size="8" stroke="#111" stroke-width="0.12">TS_8399809</text>
<circle cx="546.9" cy="128.2" r="3.8" fill="#2e9e2e"/>
<text x="552.1" y="131.1" font-size="8" stroke="#111" stroke-width="0.12">TS_4071861</text>
<circle cx="618.8" cy="128.2" r="3.8" fill="#e8141b"/>
<text x="624" y="131.1" font-size="8" stroke="#111" stroke-width="0.12">Q_19</text>
<line x1="325.6" y1="374.9" x2="763.8" y2="374.9" stroke="#ececec"/>
<line x1="325.6" y1="399.3" x2="763.8" y2="399.3" stroke="#ececec"/>
<line x1="325.6" y1="423.7" x2="763.8" y2="423.7" stroke="#ececec"/>
<line x1="325.6" y1="448.1" x2="763.8" y2="448.1" stroke="#ececec"/>
<line x1="325.6" y1="472.4" x2="763.8" y2="472.4" stroke="#ececec"/>
<line x1="411.5" y1="368.9" x2="411.5" y2="494.4" stroke="#ececec"/>
<line x1="497.4" y1="368.9" x2="497.4" y2="494.4" stroke="#ececec"/>
<line x1="583.4" y1="368.9" x2="583.4" y2="494.4" stroke="#ececec"/>
<line x1="669.3" y1="368.9" x2="669.3" y2="494.4" stroke="#ececec"/>
<path d="M325.6 423.7 327.3 426.9 329 431.5 330.8 432 332.5 430.2 334.2 432.3 335.9 432.3 337.6 429.8 339.3 434.1 341.1 434.1 342.8 431.4 344.5 432.4 346.2 435 347.9 439.7 349.7 441.8 351.4 443.5 353.1 443.4 354.8 436.8 356.5 434.8 358.3 430.3 360 436.4 361.7 436.5 363.4 440.5 365.1 437.3 366.8 433.9 368.6 432 370.3 443.2 372 440.3 373.7 439.4 375.4 439.3 377.2 440.6 378.9 432.3 380.6 429.3 382.3 432.3 384 431.6 385.7 437.6 387.5 437.9 389.2 437.6 390.9 442.3 392.6 442.7 394.3 443.7 396.1 445.7 397.8 450.4 399.5 449.5 401.2 445.2 402.9 446.7 404.6 442.6 406.4 448 408.1 454.2 409.8 455.6 411.5 464.1 413.2 471.7 415 472.2 416.7 474.5 418.4 473.7 420.1 468.7 421.8 469.3 423.6 471.3 425.3 473.3 427 481.6 428.7 478.5 430.4 478.3 432.1 475.3 433.9 476.3 435.6 472.9 437.3 469.9 439 465.4 440.7 461.1 442.5 462.8 444.2 457.9 445.9 449.8 447.6 449.4 449.3 439.9 451 434.5 452.8 427 454.5 424.3 456.2 423.7 457.9 421 459.6 415.7 461.4 405.9 463.1 409.8 464.8 414.6 466.5 414.4 468.2 415.7 469.9 414.5 471.7 414 473.4 409.2 475.1 412.6 476.8 411.6 478.5 414.3 480.3 415.7 482 414.2 483.7 418.3 485.4 417.3 487.1 421.6 488.9 422.4 490.6 423.3 492.3 416.6 494 419.1 495.7 418.6 497.4 415.9 499.2 420.6 500.9 421.3 502.6 419.1 504.3 428.2 506 431.1 507.8 432.7 509.5 434.9 511.2 436.5 512.9 436.7 514.6 434.9 516.3 432.9 518.1 433 519.8 428.4 521.5 429.3 523.2 430.9 524.9 424.5 526.7 423.4 528.4 418.2 530.1 419.3 531.8 419.4 533.5 422.1 535.2 422.3 537 427.7 538.7 427.4 540.4 425.9 542.1 433 543.8 428.1 545.6 434.2 547.3 427.2 549 429.3 550.7 428.3 552.4 432.8 554.2 439.6 555.9 430.5 557.6 429.9 559.3 437.5 561 442.2 562.7 446.3 564.5 452.7 566.2 452.8 567.9 458.2 569.6 458.5 571.3 461.6 573.1 458.1 574.8 458.4 576.5 454 578.2 458.3 579.9 455.4 581.6 455.3 583.4 454.7 585.1 452.3 586.8 455.5 588.5 457 590.2 460.5 592 463.1 593.7 466 595.4 464.7 597.1 459.3 598.8 464.4 600.5 465.9 602.3 464.5 604 467.1 605.7 480.7 607.4 472.3 609.1 468.8 610.9 471.7 612.6 464.6 614.3 462.7 616 458.8 617.7 461.2 619.5 459.7 621.2 462.9 622.9 463 624.6 466.1 626.3 467 628 461 629.8 464.7 631.5 462.6 633.2 464.9 634.9 468 636.6 466.2 638.4 461.8 640.1 471.8 641.8 469.4 643.5 467 645.2 459.7 646.9 451.9 648.7 446.4 650.4 444.3 652.1 445.9 653.8 441.1 655.5 437.8 657.3 436.1 659 431.4 660.7 428.2 662.4 426.9 664.1 427.5 665.8 432.7 667.6 434.2 669.3 443.2 671 439.8 672.7 441.8 674.4 441 676.2 438.8 677.9 442 679.6 453.7 681.3 455.1 683 447.5 684.8 456.4 686.5 458.6 688.2 455.6 689.9 459.9 691.6 461.5 693.3 458 695.1 460.2 696.8 462.9 698.5 464.4 700.2 462.8 701.9 461 703.7 455.8 705.4 455.3 707.1 452.1 708.8 442.4 710.5 438.7 712.2 434.7 714 437.8 715.7 437.1 717.4 440.1 719.1 442.7 720.8 443.2 722.6 441.7 724.3 436.7 726 437.2 727.7 433.8 729.4 445.5 731.1 445.1 732.9 451.8 734.6 452.2 736.3 449.7 738 441.9 739.7 440.2 741.5 444.2 743.2 442.1 744.9 441.3 746.6 437 748.3 439 750.1 443.2 751.8 438.9 753.5 440.7 755.2 442.1 756.9 433.7 758.6 427.3 760.4 428.9 762.1 434.9 763.8 437.7" fill="none" stroke="#dc3a26" stroke-width="1.6" stroke-linejoin="round"/>
<path d="M325.6 420.2 327.3 419.8 329 419.4 330.8 407.1 332.5 415.8 334.2 421.1 335.9 425.7 337.6 422 339.3 418.3 341.1 420.9 342.8 414.9 344.5 408.9 346.2 416.1 347.9 417.1 349.7 421.2 351.4 426.1 353.1 429 354.8 430.4 356.5 436 358.3 435 360 431.1 361.7 436.1 363.4 437.7 365.1 440.7 366.8 437.5 368.6 437.7 370.3 433.5 372 435.9 373.7 442.3 375.4 438 377.2 438.8 378.9 438.6 380.6 440.2 382.3 455.2 384 462.1 385.7 458.3 387.5 459.7 389.2 467.2 390.9 465.6 392.6 457.5 394.3 455.5 396.1 460.7 397.8 459.3 399.5 455.6 401.2 458.3 402.9 452 404.6 458.6 406.4 451.6 408.1 449.7 409.8 453.1 411.5 456.8 413.2 460.8 415 468.2 416.7 465.9 418.4 463.9 420.1 461.5 421.8 462.2 423.6 461.8 425.3 466.1 427 467.9 428.7 472.6 430.4 467.5 432.1 469.8 433.9 463.9 435.6 466.2 437.3 458.9 439 452.4 440.7 447.3 442.5 444.6 444.2 446 445.9 445.8 447.6 446.6 449.3 440.5 451 429.1 452.8 432.3 454.5 419 456.2 421.3 457.9 423.8 459.6 417.7 461.4 409.2 463.1 407 464.8 407.8 466.5 396.3 468.2 400.2 469.9 393.6 471.7 392.2 473.4 393.6 475.1 392.9 476.8 397.1 478.5 400.1 480.3 396.2 482 399.4 483.7 400.4 485.4 392 487.1 383.8 488.9 381.4 490.6 380.8 492.3 383.3 494 383.6 495.7 387.5 497.4 398.7 499.2 394.4 500.9 392.3 502.6 388.5 504.3 396 506 391.9 507.8 396.3 509.5 402.1 511.2 401.9 512.9 394.2 514.6 393 516.3 390.4 518.1 394.4 519.8 391.4 521.5 387.5 523.2 392.8 524.9 390.3 526.7 398.9 528.4 397.6 530.1 403.6 531.8 399.3 533.5 398.6 535.2 403.3 537 400.6 538.7 405 540.4 403.8 542.1 407.8 543.8 405.1 545.6 408.6 547.3 403.3 549 404.5 550.7 404.6 552.4 412 554.2 419.5 555.9 418.6 557.6 406.9 559.3 411.2 561 405.5 562.7 402.3 564.5 408.3 566.2 411.3 567.9 410.4 569.6 417.4 571.3 423.4 573.1 429 574.8 431 576.5 434.2 578.2 431.1 579.9 434.4 581.6 433.1 583.4 439.1 585.1 432.4 586.8 439.1 588.5 443.8 590.2 449.7 592 457.5 593.7 459.3 595.4 456 597.1 458.9 598.8 453.4 600.5 460 602.3 464.4 604 458.9 605.7 455.8 607.4 459.8 609.1 452.9 610.9 447.4 612.6 448.2 614.3 455.7 616 450.3 617.7 453.2 619.5 455 621.2 453.7 622.9 457.9 624.6 451.9 626.3 457 628 453.4 629.8 452.4 631.5 447.6 633.2 449.8 634.9 448.9 636.6 453 638.4 455.5 640.1 458.2 641.8 453.8 643.5 456.4 645.2 448.4 646.9 449.3 648.7 453.6 650.4 453.7 652.1 445.5 653.8 446.6 655.5 442.5 657.3 448.4 659 443.5 660.7 437.6 662.4 434.8 664.1 431.9 665.8 437.3 667.6 443.6 669.3 446.3 671 439.2 672.7 436.5 674.4 433.2 676.2 436.7 677.9 433.5 679.6 441 681.3 437.8 683 441.7 684.8 441.6 686.5 437.1 688.2 433.4 689.9 435.5 691.6 437.9 693.3 432.6 695.1 430.6 696.8 436.4 698.5 435.2 700.2 436.4 701.9 432.4 703.7 431.8 705.4 431.1 707.1 431.5 708.8 433.9 710.5 427.2 712.2 425.2 714 435 715.7 433.3 717.4 429.5 719.1 431 720.8 432.7 722.6 432.5 724.3 428.2 726 430.6 727.7 426.6 729.4 419.8 731.1 417.2 732.9 415.5 734.6 419.4 736.3 416.4 738 419.3 739.7 417.4 741.5 424.2 743.2 418.6 744.9 422.2 746.6 421.8 748.3 417.3 750.1 418.6 751.8 421.4 753.5 422 755.2 417.1 756.9 414.1 758.6 414.1 760.4 419.6 762.1 422.5 763.8 420.2" fill="none" stroke="#3b9a3b" stroke-width="1.25" stroke-linejoin="round"/>
<path d="M325.6 419 327.3 415.2 329 418.5 330.8 420.3 332.5 415.4 334.2 410.3 335.9 410.8 337.6 415.8 339.3 407.3 341.1 407.6 342.8 405.7 344.5 415.2 346.2 415.6 347.9 413.7 349.7 410.4 351.4 413.3 353.1 418.1 354.8 421.9 356.5 419.5 358.3 415.4 360 413.2 361.7 420.2 363.4 420.9 365.1 419.1 366.8 413.8 368.6 412.4 370.3 412.8 372 421.1 373.7 415.1 375.4 416.1 377.2 415.6 378.9 418.6 380.6 418.3 382.3 418.4 384 418.5 385.7 420.2 387.5 415.2 389.2 412.2 390.9 417.6 392.6 422.7 394.3 426.3 396.1 427.5 397.8 422.2 399.5 426.1 401.2 421.6 402.9 432.3 404.6 439.1 406.4 442.7 408.1 446 409.8 443.8 411.5 437.1 413.2 444.5 415 445.6 416.7 443 418.4 437.6 420.1 443.7 421.8 444.7 423.6 444.2 425.3 449.1 427 450.5 428.7 455.4 430.4 460.6 432.1 462.6 433.9 456.6 435.6 451.8 437.3 452.9 439 458.5 440.7 451 442.5 450 444.2 443.7 445.9 444.3 447.6 448.9 449.3 447.4 451 447 452.8 436.5 454.5 444.6 456.2 440.1 457.9 434.6 459.6 436.7 461.4 426.5 463.1 417.7 464.8 410.4 466.5 406.3 468.2 406.7 469.9 401.9 471.7 403.6 473.4 403 475.1 402 476.8 402.1 478.5 400.6 480.3 404.5 482 405.1 483.7 407.5 485.4 406.6 487.1 405.2 488.9 408.8 490.6 402.3 492.3 396.2 494 398.1 495.7 401.4 497.4 406.6 499.2 408.5 500.9 410.3 502.6 408 504.3 409.8 506 408.3 507.8 408.2 509.5 412.7 511.2 419.3 512.9 423.2 514.6 425.6 516.3 422.9 518.1 416.1 519.8 420.3 521.5 418.2 523.2 420.1 524.9 415.1 526.7 407.7 528.4 407.5 530.1 410.1 531.8 410.8 533.5 408.7 535.2 414.7 537 421.2 538.7 422.3 540.4 417.9 542.1 425 543.8 422.5 545.6 422.4 547.3 427.2 549 433.1 550.7 440.4 552.4 443.4 554.2 439.9 555.9 435.4 557.6 438.2 559.3 440.5 561 443.6 562.7 433.3 564.5 443 566.2 450.5 567.9 445.6 569.6 451.8 571.3 448 573.1 451.3 574.8 448.8 576.5 446.3 578.2 452.9 579.9 456 581.6 462.6 583.4 459.9 585.1 463.4 586.8 468.6 588.5 466.6 590.2 465.9 592 467.5 593.7 470 595.4 465.8 597.1 469.6 598.8 472.8 600.5 472.2 602.3 468.1 604 468.5 605.7 469.2 607.4 470.7 609.1 470.1 610.9 469.2 612.6 457.7 614.3 465.8 616 465.6 617.7 462.4 619.5 464.8 621.2 468.1 622.9 463.6 624.6 457.7 626.3 455.6 628 458.6 629.8 462.4 631.5 460.2 633.2 468.3 634.9 470.1 636.6 460.2 638.4 456.6 640.1 455 641.8 454.9 643.5 455.2 645.2 456.6 646.9 451 648.7 447 650.4 443.6 652.1 452.1 653.8 441.8 655.5 436.5 657.3 429.7 659 433.7 660.7 442.6 662.4 444.7 664.1 444.4 665.8 430.9 667.6 433.5 669.3 433.8 671 428.3 672.7 425.3 674.4 423.2 676.2 426.7 677.9 419.7 679.6 421.1 681.3 427.2 683 425.9 684.8 432.6 686.5 436.2 688.2 436.5 689.9 439 691.6 438 693.3 438.3 695.1 438 696.8 439.4 698.5 432.1 700.2 436 701.9 436.7 703.7 438.6 705.4 438 707.1 440 708.8 426.6 710.5 427.2 712.2 422.5 714 424.3 715.7 429.3 717.4 429.2 719.1 429.8 720.8 432.3 722.6 428.2 724.3 419 726 418.7 727.7 414.8 729.4 410.9 731.1 422 732.9 413.5 734.6 421.6 736.3 414 738 416.1 739.7 415.5 741.5 408.2 743.2 408 744.9 418.6 746.6 426 748.3 428.2 750.1 420.5 751.8 418.3 753.5 414.4 755.2 413.7 756.9 410.2 758.6 417.3 760.4 425.4 762.1 426 763.8 420.4" fill="none" stroke="#3b9a3b" stroke-width="1.25" stroke-linejoin="round"/>
<path d="M325.6 419.5 327.3 423.4 329 431.2 330.8 428.6 332.5 421.6 334.2 417.8 335.9 418.2 337.6 418.7 339.3 425.3 341.1 420.7 342.8 409.4 344.5 412 346.2 404.8 347.9 412.1 349.7 413.5 351.4 414.7 353.1 413.9 354.8 421.1 356.5 413.8 358.3 415.7 360 424.8 361.7 419.4 363.4 418.3 365.1 423.7 366.8 423.7 368.6 420 370.3 419.4 372 420.4 373.7 425.2 375.4 424.4 377.2 419.6 378.9 412.6 380.6 414.1 382.3 414.2 384 413.3 385.7 417.6 387.5 426.9 389.2 428.5 390.9 428.4 392.6 427.1 394.3 429.6 396.1 435.3 397.8 439.1 399.5 441.2 401.2 446.1 402.9 450 404.6 456.8 406.4 456.2 408.1 454.5 409.8 458.8 411.5 460.5 413.2 461 415 467 416.7 469.8 418.4 473.5 420.1 475 421.8 482.7 423.6 483.2 425.3 492.2 427 482.7 428.7 481.6 430.4 486.5 432.1 486.4 433.9 478.2 435.6 480.2 437.3 488 439 486.3 440.7 486.2 442.5 481.2 444.2 478.6 445.9 483.4 447.6 477.5 449.3 464 451 452.3 452.8 447.9 454.5 437.6 456.2 431.3 457.9 426.4 459.6 415.9 461.4 424.4 463.1 412.9 464.8 404 466.5 404 468.2 399.6 469.9 402.2 471.7 401.3 473.4 400.8 475.1 404.1 476.8 402.9 478.5 407.6 480.3 404 482 394.2 483.7 387.2 485.4 390.7 487.1 385.8 488.9 388.4 490.6 397.1 492.3 400.1 494 399.9 495.7 399.7 497.4 395.8 499.2 399.5 500.9 401.1 502.6 396.6 504.3 397.9 506 398 507.8 399.5 509.5 397.4 511.2 396 512.9 401.5 514.6 397.3 516.3 402.1 518.1 399.8 519.8 401.1 521.5 398.1 523.2 397.9 524.9 396.2 526.7 393.1 528.4 391.5 530.1 388.6 531.8 387.1 533.5 390.1 535.2 395.6 537 391.1 538.7 385.6 540.4 391.9 542.1 390.8 543.8 395.6 545.6 396.3 547.3 394.7 549 396.7 550.7 399.5 552.4 407.5 554.2 404.6 555.9 401 557.6 392.6 559.3 395.6 561 395.7 562.7 395.1 564.5 390.8 566.2 398.7 567.9 397.4 569.6 406.3 571.3 418.5 573.1 430.2 574.8 437.5 576.5 435.3 578.2 442.1 579.9 448.8 581.6 451.5 583.4 446.6 585.1 445.1 586.8 445 588.5 444.6 590.2 445.3 592 451 593.7 457.5 595.4 452.2 597.1 454.3 598.8 456.4 600.5 460.2 602.3 458.2 604 453.1 605.7 456.5 607.4 456.1 609.1 455.7 610.9 453.1 612.6 454.3 614.3 455 616 458.1 617.7 458.5 619.5 462.8 621.2 460.3 622.9 463.2 624.6 458.5 626.3 465.9 628 471.9 629.8 467.6 631.5 465.7 633.2 472.4 634.9 460.3 636.6 463.3 638.4 459.4 640.1 462.6 641.8 459.8 643.5 455.7 645.2 459 646.9 457.2 648.7 453.3 650.4 445.3 652.1 443.9 653.8 441 655.5 442 657.3 441.8 659 441.9 660.7 444.7 662.4 453.4 664.1 458.7 665.8 454 667.6 448.4 669.3 446.6 671 448.1 672.7 448.9 674.4 452.5 676.2 444.9 677.9 451.7 679.6 442.5 681.3 443.7 683 432.1 684.8 433.1 686.5 437 688.2 437.9 689.9 441.3 691.6 435.5 693.3 438.3 695.1 439.3 696.8 444.5 698.5 441.8 700.2 448.6 701.9 449.6 703.7 442.4 705.4 450.7 707.1 445.8 708.8 438.5 710.5 437.4 712.2 430.6 714 427 715.7 427.7 717.4 436.7 719.1 437.8 720.8 437.9 722.6 432.4 724.3 433.3 726 434.8 727.7 439.3 729.4 437.8 731.1 435.1 732.9 444.4 734.6 440.8 736.3 436.7 738 436.8 739.7 435 741.5 435.4 743.2 429.4 744.9 431.2 746.6 424.9 748.3 424.3 750.1 433.2 751.8 432.4 753.5 429.4 755.2 425.2 756.9 425.6 758.6 427.1 760.4 424.5 762.1 419.8 763.8 430.8" fill="none" stroke="#3b9a3b" stroke-width="1.25" stroke-linejoin="round"/>
<path d="M325.6 417.3 327.3 420 329 411.8 330.8 411.8 332.5 416.7 334.2 408.3 335.9 401.2 337.6 404.9 339.3 402.7 341.1 403.6 342.8 402.1 344.5 398.7 346.2 401.6 347.9 402.8 349.7 404.7 351.4 411.7 353.1 407.4 354.8 403.1 356.5 403.1 358.3 403.7 360 400.9 361.7 405.7 363.4 410.7 365.1 408.2 366.8 408.1 368.6 402 370.3 411.1 372 411.5 373.7 416.8 375.4 406.5 377.2 410.4 378.9 407.7 380.6 417.8 382.3 418.8 384 411.9 385.7 411.9 387.5 412.9 389.2 408.5 390.9 408.1 392.6 408.1 394.3 407.7 396.1 411.8 397.8 407.5 399.5 408.1 401.2 415.8 402.9 423 404.6 434 406.4 438.5 408.1 431.7 409.8 437.8 411.5 439 413.2 431.8 415 430.1 416.7 432.6 418.4 434.5 420.1 439.3 421.8 440.6 423.6 442.2 425.3 436 427 434.5 428.7 439.9 430.4 434.5 432.1 435.3 433.9 434.5 435.6 433.2 437.3 435.5 439 438.2 440.7 434.3 442.5 431.2 444.2 433.7 445.9 433.9 447.6 431.4 449.3 427.8 451 426.9 452.8 430.9 454.5 422.2 456.2 422.6 457.9 423.3 459.6 421.1 461.4 414.5 463.1 411 464.8 416.8 466.5 417 468.2 416.8 469.9 412.7 471.7 406 473.4 404.8 475.1 393.4 476.8 390.5 478.5 387.1 480.3 387.9 482 396.7 483.7 395.5 485.4 402.8 487.1 405.8 488.9 403 490.6 402 492.3 399 494 400.8 495.7 396.6 497.4 395 499.2 396.2 500.9 401.7 502.6 405 504.3 400.8 506 390.9 507.8 398.3 509.5 400.8 511.2 406.9 512.9 417.5 514.6 412.2 516.3 409.8 518.1 406.3 519.8 409.7 521.5 412.8 523.2 405.7 524.9 410.7 526.7 407.2 528.4 403.8 530.1 405.4 531.8 408.6 533.5 407.7 535.2 415.7 537 415.3 538.7 415.7 540.4 420.5 542.1 419.6 543.8 414.7 545.6 406.1 547.3 414.9 549 414.9 550.7 415 552.4 418.2 554.2 421.6 555.9 419.6 557.6 417.5 559.3 425.5 561 419.2 562.7 422.4 564.5 424.1 566.2 428.4 567.9 424.6 569.6 433.1 571.3 435.8 573.1 435.7 574.8 440 576.5 439.7 578.2 436.8 579.9 432.6 581.6 435.8 583.4 439.4 585.1 439.1 586.8 440.5 588.5 446.1 590.2 442.3 592 444.5 593.7 448.5 595.4 443.6 597.1 442 598.8 446.5 600.5 443.5 602.3 447.1 604 448.9 605.7 451.8 607.4 446.2 609.1 446.6 610.9 444 612.6 450.2 614.3 450.8 616 456.6 617.7 456.3 619.5 455.2 621.2 453.7 622.9 458.3 624.6 450.9 626.3 457.1 628 449.9 629.8 450.9 631.5 447 633.2 453.1 634.9 452.8 636.6 450.2 638.4 441.6 640.1 442.6 641.8 437.3 643.5 439.1 645.2 435.1 646.9 437.5 648.7 437.9 650.4 434 652.1 439.6 653.8 444.2 655.5 439.5 657.3 428 659 422.8 660.7 424.5 662.4 423.3 664.1 424.1 665.8 424.9 667.6 421.2 669.3 429.2 671 434.8 672.7 441.6 674.4 441.8 676.2 434.3 677.9 434.1 679.6 438.9 681.3 439.4 683 438.9 684.8 432.5 686.5 430.5 688.2 429.8 689.9 426.1 691.6 426.7 693.3 425 695.1 431.8 696.8 436.9 698.5 438.8 700.2 430.2 701.9 437.6 703.7 437 705.4 434.7 707.1 438.8 708.8 442.2 710.5 430.4 712.2 431.3 714 432.7 715.7 430.6 717.4 430.1 719.1 436.1 720.8 441.2 722.6 438.2 724.3 438.7 726 436 727.7 439.5 729.4 426.3 731.1 426.5 732.9 420.5 734.6 426.9 736.3 429.7 738 433.1 739.7 432.9 741.5 430.9 743.2 433.3 744.9 437 746.6 437.6 748.3 436.2 750.1 431.1 751.8 437.7 753.5 438.9 755.2 435 756.9 428.9 758.6 432.5 760.4 432.1 762.1 434.2 763.8 436.1" fill="none" stroke="#3b9a3b" stroke-width="1.25" stroke-linejoin="round"/>
<path d="M325.6 415.2 327.3 413.9 329 415.3 330.8 414.5 332.5 413.8 334.2 405.2 335.9 405.1 337.6 397.4 339.3 398.7 341.1 397.6 342.8 400 344.5 397.6 346.2 391.2 347.9 386.3 349.7 394.2 351.4 385.1 353.1 387.7 354.8 388.3 356.5 386.6 358.3 389.1 360 394.2 361.7 394.4 363.4 396.7 365.1 389.4 366.8 392.9 368.6 405 370.3 398.5 372 397.5 373.7 399.7 375.4 408.8 377.2 394.1 378.9 398.6 380.6 401.1 382.3 403.1 384 400.8 385.7 399.9 387.5 397.7 389.2 395.8 390.9 396.5 392.6 392.6 394.3 399 396.1 396.6 397.8 398.9 399.5 403.3 401.2 404.8 402.9 409.3 404.6 412.1 406.4 416.5 408.1 420.8 409.8 429.7 411.5 434.7 413.2 436 415 431.5 416.7 433.3 418.4 433.5 420.1 439 421.8 444.8 423.6 442.3 425.3 434.1 427 443 428.7 439.2 430.4 448.1 432.1 454 433.9 457.6 435.6 459.5 437.3 453.8 439 451.4 440.7 449.2 442.5 449 444.2 441.9 445.9 432.4 447.6 432.6 449.3 435.9 451 439.9 452.8 438.7 454.5 440.7 456.2 431.6 457.9 434.8 459.6 432.6 461.4 439.6 463.1 434.3 464.8 430.7 466.5 426.3 468.2 423.9 469.9 426.5 471.7 408.4 473.4 413.6 475.1 407.1 476.8 408.4 478.5 413.3 480.3 409 482 403.9 483.7 402.3 485.4 411 487.1 414.5 488.9 411.6 490.6 410.6 492.3 408 494 411.3 495.7 419.9 497.4 423.7 499.2 420.5 500.9 424.1 502.6 428.2 504.3 423.2 506 417.1 507.8 421.7 509.5 423.1 511.2 424 512.9 420.6 514.6 423.5 516.3 425.2 518.1 425.2 519.8 429.9 521.5 420.8 523.2 413.9 524.9 415.3 526.7 415.7 528.4 415.4 530.1 415.8 531.8 419 533.5 416 535.2 414.3 537 412.6 538.7 420.2 540.4 421 542.1 428.1 543.8 418.9 545.6 427 547.3 427.2 549 420.8 550.7 430.2 552.4 429 554.2 435.7 555.9 429.7 557.6 431.2 559.3 433.7 561 437.4 562.7 434.4 564.5 434.7 566.2 433.2 567.9 432.2 569.6 437.8 571.3 438.6 573.1 435.4 574.8 437 576.5 439 578.2 440.7 579.9 442.8 581.6 442.7 583.4 443.3 585.1 432.6 586.8 435.2 588.5 439.8 590.2 433.6 592 431.8 593.7 432 595.4 425.9 597.1 425.6 598.8 427.7 600.5 423.1 602.3 414.8 604 412.4 605.7 415.4 607.4 417.5 609.1 420.5 610.9 419.2 612.6 421.9 614.3 421.2 616 422.6 617.7 421.8 619.5 430.7 621.2 428.8 622.9 430.2 624.6 430.7 626.3 428.5 628 434.4 629.8 437.1 631.5 435.3 633.2 435.1 634.9 432 636.6 431.9 638.4 439.3 640.1 438.6 641.8 439.9 643.5 439.1 645.2 434.4 646.9 434.2 648.7 434.7 650.4 439.9 652.1 437.9 653.8 431 655.5 427.1 657.3 431.2 659 434 660.7 431.2 662.4 425.7 664.1 426.7 665.8 418.5 667.6 409.7 669.3 416.9 671 409.2 672.7 405 674.4 418.9 676.2 426.8 677.9 426.4 679.6 425.5 681.3 428.4 683 426.7 684.8 422.4 686.5 426.4 688.2 434.9 689.9 432.8 691.6 427.2 693.3 421.1 695.1 419.1 696.8 433.4 698.5 436.2 700.2 433.6 701.9 434.8 703.7 429.9 705.4 426.4 707.1 421.8 708.8 415.8 710.5 419.4 712.2 411.6 714 419.5 715.7 423.1 717.4 425.5 719.1 426.2 720.8 420.2 722.6 411.8 724.3 418.8 726 413.8 727.7 402.8 729.4 398.6 731.1 406.1 732.9 401.5 734.6 397.4 736.3 406.6 738 407.9 739.7 402 741.5 400.8 743.2 396.4 744.9 392.5 746.6 400.1 748.3 404.6 750.1 398.7 751.8 399.7 753.5 395.3 755.2 393.5 756.9 397.9 758.6 393.5 760.4 392.5 762.1 396.3 763.8 398.1" fill="none" stroke="#3b9a3b" stroke-width="1.25" stroke-linejoin="round"/>
<path d="M325.6 421 327.3 422.9 329 420.3 330.8 415.9 332.5 414.5 334.2 416.4 335.9 422.3 337.6 419.7 339.3 418.5 341.1 419.8 342.8 421.2 344.5 412.1 346.2 406.5 347.9 414.9 349.7 410.6 351.4 410.3 353.1 404.7 354.8 412.2 356.5 410 358.3 415.3 360 417.8 361.7 417.8 363.4 415.1 365.1 416.9 366.8 424.3 368.6 419.5 370.3 419.9 372 421.1 373.7 428.1 375.4 427.3 377.2 420.3 378.9 415.1 380.6 414.6 382.3 419.7 384 415.9 385.7 419.8 387.5 416 389.2 418.4 390.9 424.3 392.6 420.4 394.3 419.1 396.1 420.3 397.8 426.6 399.5 432.4 401.2 428.3 402.9 431.5 404.6 427.2 406.4 424.8 408.1 435 409.8 439.1 411.5 452.8 413.2 450.8 415 452.5 416.7 450.6 418.4 452.5 420.1 455.1 421.8 458.2 423.6 460.2 425.3 453.6 427 451.8 428.7 444.7 430.4 445.4 432.1 450.5 433.9 452.8 435.6 445.6 437.3 453.6 439 449.6 440.7 447.1 442.5 452.2 444.2 441.4 445.9 437.7 447.6 435.3 449.3 435.5 451 431.3 452.8 427.9 454.5 420.1 456.2 419 457.9 405.4 459.6 407.5 461.4 404.3 463.1 403.9 464.8 397.1 466.5 397.4 468.2 389.5 469.9 385.6 471.7 385 473.4 393.4 475.1 392.2 476.8 391.8 478.5 387.3 480.3 393 482 388.1 483.7 384.6 485.4 385.4 487.1 384.3 488.9 386.6 490.6 382.4 492.3 390.7 494 394.1 495.7 383.2 497.4 387 499.2 390 500.9 396.2 502.6 398.1 504.3 397.7 506 404 507.8 410.1 509.5 410 511.2 401.8 512.9 404.4 514.6 394.3 516.3 393.6 518.1 395.6 519.8 401.7 521.5 401.8 523.2 391.9 524.9 403 526.7 402.9 528.4 397.3 530.1 396.4 531.8 399.1 533.5 403.6 535.2 401.3 537 411.2 538.7 403.4 540.4 409.6 542.1 419 543.8 418.7 545.6 418.4 547.3 419.6 549 426.2 550.7 427 552.4 420 554.2 417 555.9 411.6 557.6 412 559.3 418 561 419.2 562.7 418.9 564.5 418.7 566.2 418.7 567.9 417.5 569.6 412.1 571.3 410.3 573.1 417.3 574.8 415.6 576.5 416.7 578.2 421.8 579.9 423.1 581.6 425.8 583.4 426.1 585.1 434.7 586.8 440.2 588.5 432.4 590.2 435.7 592 430.7 593.7 426.7 595.4 428.8 597.1 423.5 598.8 431.5 600.5 431.9 602.3 438.3 604 436.5 605.7 431.6 607.4 432.4 609.1 434.3 610.9 441.1 612.6 440.4 614.3 444.3 616 443.3 617.7 446.2 619.5 441.4 621.2 439.8 622.9 439.6 624.6 437.9 626.3 435.1 628 438.8 629.8 444.4 631.5 448.1 633.2 441.4 634.9 442.7 636.6 449.2 638.4 452.8 640.1 445.3 641.8 446.1 643.5 437.9 645.2 432.8 646.9 436.1 648.7 437.8 650.4 440.8 652.1 435.1 653.8 439.9 655.5 435.1 657.3 434.9 659 426.5 660.7 428.4 662.4 431.2 664.1 427.2 665.8 431.1 667.6 426.5 669.3 427.4 671 429.6 672.7 430.2 674.4 430.6 676.2 436.7 677.9 433.2 679.6 433.7 681.3 436.2 683 429.9 684.8 430 686.5 424.3 688.2 435 689.9 429.1 691.6 430.4 693.3 425.1 695.1 428.5 696.8 432.9 698.5 436.4 700.2 434.4 701.9 441.2 703.7 440.7 705.4 442.5 707.1 429.4 708.8 427.9 710.5 430.7 712.2 443.2 714 439.6 715.7 439.3 717.4 436.8 719.1 434.7 720.8 436.4 722.6 439.9 724.3 437.9 726 436 727.7 434.3 729.4 433.1 731.1 430.5 732.9 434 734.6 429.2 736.3 431.4 738 430.6 739.7 433.4 741.5 432 743.2 425.5 744.9 425.5 746.6 426.6 748.3 427.4 750.1 430.9 751.8 435.9 753.5 442.7 755.2 438.1 756.9 433.8 758.6 430.5 760.4 439.3 762.1 440.8 763.8 436.9" fill="none" stroke="#3b9a3b" stroke-width="1.25" stroke-linejoin="round"/>
<path d="M325.6 423.7 327.3 426.4 329 423.6 330.8 421.1 332.5 428.8 334.2 425.2 335.9 426.4 337.6 427 339.3 423.7 341.1 425.1 342.8 429.8 344.5 422.8 346.2 419.7 347.9 417.9 349.7 418.6 351.4 425.8 353.1 425.1 354.8 418.1 356.5 419.1 358.3 421.6 360 422.7 361.7 425.5 363.4 426.6 365.1 427.6 366.8 431.4 368.6 432.2 370.3 432.1 372 431.8 373.7 421.5 375.4 426.5 377.2 433.5 378.9 433.3 380.6 439.6 382.3 428.9 384 431.8 385.7 431.6 387.5 430.4 389.2 429.7 390.9 435.8 392.6 436.4 394.3 439.5 396.1 441.3 397.8 440.5 399.5 445.6 401.2 440.8 402.9 444.7 404.6 443.5 406.4 449.2 408.1 451 409.8 454.2 411.5 450.3 413.2 451.7 415 456 416.7 461.2 418.4 451.7 420.1 453.3 421.8 453.5 423.6 453.4 425.3 456.4 427 455.2 428.7 460.5 430.4 462.1 432.1 457.1 433.9 465.7 435.6 465.7 437.3 468.8 439 460.8 440.7 462.4 442.5 460.6 444.2 458.7 445.9 460.6 447.6 458.7 449.3 463 451 457.9 452.8 459.9 454.5 452.4 456.2 449.5 457.9 444.4 459.6 432.7 461.4 425.5 463.1 419.2 464.8 418.8 466.5 414.4 468.2 409.7 469.9 403.2 471.7 401.4 473.4 401.4 475.1 392.7 476.8 393 478.5 393 480.3 398.2 482 401.1 483.7 403 485.4 406.6 487.1 405.1 488.9 403.2 490.6 406.3 492.3 407.6 494 402.3 495.7 409.7 497.4 408.8 499.2 401.8 500.9 400.1 502.6 400 504.3 395.9 506 395 507.8 397.2 509.5 404.6 511.2 412.5 512.9 415.9 514.6 409.9 516.3 414 518.1 416.1 519.8 410.1 521.5 412.1 523.2 410.9 524.9 417.1 526.7 417.8 528.4 418.4 530.1 419.1 531.8 423.1 533.5 422.9 535.2 416.2 537 415.2 538.7 412.2 540.4 416.9 542.1 409.8 543.8 415.8 545.6 419 547.3 418.3 549 421.9 550.7 421.8 552.4 416.4 554.2 417.1 555.9 421.6 557.6 417.9 559.3 423.5 561 427.1 562.7 426.9 564.5 427.1 566.2 437.9 567.9 435.4 569.6 438 571.3 443.4 573.1 447.6 574.8 450.5 576.5 454.9 578.2 447.1 579.9 441.6 581.6 444.6 583.4 445.5 585.1 446.1 586.8 441.9 588.5 442.3 590.2 437.2 592 439.2 593.7 436.6 595.4 447.3 597.1 452 598.8 450.5 600.5 451.2 602.3 454 604 457 605.7 460.5 607.4 456.4 609.1 455.3 610.9 451 612.6 453.8 614.3 453.3 616 451.1 617.7 448.8 619.5 452.8 621.2 453.3 622.9 446.3 624.6 458.7 626.3 456 628 454.4 629.8 456.1 631.5 463.6 633.2 461.5 634.9 463.8 636.6 465.2 638.4 467.1 640.1 469.1 641.8 465.5 643.5 468 645.2 460.3 646.9 457.4 648.7 457.4 650.4 454.5 652.1 448.7 653.8 449.3 655.5 444.4 657.3 433.6 659 436 660.7 436 662.4 440.3 664.1 440.8 665.8 444.4 667.6 439.6 669.3 446.2 671 449.9 672.7 457.4 674.4 459.2 676.2 464.5 677.9 468.3 679.6 461 681.3 457.4 683 458.6 684.8 461.7 686.5 462.9 688.2 468.1 689.9 466.5 691.6 460.6 693.3 466.4 695.1 457.3 696.8 459.9 698.5 456 700.2 457.4 701.9 465.1 703.7 470.7 705.4 461.6 707.1 455.4 708.8 459 710.5 447.5 712.2 448.1 714 433.9 715.7 440.4 717.4 438.7 719.1 441.5 720.8 446.9 722.6 444 724.3 448.6 726 452.2 727.7 450.6 729.4 455.2 731.1 458.9 732.9 458 734.6 456 736.3 452.9 738 450 739.7 454.1 741.5 449.1 743.2 451.4 744.9 454.9 746.6 452.1 748.3 449.4 750.1 453.4 751.8 458.4 753.5 458.3 755.2 460.5 756.9 467.7 758.6 467.2 760.4 467.3 762.1 466.9 763.8 465.7" fill="none" stroke="#3b9a3b" stroke-width="1.25" stroke-linejoin="round"/>
<path d="M325.6 418.3 327.3 413 329 418.3 330.8 417.1 332.5 413.2 334.2 423.8 335.9 414.6 337.6 412.5 339.3 399.8 341.1 399.2 342.8 405.5 344.5 405.4 346.2 407.1 347.9 405.1 349.7 412.1 351.4 409.2 353.1 409.9 354.8 410.4 356.5 407.8 358.3 407.6 360 399.8 361.7 402.2 363.4 402.2 365.1 408.3 366.8 412.8 368.6 406.7 370.3 411.7 372 417.8 373.7 421.9 375.4 423.2 377.2 425.2 378.9 424.8 380.6 415.6 382.3 415.5 384 411.9 385.7 402.6 387.5 408.5 389.2 412.4 390.9 419.8 392.6 413 394.3 412.1 396.1 421.8 397.8 416.3 399.5 415.1 401.2 429.9 402.9 434.6 404.6 429.3 406.4 433.9 408.1 433.8 409.8 426.4 411.5 422.7 413.2 424.2 415 420.3 416.7 415.2 418.4 419.2 420.1 409.2 421.8 411.6 423.6 414.4 425.3 423.6 427 428.8 428.7 432.1 430.4 426.5 432.1 431 433.9 424.1 435.6 420.8 437.3 425.2 439 425.2 440.7 417.5 442.5 421.8 444.2 429.7 445.9 427.7 447.6 421.4 449.3 412.5 451 407.3 452.8 394 454.5 390.1 456.2 389.1 457.9 383.1 459.6 377.5 461.4 376.6 463.1 371.9 464.8 369.3 466.5 369.2 468.2 369.9 469.9 374.8 471.7 373.7 473.4 376.8 475.1 372.3 476.8 372.5 478.5 378.4 480.3 378.4 482 378.8 483.7 383.4 485.4 382.8 487.1 378.7 488.9 369.8 490.6 370.5 492.3 369 494 368.9 495.7 368.9 497.4 368.9 499.2 368.9 500.9 373.3 502.6 378.9 504.3 382.2 506 384.9 507.8 383.1 509.5 383.1 511.2 382 512.9 394.7 514.6 397.8 516.3 398.9 518.1 405.9 519.8 415.4 521.5 410.1 523.2 399.7 524.9 406 526.7 404.8 528.4 396.7 530.1 399.4 531.8 401.3 533.5 406.9 535.2 406.6 537 402.7 538.7 399.9 540.4 403.9 542.1 401.8 543.8 410.3 545.6 413.5 547.3 412.9 549 413 550.7 409.8 552.4 414 554.2 424.7 555.9 417.8 557.6 409.9 559.3 411.7 561 416.6 562.7 421.4 564.5 422.6 566.2 430.4 567.9 429.8 569.6 432.3 571.3 436.9 573.1 434.2 574.8 432.1 576.5 425.6 578.2 429.1 579.9 425.1 581.6 431.9 583.4 436 585.1 435.3 586.8 441.2 588.5 441.4 590.2 445.6 592 448.6 593.7 449.1 595.4 444.4 597.1 444.3 598.8 446.2 600.5 438.6 602.3 440.6 604 438.5 605.7 438.7 607.4 436.8 609.1 437.2 610.9 440 612.6 437.6 614.3 435.7 616 433.5 617.7 432.5 619.5 432.3 621.2 438.4 622.9 434.2 624.6 431.7 626.3 434.7 628 435.5 629.8 436.9 631.5 432.7 633.2 442.6 634.9 444 636.6 440.7 638.4 447.2 640.1 443.9 641.8 431.5 643.5 435.5 645.2 432.1 646.9 432.4 648.7 429 650.4 428.7 652.1 423.9 653.8 426.8 655.5 415.1 657.3 412.2 659 409.7 660.7 410.6 662.4 407.9 664.1 407.4 665.8 403.3 667.6 403.7 669.3 403.4 671 396.9 672.7 394.6 674.4 391.4 676.2 392.9 677.9 405.5 679.6 404.7 681.3 402.6 683 403.5 684.8 400.9 686.5 399.1 688.2 401.3 689.9 402.2 691.6 405.3 693.3 402 695.1 411.1 696.8 417.4 698.5 411.7 700.2 418.6 701.9 414.4 703.7 413.1 705.4 406.7 707.1 410.7 708.8 412.7 710.5 409.8 712.2 407.3 714 408.3 715.7 409.5 717.4 406.6 719.1 401.6 720.8 410.1 722.6 402.5 724.3 398.6 726 399.3 727.7 406.7 729.4 409.7 731.1 417.6 732.9 414.9 734.6 413.8 736.3 413.8 738 412.7 739.7 418.1 741.5 412.6 743.2 413.1 744.9 412.2 746.6 410.4 748.3 409.2 750.1 406.2 751.8 406.4 753.5 406.5 755.2 410.7 756.9 412.2 758.6 417.4 760.4 413.8 762.1 413.7 763.8 412.8" fill="none" stroke="#3b9a3b" stroke-width="1.25" stroke-linejoin="round"/>
<path d="M325.6 422.1 327.3 419.2 329 421.2 330.8 415.6 332.5 422.3 334.2 415.1 335.9 411.5 337.6 414.5 339.3 413.2 341.1 409.7 342.8 413.2 344.5 412.3 346.2 409.1 347.9 409 349.7 412.5 351.4 419.5 353.1 415.7 354.8 413.2 356.5 408.5 358.3 409 360 418.2 361.7 423.6 363.4 429.2 365.1 424.7 366.8 425.4 368.6 424.8 370.3 426 372 431.3 373.7 427.3 375.4 432.6 377.2 437.4 378.9 436.3 380.6 429.6 382.3 421.3 384 419.6 385.7 418.9 387.5 417.4 389.2 415.1 390.9 411.4 392.6 417.8 394.3 421.3 396.1 408.9 397.8 419.7 399.5 431.5 401.2 433.8 402.9 436.1 404.6 439.2 406.4 431.3 408.1 429 409.8 435.9 411.5 426.9 413.2 433.4 415 435.7 416.7 441.9 418.4 447 420.1 445.2 421.8 439.9 423.6 440.3 425.3 443.1 427 446.3 428.7 442 430.4 449.1 432.1 446.5 433.9 447.5 435.6 445.1 437.3 443.7 439 443.7 440.7 444.4 442.5 437.7 444.2 425 445.9 423.1 447.6 422.8 449.3 424.3 451 418.3 452.8 414 454.5 403.7 456.2 404.9 457.9 396.4 459.6 399.3 461.4 394.2 463.1 388.2 464.8 389.1 466.5 394.5 468.2 389.5 469.9 385.3 471.7 378.4 473.4 374.7 475.1 369.7 476.8 377.8 478.5 374.5 480.3 377.1 482 377.4 483.7 389.1 485.4 386.7 487.1 388.1 488.9 388.8 490.6 379.2 492.3 386.6 494 390.5 495.7 390.5 497.4 391.4 499.2 398.3 500.9 403.5 502.6 402.6 504.3 407.3 506 403.3 507.8 405.6 509.5 411.1 511.2 406.2 512.9 403.9 514.6 402.2 516.3 404.2 518.1 403.9 519.8 408.6 521.5 417.3 523.2 417.5 524.9 417.2 526.7 417.6 528.4 414.8 530.1 406.9 531.8 405.2 533.5 405.9 535.2 406.2 537 413.5 538.7 406.5 540.4 409.8 542.1 407.7 543.8 409.2 545.6 410.6 547.3 409.1 549 415.7 550.7 416.1 552.4 421.2 554.2 424 555.9 434.6 557.6 432.6 559.3 432.8 561 432 562.7 437.2 564.5 442.2 566.2 440.2 567.9 441.7 569.6 440.4 571.3 446.3 573.1 455.1 574.8 458.4 576.5 462 578.2 465.4 579.9 467.6 581.6 470.6 583.4 474.7 585.1 480.9 586.8 481 588.5 482.7 590.2 485.3 592 491.9 593.7 491.9 595.4 487.6 597.1 483.8 598.8 489.7 600.5 483.5 602.3 484.7 604 477.7 605.7 477 607.4 478.8 609.1 470.7 610.9 475.3 612.6 470.7 614.3 469.1 616 465.9 617.7 463 619.5 463.8 621.2 462.3 622.9 474.3 624.6 474 626.3 473.3 628 483.4 629.8 489.2 631.5 489 633.2 490.3 634.9 482.2 636.6 477.9 638.4 479.6 640.1 479.5 641.8 470 643.5 472.3 645.2 474 646.9 463.9 648.7 459.5 650.4 462.9 652.1 460.4 653.8 467.8 655.5 461.6 657.3 449.3 659 454.5 660.7 453 662.4 455.7 664.1 461.1 665.8 461.7 667.6 464 669.3 469.2 671 462 672.7 456.1 674.4 451.2 676.2 448.7 677.9 447.2 679.6 447.2 681.3 447.1 683 451.3 684.8 448.2 686.5 448.1 688.2 452.2 689.9 449.7 691.6 445.5 693.3 439.5 695.1 445.5 696.8 440.7 698.5 445.5 700.2 444.8 701.9 439.9 703.7 441.9 705.4 444 707.1 447.3 708.8 440.3 710.5 442.9 712.2 439.6 714 438.6 715.7 435.8 717.4 429.8 719.1 429.5 720.8 422.8 722.6 419.7 724.3 425.3 726 433.5 727.7 434.8 729.4 435.8 731.1 429.7 732.9 431.9 734.6 431.2 736.3 439.7 738 437.1 739.7 430.9 741.5 433 743.2 438 744.9 438.5 746.6 437 748.3 436.6 750.1 436.5 751.8 435.5 753.5 439.5 755.2 439.9 756.9 440.9 758.6 441.8 760.4 448.7 762.1 445.7 763.8 443" fill="none" stroke="#3b9a3b" stroke-width="1.25" stroke-linejoin="round"/>
<path d="M325.6 427.2 327.3 433 329 426 330.8 429.5 332.5 431.9 334.2 431.6 335.9 432.9 337.6 429.6 339.3 426.5 341.1 437.3 342.8 435.1 344.5 430.7 346.2 430.1 347.9 429.5 349.7 432.5 351.4 437.3 353.1 444.6 354.8 437.6 356.5 439.2 358.3 441.1 360 442.3 361.7 444.8 363.4 445.9 365.1 442.7 366.8 443.7 368.6 451.5 370.3 451.8 372 453.4 373.7 452.8 375.4 453.1 377.2 446.9 378.9 448.1 380.6 441.4 382.3 437.3 384 439 385.7 443.8 387.5 441.3 389.2 443.8 390.9 434.5 392.6 431.2 394.3 439.7 396.1 436.2 397.8 436.9 399.5 439.9 401.2 443 402.9 436 404.6 442 406.4 445.8 408.1 441.4 409.8 443.8 411.5 452.2 413.2 439.1 415 441.4 416.7 448.5 418.4 439.1 420.1 442.9 421.8 446.2 423.6 451.1 425.3 449.9 427 450.7 428.7 452.1 430.4 448.6 432.1 451.7 433.9 456.7 435.6 460.8 437.3 455.6 439 452.6 440.7 452.8 442.5 445.5 444.2 441.3 445.9 442.5 447.6 444.8 449.3 441.9 451 442.7 452.8 438.4 454.5 433 456.2 427.2 457.9 433.1 459.6 431.3 461.4 425.1 463.1 421.5 464.8 419.3 466.5 419.6 468.2 416.9 469.9 410.1 471.7 413.4 473.4 417.7 475.1 415.6 476.8 414.2 478.5 421.4 480.3 424.8 482 430.2 483.7 428.7 485.4 425.8 487.1 426.4 488.9 429.8 490.6 432.5 492.3 430.5 494 426 495.7 426.2 497.4 427.2 499.2 422.8 500.9 426.9 502.6 430 504.3 435.1 506 429.5 507.8 427.3 509.5 430.6 511.2 431.8 512.9 438.3 514.6 441.4 516.3 439.4 518.1 435.6 519.8 445.1 521.5 435.1 523.2 430.9 524.9 435.5 526.7 432.4 528.4 433.1 530.1 434.1 531.8 433.9 533.5 434.9 535.2 434 537 434.1 538.7 432.1 540.4 436.5 542.1 442.3 543.8 442.6 545.6 441.9 547.3 443.5 549 440.4 550.7 444.5 552.4 451.1 554.2 447.7 555.9 445.2 557.6 446.1 559.3 447.4 561 453.7 562.7 455.2 564.5 455.7 566.2 458.5 567.9 465.8 569.6 465.3 571.3 469.6 573.1 468.2 574.8 461.5 576.5 455.6 578.2 458.5 579.9 456.7 581.6 455.4 583.4 455.8 585.1 452.6 586.8 459.4 588.5 456.7 590.2 454.5 592 457.2 593.7 463.1 595.4 463.2 597.1 462.7 598.8 460.3 600.5 455 602.3 453.1 604 460.1 605.7 453.5 607.4 460.1 609.1 460.1 610.9 463.5 612.6 457.4 614.3 457.3 616 451.1 617.7 454.5 619.5 453.2 621.2 446.9 622.9 450.1 624.6 446.1 626.3 447.1 628 448.9 629.8 456 631.5 455.5 633.2 448.3 634.9 451.1 636.6 450.3 638.4 445.6 640.1 450.3 641.8 450 643.5 449.2 645.2 450.9 646.9 446.7 648.7 440.3 650.4 438.4 652.1 439.7 653.8 439.3 655.5 446.1 657.3 441.8 659 444.3 660.7 438.6 662.4 442.2 664.1 437.5 665.8 440.8 667.6 442.7 669.3 448.6 671 444.5 672.7 442.1 674.4 437.7 676.2 442.4 677.9 448.6 679.6 442.8 681.3 456.2 683 458.8 684.8 452.7 686.5 452.8 688.2 458 689.9 457.3 691.6 450.7 693.3 452.7 695.1 455.1 696.8 450.6 698.5 454.4 700.2 453.7 701.9 448.7 703.7 457 705.4 458 707.1 451.7 708.8 450.1 710.5 440.6 712.2 441.2 714 440.7 715.7 446.3 717.4 448.7 719.1 439.8 720.8 442.8 722.6 440.9 724.3 441.7 726 431.5 727.7 440.7 729.4 437.8 731.1 438.8 732.9 444.1 734.6 445.2 736.3 442.7 738 432.7 739.7 432.1 741.5 434.4 743.2 437.3 744.9 445.7 746.6 450.8 748.3 446.7 750.1 452.3 751.8 445.4 753.5 443.5 755.2 438.8 756.9 440.3 758.6 446.5 760.4 442.3 762.1 448.8 763.8 449.1" fill="none" stroke="#3b9a3b" stroke-width="1.25" stroke-linejoin="round"/>
<line x1="325.6" y1="368.9" x2="325.6" y2="494.4" stroke="#222" stroke-width="1.4"/>
<text x="322.6" y="371.9" font-size="8" font-weight="bold" text-anchor="end">11.24</text>
<text x="322.6" y="402.3" font-size="8" text-anchor="end">5.00</text>
<text x="322.6" y="426.7" font-size="8" text-anchor="end">0.00</text>
<text x="322.6" y="451.1" font-size="8" text-anchor="end">-5.00</text>
<text x="322.6" y="475.4" font-size="8" text-anchor="end">-10.00</text>
<text x="322.6" y="497.4" font-size="8" font-weight="bold" text-anchor="end">-14.50</text>
<text x="325.6" y="504.9" font-size="8" text-anchor="middle" font-weight="bold">0</text>
<text x="411.5" y="512.2" font-size="8" text-anchor="middle">50</text>
<text x="497.4" y="504.9" font-size="8" text-anchor="middle">100</text>
<text x="583.4" y="512.2" font-size="8" text-anchor="middle">150</text>
<text x="669.3" y="504.9" font-size="8" text-anchor="middle">200</text>
<text x="763.8" y="504.9" font-size="8" text-anchor="middle" font-weight="bold">255</text>
<text x="545.6" y="516.4" font-size="8" text-anchor="middle">Timepoint</text>
<text transform="translate(292,431.6) rotate(-90)" font-size="8" text-anchor="middle">Value</text>
<circle cx="333.8" cy="347.5" r="3.8" fill="#2e9e2e"/>
<text x="339" y="350.4" font-size="8" stroke="#111" stroke-width="0.12">TS_1772627</text>
<circle cx="406.5" cy="347.5" r="3.8" fill="#2e9e2e"/>
<text x="411.7" y="350.4" font-size="8" stroke="#111" stroke-width="0.12">TS_26587315</text>
<circle cx="478.5" cy="347.5" r="3.8" fill="#2e9e2e"/>
<text x="483.7" y="350.4" font-size="8" stroke="#111" stroke-width="0.12">TS_45115662</text>
<circle cx="550.5" cy="347.5" r="3.8" fill="#2e9e2e"/>
<text x="555.7" y="350.4" font-size="8" stroke="#111" stroke-width="0.12">TS_5367910</text>
<circle cx="618.5" cy="347.5" r="3.8" fill="#2e9e2e"/>
<text x="623.7" y="350.4" font-size="8" stroke="#111" stroke-width="0.12">TS_43975627</text>
<circle cx="690.3" cy="347.5" r="3.8" fill="#2e9e2e"/>
<text x="695.5" y="350.4" font-size="8" stroke="#111" stroke-width="0.12">TS_15815005</text>
<circle cx="333.8" cy="359.4" r="3.8" fill="#2e9e2e"/>
<text x="339" y="362.3" font-size="8" stroke="#111" stroke-width="0.12">TS_43347620</text>
<circle cx="406.5" cy="359.4" r="3.8" fill="#2e9e2e"/>
<text x="411.7" y="362.3" font-size="8" stroke="#111" stroke-width="0.12">TS_13353015</text>
<circle cx="478.5" cy="359.4" r="3.8" fill="#2e9e2e"/>
<text x="483.7" y="362.3" font-size="8" stroke="#111" stroke-width="0.12">TS_35521091</text>
<circle cx="550.5" cy="359.4" r="3.8" fill="#2e9e2e"/>
<text x="555.7" y="362.3" font-size="8" stroke="#111" stroke-width="0.12">TS_9925256</text>
<circle cx="618.5" cy="359.4" r="3.8" fill="#e8141b"/>
<text x="623.7" y="362.3" font-size="8" stroke="#111" stroke-width="0.12">Q_19</text>
<rect x="285.7" y="525.7" width="491" height="8" rx="2.5" fill="#fff" stroke="#d6d6d6" stroke-width="1"/>
<rect x="285.7" y="525.7" width="90" height="8" rx="2.5" fill="#c9c9c9" stroke="#bababa" stroke-width="0.8"/>
<rect x="373.1" y="523" width="13.4" height="12.8" rx="2.5" fill="#e4e4e4" stroke="#d8d8d8" stroke-width="0.8"/>
<text x="499.5" y="548.1" font-size="12" fill="#505050" stroke="#505050" stroke-width="0.12">Query</text>
<text x="534.6" y="548.1" font-size="12" fill="#505050" stroke="#505050" stroke-width="0.12">#</text>
<text x="544.2" y="548.1" font-size="12" fill="#505050" stroke="#505050" stroke-width="0.12">:</text>
<text x="550.2" y="548.1" font-size="12" fill="#333" stroke="#333" stroke-width="0.22">19</text></g>
</svg>
</body></html>
